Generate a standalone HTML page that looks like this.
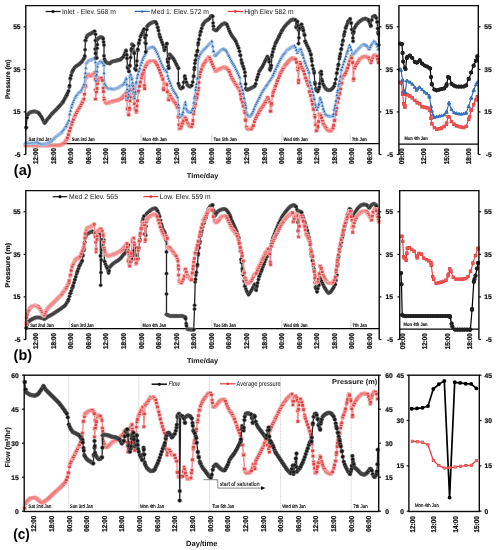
<!DOCTYPE html>
<html><head><meta charset="utf-8"><title>Pressure and flow time series</title>
<style>
html,body{margin:0;padding:0;background:#fff;}
body{width:496px;height:550px;overflow:hidden;}
svg{display:block;}
</style></head><body>
<svg width="496" height="550" viewBox="0 0 496 550" font-family="'Liberation Sans', Arial, sans-serif" text-rendering="geometricPrecision">
<rect width="496" height="550" fill="#fff"/>
<text x="28.6" y="140.8" font-size="5" text-anchor="start" font-weight="bold" fill="#111" textLength="23.7" lengthAdjust="spacingAndGlyphs" stroke="#111" stroke-width="0.12">Sat 2nd Jan</text>
<line x1="27" y1="134.5" x2="27" y2="142.5" stroke="#888" stroke-width="0.7" stroke-dasharray="0.8 0.8"/>
<text x="71.8" y="140.8" font-size="5" text-anchor="start" font-weight="bold" fill="#111" textLength="23" lengthAdjust="spacingAndGlyphs" stroke="#111" stroke-width="0.12">Sun 3rd Jan</text>
<line x1="70.2" y1="134.5" x2="70.2" y2="142.5" stroke="#888" stroke-width="0.7" stroke-dasharray="0.8 0.8"/>
<text x="142.6" y="140.8" font-size="5" text-anchor="start" font-weight="bold" fill="#111" textLength="24.2" lengthAdjust="spacingAndGlyphs" stroke="#111" stroke-width="0.12">Mon 4th Jan</text>
<line x1="141" y1="134.5" x2="141" y2="142.5" stroke="#888" stroke-width="0.7" stroke-dasharray="0.8 0.8"/>
<text x="213.4" y="140.8" font-size="5" text-anchor="start" font-weight="bold" fill="#111" textLength="23.5" lengthAdjust="spacingAndGlyphs" stroke="#111" stroke-width="0.12">Tue 5th Jan</text>
<line x1="211.8" y1="134.5" x2="211.8" y2="142.5" stroke="#888" stroke-width="0.7" stroke-dasharray="0.8 0.8"/>
<text x="283.4" y="140.8" font-size="5" text-anchor="start" font-weight="bold" fill="#111" textLength="24.5" lengthAdjust="spacingAndGlyphs" stroke="#111" stroke-width="0.12">Wed 6th Jan</text>
<line x1="281.8" y1="134.5" x2="281.8" y2="142.5" stroke="#888" stroke-width="0.7" stroke-dasharray="0.8 0.8"/>
<text x="351.9" y="140.8" font-size="5" text-anchor="start" font-weight="bold" fill="#111" textLength="15" lengthAdjust="spacingAndGlyphs" stroke="#111" stroke-width="0.12">7th Jan</text>
<line x1="350.3" y1="134.5" x2="350.3" y2="142.5" stroke="#888" stroke-width="0.7" stroke-dasharray="0.8 0.8"/>
<text x="404.4" y="139.9" font-size="5" text-anchor="start" font-weight="bold" fill="#111" textLength="23.2" lengthAdjust="spacingAndGlyphs" stroke="#111" stroke-width="0.12">Mon 4th Jan</text>
<line x1="25.8" y1="143.6" x2="379.2" y2="143.6" stroke="#000" stroke-width="1.15"/>
<line x1="398.9" y1="144" x2="478.3" y2="144" stroke="#000" stroke-width="1.25"/>
<path d="M25.5 145.3 L30 145.3 L35 145.5 L40 145.5 L45 145.3 L50 145.3 L55 145.3 L59.8 145.3 L64.3 143 L67.3 138.5 L69.6 131 L71.9 123.4 L74.9 115.8 L77.9 109.8 L80 106.9 L81.5 103.8 L83.9 99.2 L85.4 86.8 L86.2 77.6 L88.5 74.5 L90.8 76 L93.1 74.5 L94.7 72.9 L95.5 79.1 L95.5 89.9 L95.5 99.2 L97 88.4 L97.8 80.6 L99.3 77.6 L101.6 78.3 L103.2 82.2 L103.3 88.2 L103.9 98.3 L105.2 102.2 L107.1 103.4 L110.3 102.2 L114.1 100.9 L117.9 100.3 L121.7 98.3 L124.9 94.5 L126.2 93.2 L126.8 99.6 L127.4 108.5 L128.7 114.9 L129.4 109.8 L130 100.9 L131.3 90.7 L132.5 85.6 L133.2 88.2 L133.8 98.3 L135.1 108.5 L136.3 112.3 L137 106 L138.3 92 L140.2 83.1 L142.1 75.4 L144 70 L144.6 88.6 L145.2 67 L147.9 62.5 L151 61 L154.7 61 L157.2 64.8 L159.1 69.3 L161 74.4 L162.9 79.5 L163.6 89.7 L164.5 83.5 L166.8 84.6 L167.4 91 L168 96 L168.7 99.9 L169.9 94.8 L171.8 98.6 L173.8 101.1 L175.7 103.7 L177.6 107.5 L178.6 117.3 L178.9 124.9 L179.4 128.7 L180.9 127.9 L182.4 123.4 L184.7 117.3 L186.2 118.9 L187.7 123.4 L190 126.4 L192.2 126.4 L193 120.4 L193.7 111.3 L195.2 105.2 L196.8 97.7 L198.3 90.1 L199 82.6 L199.8 74 L202.8 65.5 L205.8 61 L208.9 57.2 L211.1 61 L213.4 67 L215.7 71.5 L217.9 70 L221 68.5 L224.7 67 L227 68.5 L229.3 71.5 L231.5 77.5 L234.6 82.6 L237.6 87.1 L240 91 L241 97.7 L243.3 105.2 L244.8 112.8 L245.6 120.4 L246.3 126.4 L247.1 128.7 L249.4 129.4 L251.6 128.7 L253.9 124.9 L254.7 120.4 L256.9 115.8 L259.2 111.3 L262.2 106.8 L265.2 102.2 L267.5 97.7 L269.8 102.2 L270.5 111.3 L271.3 105.2 L272.8 93.1 L275.1 87.1 L277.3 81 L280.4 73 L284.9 65.5 L288.7 61 L292.5 57.9 L295.5 59.4 L297 64 L297.8 70 L298.4 82.6 L299 68 L300 62.5 L301.5 67 L303.8 71.5 L305.3 77.5 L307.6 84 L309.1 87.1 L309.5 91.6 L311.8 100.7 L313.3 108.3 L314.8 117.3 L315.6 124.9 L316.3 131 L317.9 126.4 L319.4 114.3 L320.9 115.8 L323.1 123.4 L325.4 127.2 L327.7 130.2 L330.7 131 L333 127.9 L334.5 120.4 L336 111.3 L337.5 102.2 L339.8 93.1 L341.3 84 L342.8 76.5 L345 74 L347.3 68.5 L349.6 61 L351.1 56.4 L352.6 62.5 L353.4 80.3 L354.1 68.5 L356.4 64 L359.4 59.4 L362.5 57.2 L365.5 56.4 L368.5 57.9 L370.8 62.5 L372.3 57.9 L374.6 54.9 L376.8 56.4 L378.3 62.5" fill="none" stroke="#f08a8a" stroke-width="1.4" stroke-linejoin="round" stroke-linecap="round"/>
<g fill="#e43a3a" stroke="#f7c4c4" stroke-width="0.6"><rect x="23.9" y="143.7" width="3.3" height="3.3"/><rect x="23.9" y="143.7" width="3.3" height="3.3"/><rect x="24.9" y="143.7" width="3.3" height="3.3"/><rect x="25.9" y="143.7" width="3.3" height="3.3"/><rect x="26.9" y="143.7" width="3.3" height="3.3"/><rect x="27.9" y="143.7" width="3.3" height="3.3"/><rect x="28.9" y="143.7" width="3.3" height="3.3"/><rect x="29.9" y="143.7" width="3.3" height="3.3"/><rect x="30.9" y="143.8" width="3.3" height="3.3"/><rect x="31.9" y="143.8" width="3.3" height="3.3"/><rect x="32.9" y="143.8" width="3.3" height="3.3"/><rect x="33.9" y="143.8" width="3.3" height="3.3"/><rect x="34.9" y="143.8" width="3.3" height="3.3"/><rect x="35.9" y="143.8" width="3.3" height="3.3"/><rect x="36.9" y="143.8" width="3.3" height="3.3"/><rect x="37.9" y="143.8" width="3.3" height="3.3"/><rect x="38.9" y="143.8" width="3.3" height="3.3"/><rect x="39.9" y="143.8" width="3.3" height="3.3"/><rect x="40.9" y="143.8" width="3.3" height="3.3"/><rect x="41.9" y="143.7" width="3.3" height="3.3"/><rect x="42.9" y="143.7" width="3.3" height="3.3"/><rect x="43.9" y="143.7" width="3.3" height="3.3"/><rect x="44.9" y="143.7" width="3.3" height="3.3"/><rect x="45.9" y="143.7" width="3.3" height="3.3"/><rect x="46.9" y="143.7" width="3.3" height="3.3"/><rect x="47.9" y="143.7" width="3.3" height="3.3"/><rect x="48.9" y="143.7" width="3.3" height="3.3"/><rect x="49.9" y="143.7" width="3.3" height="3.3"/><rect x="50.9" y="143.7" width="3.3" height="3.3"/><rect x="51.9" y="143.7" width="3.3" height="3.3"/><rect x="52.9" y="143.7" width="3.3" height="3.3"/><rect x="53.9" y="143.7" width="3.3" height="3.3"/><rect x="54.9" y="143.7" width="3.3" height="3.3"/><rect x="55.9" y="143.7" width="3.3" height="3.3"/><rect x="56.9" y="143.7" width="3.3" height="3.3"/><rect x="57.9" y="143.7" width="3.3" height="3.3"/><rect x="58.9" y="143.3" width="3.3" height="3.3"/><rect x="59.9" y="142.8" width="3.3" height="3.3"/><rect x="60.9" y="142.3" width="3.3" height="3.3"/><rect x="61.9" y="141.8" width="3.3" height="3.3"/><rect x="62.9" y="141.0" width="3.3" height="3.3"/><rect x="63.9" y="139.5" width="3.3" height="3.3"/><rect x="64.8" y="138.0" width="3.3" height="3.3"/><rect x="65.6" y="136.8" width="3.3" height="3.3"/><rect x="65.8" y="136.2" width="3.3" height="3.3"/><rect x="66.8" y="132.9" width="3.3" height="3.3"/><rect x="67.8" y="129.7" width="3.3" height="3.3"/><rect x="67.9" y="129.3" width="3.3" height="3.3"/><rect x="68.8" y="126.4" width="3.3" height="3.3"/><rect x="69.8" y="123.1" width="3.3" height="3.3"/><rect x="70.2" y="121.8" width="3.3" height="3.3"/><rect x="70.8" y="120.2" width="3.3" height="3.3"/><rect x="71.8" y="117.7" width="3.3" height="3.3"/><rect x="72.8" y="115.2" width="3.3" height="3.3"/><rect x="73.2" y="114.1" width="3.3" height="3.3"/><rect x="73.8" y="113.0" width="3.3" height="3.3"/><rect x="74.8" y="111.0" width="3.3" height="3.3"/><rect x="75.8" y="109.0" width="3.3" height="3.3"/><rect x="76.8" y="107.3" width="3.3" height="3.3"/><rect x="77.8" y="105.9" width="3.3" height="3.3"/><rect x="78.8" y="104.2" width="3.3" height="3.3"/><rect x="79.8" y="102.1" width="3.3" height="3.3"/><rect x="80.8" y="100.2" width="3.3" height="3.3"/><rect x="81.8" y="98.3" width="3.3" height="3.3"/><rect x="82.2" y="97.5" width="3.3" height="3.3"/><rect x="82.8" y="92.6" width="3.3" height="3.3"/><rect x="83.8" y="85.1" width="3.3" height="3.3"/><rect x="83.8" y="84.0" width="3.3" height="3.3"/><rect x="84.5" y="75.9" width="3.3" height="3.3"/><rect x="84.8" y="75.5" width="3.3" height="3.3"/><rect x="85.8" y="74.2" width="3.3" height="3.3"/><rect x="86.8" y="72.8" width="3.3" height="3.3"/><rect x="87.8" y="73.5" width="3.3" height="3.3"/><rect x="88.8" y="74.2" width="3.3" height="3.3"/><rect x="89.8" y="73.9" width="3.3" height="3.3"/><rect x="90.8" y="73.2" width="3.3" height="3.3"/><rect x="91.8" y="72.4" width="3.3" height="3.3"/><rect x="92.8" y="71.5" width="3.3" height="3.3"/><rect x="93.0" y="71.2" width="3.3" height="3.3"/><rect x="93.8" y="77.4" width="3.3" height="3.3"/><rect x="93.8" y="77.4" width="3.3" height="3.3"/><rect x="93.8" y="88.2" width="3.3" height="3.3"/><rect x="93.8" y="97.5" width="3.3" height="3.3"/><rect x="94.8" y="90.3" width="3.3" height="3.3"/><rect x="95.3" y="86.8" width="3.3" height="3.3"/><rect x="95.8" y="81.9" width="3.3" height="3.3"/><rect x="96.1" y="78.9" width="3.3" height="3.3"/><rect x="96.8" y="77.5" width="3.3" height="3.3"/><rect x="97.8" y="76.0" width="3.3" height="3.3"/><rect x="98.8" y="76.3" width="3.3" height="3.3"/><rect x="99.8" y="76.6" width="3.3" height="3.3"/><rect x="100.8" y="78.8" width="3.3" height="3.3"/><rect x="101.6" y="86.5" width="3.3" height="3.3"/><rect x="101.8" y="89.9" width="3.3" height="3.3"/><rect x="102.2" y="96.6" width="3.3" height="3.3"/><rect x="102.8" y="98.4" width="3.3" height="3.3"/><rect x="103.8" y="100.7" width="3.3" height="3.3"/><rect x="104.8" y="101.4" width="3.3" height="3.3"/><rect x="105.8" y="101.6" width="3.3" height="3.3"/><rect x="106.8" y="101.2" width="3.3" height="3.3"/><rect x="107.8" y="100.8" width="3.3" height="3.3"/><rect x="108.8" y="100.5" width="3.3" height="3.3"/><rect x="109.8" y="100.1" width="3.3" height="3.3"/><rect x="110.8" y="99.8" width="3.3" height="3.3"/><rect x="111.8" y="99.5" width="3.3" height="3.3"/><rect x="112.8" y="99.2" width="3.3" height="3.3"/><rect x="113.8" y="99.0" width="3.3" height="3.3"/><rect x="114.8" y="98.9" width="3.3" height="3.3"/><rect x="115.8" y="98.7" width="3.3" height="3.3"/><rect x="116.8" y="98.3" width="3.3" height="3.3"/><rect x="117.8" y="97.8" width="3.3" height="3.3"/><rect x="118.8" y="97.3" width="3.3" height="3.3"/><rect x="119.8" y="96.8" width="3.3" height="3.3"/><rect x="120.8" y="95.7" width="3.3" height="3.3"/><rect x="121.8" y="94.5" width="3.3" height="3.3"/><rect x="122.8" y="93.3" width="3.3" height="3.3"/><rect x="123.8" y="92.2" width="3.3" height="3.3"/><rect x="124.5" y="91.5" width="3.3" height="3.3"/><rect x="124.8" y="94.8" width="3.3" height="3.3"/><rect x="125.1" y="97.9" width="3.3" height="3.3"/><rect x="125.8" y="106.8" width="3.3" height="3.3"/><rect x="125.8" y="107.3" width="3.3" height="3.3"/><rect x="126.8" y="112.3" width="3.3" height="3.3"/><rect x="127.0" y="113.2" width="3.3" height="3.3"/><rect x="127.8" y="108.1" width="3.3" height="3.3"/><rect x="127.8" y="106.7" width="3.3" height="3.3"/><rect x="128.3" y="99.2" width="3.3" height="3.3"/><rect x="128.8" y="95.3" width="3.3" height="3.3"/><rect x="129.7" y="89.0" width="3.3" height="3.3"/><rect x="129.8" y="88.2" width="3.3" height="3.3"/><rect x="130.8" y="83.9" width="3.3" height="3.3"/><rect x="131.5" y="86.5" width="3.3" height="3.3"/><rect x="131.8" y="91.6" width="3.3" height="3.3"/><rect x="132.2" y="96.6" width="3.3" height="3.3"/><rect x="132.8" y="102.1" width="3.3" height="3.3"/><rect x="133.4" y="106.8" width="3.3" height="3.3"/><rect x="133.8" y="108.1" width="3.3" height="3.3"/><rect x="134.7" y="110.6" width="3.3" height="3.3"/><rect x="134.8" y="108.9" width="3.3" height="3.3"/><rect x="135.3" y="104.3" width="3.3" height="3.3"/><rect x="135.8" y="99.0" width="3.3" height="3.3"/><rect x="136.7" y="90.3" width="3.3" height="3.3"/><rect x="136.8" y="89.4" width="3.3" height="3.3"/><rect x="137.8" y="84.7" width="3.3" height="3.3"/><rect x="138.5" y="81.4" width="3.3" height="3.3"/><rect x="138.8" y="80.2" width="3.3" height="3.3"/><rect x="139.8" y="76.2" width="3.3" height="3.3"/><rect x="140.4" y="73.8" width="3.3" height="3.3"/><rect x="140.8" y="72.6" width="3.3" height="3.3"/><rect x="141.8" y="69.8" width="3.3" height="3.3"/><rect x="142.3" y="68.3" width="3.3" height="3.3"/><rect x="142.8" y="83.9" width="3.3" height="3.3"/><rect x="142.9" y="86.9" width="3.3" height="3.3"/><rect x="143.5" y="65.3" width="3.3" height="3.3"/><rect x="143.8" y="64.8" width="3.3" height="3.3"/><rect x="144.8" y="63.2" width="3.3" height="3.3"/><rect x="145.8" y="61.5" width="3.3" height="3.3"/><rect x="146.8" y="60.6" width="3.3" height="3.3"/><rect x="147.8" y="60.1" width="3.3" height="3.3"/><rect x="148.8" y="59.6" width="3.3" height="3.3"/><rect x="149.8" y="59.4" width="3.3" height="3.3"/><rect x="150.8" y="59.4" width="3.3" height="3.3"/><rect x="151.8" y="59.4" width="3.3" height="3.3"/><rect x="152.8" y="59.4" width="3.3" height="3.3"/><rect x="153.8" y="60.6" width="3.3" height="3.3"/><rect x="154.8" y="62.1" width="3.3" height="3.3"/><rect x="155.8" y="63.9" width="3.3" height="3.3"/><rect x="156.8" y="66.2" width="3.3" height="3.3"/><rect x="157.8" y="68.7" width="3.3" height="3.3"/><rect x="158.8" y="71.4" width="3.3" height="3.3"/><rect x="159.8" y="74.1" width="3.3" height="3.3"/><rect x="160.8" y="76.8" width="3.3" height="3.3"/><rect x="161.2" y="77.8" width="3.3" height="3.3"/><rect x="161.8" y="86.6" width="3.3" height="3.3"/><rect x="161.9" y="88.0" width="3.3" height="3.3"/><rect x="162.8" y="81.8" width="3.3" height="3.3"/><rect x="162.8" y="81.8" width="3.3" height="3.3"/><rect x="163.8" y="82.3" width="3.3" height="3.3"/><rect x="164.8" y="82.8" width="3.3" height="3.3"/><rect x="165.2" y="82.9" width="3.3" height="3.3"/><rect x="165.8" y="89.3" width="3.3" height="3.3"/><rect x="165.8" y="90.2" width="3.3" height="3.3"/><rect x="166.8" y="97.1" width="3.3" height="3.3"/><rect x="167.0" y="98.2" width="3.3" height="3.3"/><rect x="167.8" y="94.8" width="3.3" height="3.3"/><rect x="168.2" y="93.1" width="3.3" height="3.3"/><rect x="168.8" y="94.3" width="3.3" height="3.3"/><rect x="169.8" y="96.3" width="3.3" height="3.3"/><rect x="170.8" y="97.8" width="3.3" height="3.3"/><rect x="171.8" y="99.1" width="3.3" height="3.3"/><rect x="172.8" y="100.4" width="3.3" height="3.3"/><rect x="173.8" y="101.8" width="3.3" height="3.3"/><rect x="174.8" y="103.7" width="3.3" height="3.3"/><rect x="175.8" y="105.7" width="3.3" height="3.3"/><rect x="175.9" y="105.8" width="3.3" height="3.3"/><rect x="176.8" y="114.7" width="3.3" height="3.3"/><rect x="176.9" y="115.6" width="3.3" height="3.3"/><rect x="177.2" y="123.2" width="3.3" height="3.3"/><rect x="177.8" y="127.0" width="3.3" height="3.3"/><rect x="178.8" y="126.5" width="3.3" height="3.3"/><rect x="179.8" y="124.5" width="3.3" height="3.3"/><rect x="180.8" y="121.8" width="3.3" height="3.3"/><rect x="180.8" y="121.5" width="3.3" height="3.3"/><rect x="181.8" y="118.8" width="3.3" height="3.3"/><rect x="182.8" y="116.2" width="3.3" height="3.3"/><rect x="183.0" y="115.6" width="3.3" height="3.3"/><rect x="183.8" y="116.5" width="3.3" height="3.3"/><rect x="184.8" y="118.2" width="3.3" height="3.3"/><rect x="185.8" y="121.2" width="3.3" height="3.3"/><rect x="186.8" y="122.8" width="3.3" height="3.3"/><rect x="187.8" y="124.1" width="3.3" height="3.3"/><rect x="188.8" y="124.8" width="3.3" height="3.3"/><rect x="189.8" y="124.8" width="3.3" height="3.3"/><rect x="190.8" y="122.5" width="3.3" height="3.3"/><rect x="191.3" y="118.8" width="3.3" height="3.3"/><rect x="191.8" y="112.2" width="3.3" height="3.3"/><rect x="192.0" y="109.6" width="3.3" height="3.3"/><rect x="192.8" y="106.4" width="3.3" height="3.3"/><rect x="193.5" y="103.5" width="3.3" height="3.3"/><rect x="193.8" y="102.1" width="3.3" height="3.3"/><rect x="194.8" y="97.5" width="3.3" height="3.3"/><rect x="195.2" y="96.0" width="3.3" height="3.3"/><rect x="195.8" y="92.5" width="3.3" height="3.3"/><rect x="196.7" y="88.4" width="3.3" height="3.3"/><rect x="196.8" y="86.3" width="3.3" height="3.3"/><rect x="197.3" y="80.9" width="3.3" height="3.3"/><rect x="197.8" y="75.6" width="3.3" height="3.3"/><rect x="198.2" y="72.3" width="3.3" height="3.3"/><rect x="198.8" y="70.4" width="3.3" height="3.3"/><rect x="199.8" y="67.5" width="3.3" height="3.3"/><rect x="200.8" y="64.7" width="3.3" height="3.3"/><rect x="201.2" y="63.9" width="3.3" height="3.3"/><rect x="201.8" y="62.8" width="3.3" height="3.3"/><rect x="202.8" y="61.3" width="3.3" height="3.3"/><rect x="203.8" y="59.8" width="3.3" height="3.3"/><rect x="204.8" y="58.5" width="3.3" height="3.3"/><rect x="205.8" y="57.3" width="3.3" height="3.3"/><rect x="206.8" y="56.0" width="3.3" height="3.3"/><rect x="207.2" y="55.6" width="3.3" height="3.3"/><rect x="207.8" y="56.6" width="3.3" height="3.3"/><rect x="208.8" y="58.3" width="3.3" height="3.3"/><rect x="209.8" y="60.4" width="3.3" height="3.3"/><rect x="210.8" y="63.0" width="3.3" height="3.3"/><rect x="211.8" y="65.5" width="3.3" height="3.3"/><rect x="212.8" y="67.5" width="3.3" height="3.3"/><rect x="213.8" y="69.5" width="3.3" height="3.3"/><rect x="214.8" y="69.3" width="3.3" height="3.3"/><rect x="215.8" y="68.6" width="3.3" height="3.3"/><rect x="216.8" y="68.1" width="3.3" height="3.3"/><rect x="217.8" y="67.6" width="3.3" height="3.3"/><rect x="218.8" y="67.1" width="3.3" height="3.3"/><rect x="219.8" y="66.6" width="3.3" height="3.3"/><rect x="220.8" y="66.2" width="3.3" height="3.3"/><rect x="221.8" y="65.8" width="3.3" height="3.3"/><rect x="222.8" y="65.4" width="3.3" height="3.3"/><rect x="223.8" y="65.9" width="3.3" height="3.3"/><rect x="224.8" y="66.5" width="3.3" height="3.3"/><rect x="225.8" y="67.5" width="3.3" height="3.3"/><rect x="226.8" y="68.8" width="3.3" height="3.3"/><rect x="227.8" y="70.4" width="3.3" height="3.3"/><rect x="228.8" y="73.1" width="3.3" height="3.3"/><rect x="229.8" y="75.8" width="3.3" height="3.3"/><rect x="230.8" y="77.5" width="3.3" height="3.3"/><rect x="231.8" y="79.1" width="3.3" height="3.3"/><rect x="232.8" y="80.8" width="3.3" height="3.3"/><rect x="233.8" y="82.3" width="3.3" height="3.3"/><rect x="234.8" y="83.8" width="3.3" height="3.3"/><rect x="235.8" y="85.3" width="3.3" height="3.3"/><rect x="236.8" y="86.9" width="3.3" height="3.3"/><rect x="237.8" y="88.5" width="3.3" height="3.3"/><rect x="238.3" y="89.3" width="3.3" height="3.3"/><rect x="238.8" y="92.7" width="3.3" height="3.3"/><rect x="239.3" y="96.0" width="3.3" height="3.3"/><rect x="239.8" y="97.7" width="3.3" height="3.3"/><rect x="240.8" y="100.9" width="3.3" height="3.3"/><rect x="241.7" y="103.5" width="3.3" height="3.3"/><rect x="241.8" y="104.6" width="3.3" height="3.3"/><rect x="242.8" y="109.6" width="3.3" height="3.3"/><rect x="243.2" y="111.1" width="3.3" height="3.3"/><rect x="243.8" y="117.8" width="3.3" height="3.3"/><rect x="243.9" y="118.8" width="3.3" height="3.3"/><rect x="244.8" y="125.3" width="3.3" height="3.3"/><rect x="245.8" y="127.2" width="3.3" height="3.3"/><rect x="246.8" y="127.5" width="3.3" height="3.3"/><rect x="247.8" y="127.7" width="3.3" height="3.3"/><rect x="248.8" y="127.4" width="3.3" height="3.3"/><rect x="249.8" y="127.1" width="3.3" height="3.3"/><rect x="250.8" y="125.6" width="3.3" height="3.3"/><rect x="251.8" y="123.9" width="3.3" height="3.3"/><rect x="252.8" y="119.9" width="3.3" height="3.3"/><rect x="253.8" y="117.1" width="3.3" height="3.3"/><rect x="254.8" y="115.0" width="3.3" height="3.3"/><rect x="255.8" y="113.0" width="3.3" height="3.3"/><rect x="256.9" y="111.0" width="3.3" height="3.3"/><rect x="257.9" y="109.2" width="3.3" height="3.3"/><rect x="258.9" y="107.7" width="3.3" height="3.3"/><rect x="259.9" y="106.2" width="3.3" height="3.3"/><rect x="260.9" y="104.7" width="3.3" height="3.3"/><rect x="261.9" y="103.2" width="3.3" height="3.3"/><rect x="262.9" y="101.6" width="3.3" height="3.3"/><rect x="263.9" y="100.0" width="3.3" height="3.3"/><rect x="264.9" y="98.0" width="3.3" height="3.3"/><rect x="265.9" y="96.0" width="3.3" height="3.3"/><rect x="265.9" y="96.0" width="3.3" height="3.3"/><rect x="266.9" y="98.0" width="3.3" height="3.3"/><rect x="267.9" y="100.0" width="3.3" height="3.3"/><rect x="268.2" y="100.5" width="3.3" height="3.3"/><rect x="268.9" y="109.6" width="3.3" height="3.3"/><rect x="268.9" y="109.6" width="3.3" height="3.3"/><rect x="269.7" y="103.5" width="3.3" height="3.3"/><rect x="269.9" y="101.9" width="3.3" height="3.3"/><rect x="270.9" y="93.9" width="3.3" height="3.3"/><rect x="271.2" y="91.4" width="3.3" height="3.3"/><rect x="271.9" y="89.6" width="3.3" height="3.3"/><rect x="272.9" y="87.0" width="3.3" height="3.3"/><rect x="273.5" y="85.4" width="3.3" height="3.3"/><rect x="273.9" y="84.3" width="3.3" height="3.3"/><rect x="274.9" y="81.6" width="3.3" height="3.3"/><rect x="275.7" y="79.3" width="3.3" height="3.3"/><rect x="275.9" y="78.8" width="3.3" height="3.3"/><rect x="276.9" y="76.3" width="3.3" height="3.3"/><rect x="277.9" y="73.7" width="3.3" height="3.3"/><rect x="278.8" y="71.3" width="3.3" height="3.3"/><rect x="278.9" y="71.2" width="3.3" height="3.3"/><rect x="279.9" y="69.5" width="3.3" height="3.3"/><rect x="280.9" y="67.8" width="3.3" height="3.3"/><rect x="281.9" y="66.2" width="3.3" height="3.3"/><rect x="282.9" y="64.5" width="3.3" height="3.3"/><rect x="283.2" y="63.9" width="3.3" height="3.3"/><rect x="283.9" y="63.1" width="3.3" height="3.3"/><rect x="284.9" y="62.0" width="3.3" height="3.3"/><rect x="285.9" y="60.8" width="3.3" height="3.3"/><rect x="286.9" y="59.6" width="3.3" height="3.3"/><rect x="287.9" y="58.7" width="3.3" height="3.3"/><rect x="288.9" y="57.9" width="3.3" height="3.3"/><rect x="289.9" y="57.1" width="3.3" height="3.3"/><rect x="290.9" y="56.2" width="3.3" height="3.3"/><rect x="291.9" y="56.8" width="3.3" height="3.3"/><rect x="292.9" y="57.2" width="3.3" height="3.3"/><rect x="293.9" y="57.8" width="3.3" height="3.3"/><rect x="294.9" y="60.8" width="3.3" height="3.3"/><rect x="295.9" y="66.1" width="3.3" height="3.3"/><rect x="296.2" y="68.3" width="3.3" height="3.3"/><rect x="296.8" y="80.9" width="3.3" height="3.3"/><rect x="296.9" y="78.5" width="3.3" height="3.3"/><rect x="297.4" y="66.3" width="3.3" height="3.3"/><rect x="297.9" y="63.6" width="3.3" height="3.3"/><rect x="298.4" y="60.9" width="3.3" height="3.3"/><rect x="298.9" y="62.4" width="3.3" height="3.3"/><rect x="299.9" y="65.3" width="3.3" height="3.3"/><rect x="300.9" y="67.3" width="3.3" height="3.3"/><rect x="301.9" y="69.3" width="3.3" height="3.3"/><rect x="302.9" y="72.6" width="3.3" height="3.3"/><rect x="303.7" y="75.8" width="3.3" height="3.3"/><rect x="303.9" y="76.4" width="3.3" height="3.3"/><rect x="304.9" y="79.2" width="3.3" height="3.3"/><rect x="305.9" y="82.1" width="3.3" height="3.3"/><rect x="306.0" y="82.3" width="3.3" height="3.3"/><rect x="306.9" y="84.2" width="3.3" height="3.3"/><rect x="307.9" y="89.9" width="3.3" height="3.3"/><rect x="307.9" y="89.9" width="3.3" height="3.3"/><rect x="308.9" y="93.9" width="3.3" height="3.3"/><rect x="309.9" y="97.9" width="3.3" height="3.3"/><rect x="310.2" y="99.0" width="3.3" height="3.3"/><rect x="310.9" y="102.6" width="3.3" height="3.3"/><rect x="311.7" y="106.6" width="3.3" height="3.3"/><rect x="311.9" y="107.8" width="3.3" height="3.3"/><rect x="312.9" y="113.8" width="3.3" height="3.3"/><rect x="313.2" y="115.6" width="3.3" height="3.3"/><rect x="313.9" y="122.3" width="3.3" height="3.3"/><rect x="314.0" y="123.2" width="3.3" height="3.3"/><rect x="314.7" y="129.3" width="3.3" height="3.3"/><rect x="314.9" y="128.8" width="3.3" height="3.3"/><rect x="315.9" y="125.9" width="3.3" height="3.3"/><rect x="316.2" y="124.8" width="3.3" height="3.3"/><rect x="316.9" y="119.9" width="3.3" height="3.3"/><rect x="317.8" y="112.6" width="3.3" height="3.3"/><rect x="317.9" y="112.8" width="3.3" height="3.3"/><rect x="318.9" y="113.8" width="3.3" height="3.3"/><rect x="319.2" y="114.1" width="3.3" height="3.3"/><rect x="319.9" y="116.2" width="3.3" height="3.3"/><rect x="320.9" y="119.7" width="3.3" height="3.3"/><rect x="321.5" y="121.8" width="3.3" height="3.3"/><rect x="321.9" y="122.4" width="3.3" height="3.3"/><rect x="322.9" y="124.1" width="3.3" height="3.3"/><rect x="323.9" y="125.7" width="3.3" height="3.3"/><rect x="324.9" y="127.0" width="3.3" height="3.3"/><rect x="325.9" y="128.3" width="3.3" height="3.3"/><rect x="326.9" y="128.8" width="3.3" height="3.3"/><rect x="327.9" y="129.0" width="3.3" height="3.3"/><rect x="328.9" y="129.3" width="3.3" height="3.3"/><rect x="329.9" y="128.3" width="3.3" height="3.3"/><rect x="330.9" y="126.9" width="3.3" height="3.3"/><rect x="331.4" y="126.2" width="3.3" height="3.3"/><rect x="331.9" y="123.8" width="3.3" height="3.3"/><rect x="332.9" y="118.8" width="3.3" height="3.3"/><rect x="332.9" y="118.8" width="3.3" height="3.3"/><rect x="333.9" y="112.7" width="3.3" height="3.3"/><rect x="334.4" y="109.6" width="3.3" height="3.3"/><rect x="334.9" y="106.6" width="3.3" height="3.3"/><rect x="335.9" y="100.5" width="3.3" height="3.3"/><rect x="335.9" y="100.5" width="3.3" height="3.3"/><rect x="336.9" y="96.6" width="3.3" height="3.3"/><rect x="337.9" y="92.6" width="3.3" height="3.3"/><rect x="338.2" y="91.4" width="3.3" height="3.3"/><rect x="338.9" y="87.2" width="3.3" height="3.3"/><rect x="339.7" y="82.3" width="3.3" height="3.3"/><rect x="339.9" y="81.4" width="3.3" height="3.3"/><rect x="340.9" y="76.4" width="3.3" height="3.3"/><rect x="341.2" y="74.8" width="3.3" height="3.3"/><rect x="341.9" y="74.1" width="3.3" height="3.3"/><rect x="342.9" y="72.9" width="3.3" height="3.3"/><rect x="343.9" y="71.2" width="3.3" height="3.3"/><rect x="344.9" y="68.8" width="3.3" height="3.3"/><rect x="345.7" y="66.8" width="3.3" height="3.3"/><rect x="345.9" y="66.2" width="3.3" height="3.3"/><rect x="346.9" y="62.9" width="3.3" height="3.3"/><rect x="347.9" y="59.7" width="3.3" height="3.3"/><rect x="348.0" y="59.4" width="3.3" height="3.3"/><rect x="348.9" y="56.6" width="3.3" height="3.3"/><rect x="349.5" y="54.8" width="3.3" height="3.3"/><rect x="349.9" y="56.4" width="3.3" height="3.3"/><rect x="350.9" y="60.4" width="3.3" height="3.3"/><rect x="351.0" y="60.9" width="3.3" height="3.3"/><rect x="351.8" y="78.6" width="3.3" height="3.3"/><rect x="351.9" y="77.0" width="3.3" height="3.3"/><rect x="352.5" y="66.8" width="3.3" height="3.3"/><rect x="352.9" y="66.1" width="3.3" height="3.3"/><rect x="353.9" y="64.1" width="3.3" height="3.3"/><rect x="354.9" y="62.2" width="3.3" height="3.3"/><rect x="355.9" y="60.7" width="3.3" height="3.3"/><rect x="356.9" y="59.1" width="3.3" height="3.3"/><rect x="357.9" y="57.7" width="3.3" height="3.3"/><rect x="358.9" y="57.0" width="3.3" height="3.3"/><rect x="359.9" y="56.3" width="3.3" height="3.3"/><rect x="360.9" y="55.6" width="3.3" height="3.3"/><rect x="361.9" y="55.3" width="3.3" height="3.3"/><rect x="362.9" y="55.0" width="3.3" height="3.3"/><rect x="363.9" y="54.8" width="3.3" height="3.3"/><rect x="364.9" y="55.2" width="3.3" height="3.3"/><rect x="365.9" y="55.8" width="3.3" height="3.3"/><rect x="366.9" y="56.2" width="3.3" height="3.3"/><rect x="367.9" y="58.2" width="3.3" height="3.3"/><rect x="368.9" y="60.2" width="3.3" height="3.3"/><rect x="369.2" y="60.9" width="3.3" height="3.3"/><rect x="369.9" y="58.7" width="3.3" height="3.3"/><rect x="370.9" y="56.0" width="3.3" height="3.3"/><rect x="371.9" y="54.7" width="3.3" height="3.3"/><rect x="372.9" y="53.4" width="3.3" height="3.3"/><rect x="373.9" y="53.9" width="3.3" height="3.3"/><rect x="374.9" y="54.5" width="3.3" height="3.3"/><rect x="375.2" y="54.8" width="3.3" height="3.3"/><rect x="375.9" y="57.6" width="3.3" height="3.3"/><rect x="376.7" y="60.9" width="3.3" height="3.3"/></g>
<path d="M25.5 143 L29 143.3 L32.6 143.3 L37.1 142.3 L41.6 144.6 L46.2 143.8 L50.7 141.5 L55.2 137 L61.3 132.5 L65.8 126.4 L68.9 120.4 L69.6 114.3 L71.9 105.2 L74.9 97.7 L77.9 93.1 L80 92 L81.5 89.9 L83.9 85.3 L85.4 72.9 L86.2 62.9 L88.5 60.5 L91.6 59.8 L94.7 58.2 L95.5 62.1 L95.5 71.4 L95.9 80.6 L97 71.4 L97.8 63.6 L100.1 61.3 L102.4 62.1 L104 65.2 L104 72.9 L104.7 83.7 L106.3 86.8 L108.6 89 L110 88.5 L113.1 89.4 L117.7 87.9 L123 84.4 L124.9 81.8 L126.2 78 L126.8 84.4 L127.4 92 L127.8 98.3 L128.7 94.5 L129.4 85.6 L130 75.4 L131.3 74.2 L131.9 79.3 L133.2 85.6 L133.8 92 L134.7 98.3 L135.5 92 L136.3 81.8 L137.6 75.4 L139.5 69.1 L141.4 62.7 L143.3 57.6 L145 54.5 L146.4 51.9 L147.6 48.9 L150.2 47.6 L152.7 47 L154.6 47.6 L155.9 50.2 L157.8 54 L159.7 59.1 L161.7 64.2 L163.6 68 L165.5 71.2 L166.1 69.3 L166.8 71.8 L168 77 L169.9 82 L171.8 87.1 L173.8 91 L175.7 93.5 L177.6 97.3 L178.2 102.4 L178.9 107.5 L179.4 114.3 L180.1 117.3 L182.4 114.3 L184.7 105.2 L185.4 102.2 L186.2 108.3 L187.7 111.3 L190.7 112.8 L193 108.3 L194.5 97.7 L196 87.1 L197.5 78 L198.3 57.9 L201.3 51.9 L204.3 48.9 L207.3 45.8 L210.4 42.8 L211.9 41.3 L213.4 50.4 L214.9 56.4 L217.2 53.4 L220.2 50.4 L223.2 48.9 L226.2 50.4 L228.5 54.9 L231.5 61 L234.8 66.5 L237.5 72 L240 78 L240.3 82.6 L242.6 90.1 L244.1 97.7 L245.6 105.2 L247.1 114.3 L249.4 116.6 L251.6 114.3 L253.9 109.8 L254.7 106.8 L256.9 102.2 L259.2 97.7 L262.2 91.6 L265.2 87.1 L268.3 82.6 L270.5 79.5 L272.8 75.5 L277.3 65.5 L281.9 56.4 L286.4 50.4 L291 47.3 L294.7 45.8 L296.2 48.9 L297 53.4 L298.5 50.4 L300.8 48.9 L302.3 53.4 L304.6 61 L306.8 67 L309.1 72.5 L309.5 81 L311.8 88.6 L314.1 97.7 L315.6 105.2 L317.1 109.8 L318.6 105.2 L320.1 97.7 L321.6 102.2 L323.1 108.3 L325.4 114.3 L327.7 115.8 L330.7 116.6 L333 115.8 L334.5 108.3 L336 100.7 L337.5 91.6 L339 84 L340.5 76.5 L341.3 70 L344.3 61 L347.3 51.9 L349.6 45.1 L351.1 48.9 L352.6 54.9 L354.9 51.9 L357.9 48.9 L361 45.8 L364 44.3 L367 45.8 L369.3 48.9 L371.5 44.3 L373.8 41.3 L376.1 42.8 L378.3 48.9" fill="none" stroke="#7aaae0" stroke-width="1.4" stroke-linejoin="round" stroke-linecap="round"/>
<g fill="#1f5ba8" stroke="#c4dbf3" stroke-width="0.6"><path d="M25.5 141.1l1.85 3.2h-3.7z"/><path d="M25.5 141.1l1.85 3.2h-3.7z"/><path d="M26.4 141.2l1.85 3.2h-3.7z"/><path d="M27.3 141.2l1.85 3.2h-3.7z"/><path d="M28.2 141.3l1.85 3.2h-3.7z"/><path d="M29.1 141.4l1.85 3.2h-3.7z"/><path d="M30.0 141.4l1.85 3.2h-3.7z"/><path d="M30.9 141.4l1.85 3.2h-3.7z"/><path d="M31.8 141.4l1.85 3.2h-3.7z"/><path d="M32.7 141.4l1.85 3.2h-3.7z"/><path d="M33.6 141.2l1.85 3.2h-3.7z"/><path d="M34.5 141.0l1.85 3.2h-3.7z"/><path d="M35.4 140.8l1.85 3.2h-3.7z"/><path d="M36.3 140.6l1.85 3.2h-3.7z"/><path d="M37.2 140.4l1.85 3.2h-3.7z"/><path d="M38.1 140.9l1.85 3.2h-3.7z"/><path d="M39.0 141.3l1.85 3.2h-3.7z"/><path d="M39.9 141.8l1.85 3.2h-3.7z"/><path d="M40.8 142.3l1.85 3.2h-3.7z"/><path d="M41.7 142.7l1.85 3.2h-3.7z"/><path d="M42.6 142.5l1.85 3.2h-3.7z"/><path d="M43.5 142.3l1.85 3.2h-3.7z"/><path d="M44.4 142.2l1.85 3.2h-3.7z"/><path d="M45.3 142.0l1.85 3.2h-3.7z"/><path d="M46.2 141.9l1.85 3.2h-3.7z"/><path d="M47.1 141.4l1.85 3.2h-3.7z"/><path d="M48.0 141.0l1.85 3.2h-3.7z"/><path d="M48.9 140.5l1.85 3.2h-3.7z"/><path d="M49.8 140.0l1.85 3.2h-3.7z"/><path d="M50.7 139.6l1.85 3.2h-3.7z"/><path d="M51.6 138.7l1.85 3.2h-3.7z"/><path d="M52.5 137.8l1.85 3.2h-3.7z"/><path d="M53.4 136.9l1.85 3.2h-3.7z"/><path d="M54.3 136.0l1.85 3.2h-3.7z"/><path d="M55.2 135.1l1.85 3.2h-3.7z"/><path d="M56.1 134.4l1.85 3.2h-3.7z"/><path d="M57.0 133.7l1.85 3.2h-3.7z"/><path d="M57.9 133.1l1.85 3.2h-3.7z"/><path d="M58.8 132.4l1.85 3.2h-3.7z"/><path d="M59.7 131.8l1.85 3.2h-3.7z"/><path d="M60.6 131.1l1.85 3.2h-3.7z"/><path d="M61.3 130.6l1.85 3.2h-3.7z"/><path d="M61.5 130.3l1.85 3.2h-3.7z"/><path d="M62.4 129.1l1.85 3.2h-3.7z"/><path d="M63.3 127.9l1.85 3.2h-3.7z"/><path d="M64.2 126.6l1.85 3.2h-3.7z"/><path d="M65.1 125.4l1.85 3.2h-3.7z"/><path d="M65.8 124.5l1.85 3.2h-3.7z"/><path d="M66.0 124.1l1.85 3.2h-3.7z"/><path d="M66.9 122.3l1.85 3.2h-3.7z"/><path d="M67.8 120.6l1.85 3.2h-3.7z"/><path d="M68.7 118.9l1.85 3.2h-3.7z"/><path d="M68.9 118.5l1.85 3.2h-3.7z"/><path d="M69.6 112.4l1.85 3.2h-3.7z"/><path d="M69.6 112.4l1.85 3.2h-3.7z"/><path d="M70.5 108.8l1.85 3.2h-3.7z"/><path d="M71.4 105.3l1.85 3.2h-3.7z"/><path d="M71.9 103.3l1.85 3.2h-3.7z"/><path d="M72.3 102.3l1.85 3.2h-3.7z"/><path d="M73.2 100.0l1.85 3.2h-3.7z"/><path d="M74.1 97.8l1.85 3.2h-3.7z"/><path d="M74.9 95.8l1.85 3.2h-3.7z"/><path d="M75.0 95.6l1.85 3.2h-3.7z"/><path d="M75.9 94.2l1.85 3.2h-3.7z"/><path d="M76.8 92.9l1.85 3.2h-3.7z"/><path d="M77.7 91.5l1.85 3.2h-3.7z"/><path d="M78.6 90.8l1.85 3.2h-3.7z"/><path d="M79.5 90.3l1.85 3.2h-3.7z"/><path d="M80.4 89.5l1.85 3.2h-3.7z"/><path d="M81.3 88.3l1.85 3.2h-3.7z"/><path d="M82.2 86.6l1.85 3.2h-3.7z"/><path d="M83.1 84.9l1.85 3.2h-3.7z"/><path d="M83.9 83.4l1.85 3.2h-3.7z"/><path d="M84.0 82.6l1.85 3.2h-3.7z"/><path d="M84.9 75.1l1.85 3.2h-3.7z"/><path d="M85.4 71.0l1.85 3.2h-3.7z"/><path d="M85.8 66.0l1.85 3.2h-3.7z"/><path d="M86.2 61.0l1.85 3.2h-3.7z"/><path d="M86.7 60.5l1.85 3.2h-3.7z"/><path d="M87.6 59.5l1.85 3.2h-3.7z"/><path d="M88.5 58.6l1.85 3.2h-3.7z"/><path d="M89.4 58.4l1.85 3.2h-3.7z"/><path d="M90.3 58.2l1.85 3.2h-3.7z"/><path d="M91.2 58.0l1.85 3.2h-3.7z"/><path d="M92.1 57.6l1.85 3.2h-3.7z"/><path d="M93.0 57.2l1.85 3.2h-3.7z"/><path d="M93.9 56.7l1.85 3.2h-3.7z"/><path d="M94.8 56.8l1.85 3.2h-3.7z"/><path d="M95.5 60.2l1.85 3.2h-3.7z"/><path d="M95.5 69.5l1.85 3.2h-3.7z"/><path d="M95.7 74.1l1.85 3.2h-3.7z"/><path d="M95.9 78.7l1.85 3.2h-3.7z"/><path d="M96.6 72.8l1.85 3.2h-3.7z"/><path d="M97.0 69.5l1.85 3.2h-3.7z"/><path d="M97.5 64.6l1.85 3.2h-3.7z"/><path d="M97.8 61.7l1.85 3.2h-3.7z"/><path d="M98.4 61.1l1.85 3.2h-3.7z"/><path d="M99.3 60.2l1.85 3.2h-3.7z"/><path d="M100.2 59.4l1.85 3.2h-3.7z"/><path d="M101.1 59.7l1.85 3.2h-3.7z"/><path d="M102.0 60.0l1.85 3.2h-3.7z"/><path d="M102.9 61.1l1.85 3.2h-3.7z"/><path d="M103.8 62.9l1.85 3.2h-3.7z"/><path d="M104.0 63.3l1.85 3.2h-3.7z"/><path d="M104.0 71.0l1.85 3.2h-3.7z"/><path d="M104.7 81.8l1.85 3.2h-3.7z"/><path d="M104.7 81.8l1.85 3.2h-3.7z"/><path d="M105.6 83.5l1.85 3.2h-3.7z"/><path d="M106.5 85.1l1.85 3.2h-3.7z"/><path d="M107.4 85.9l1.85 3.2h-3.7z"/><path d="M108.3 86.8l1.85 3.2h-3.7z"/><path d="M109.2 86.9l1.85 3.2h-3.7z"/><path d="M110.1 86.6l1.85 3.2h-3.7z"/><path d="M111.0 86.9l1.85 3.2h-3.7z"/><path d="M111.9 87.1l1.85 3.2h-3.7z"/><path d="M112.8 87.4l1.85 3.2h-3.7z"/><path d="M113.7 87.3l1.85 3.2h-3.7z"/><path d="M114.6 87.0l1.85 3.2h-3.7z"/><path d="M115.5 86.7l1.85 3.2h-3.7z"/><path d="M116.4 86.4l1.85 3.2h-3.7z"/><path d="M117.3 86.1l1.85 3.2h-3.7z"/><path d="M118.2 85.6l1.85 3.2h-3.7z"/><path d="M119.1 85.1l1.85 3.2h-3.7z"/><path d="M120.0 84.5l1.85 3.2h-3.7z"/><path d="M120.9 83.9l1.85 3.2h-3.7z"/><path d="M121.8 83.3l1.85 3.2h-3.7z"/><path d="M122.7 82.7l1.85 3.2h-3.7z"/><path d="M123.6 81.7l1.85 3.2h-3.7z"/><path d="M124.5 80.4l1.85 3.2h-3.7z"/><path d="M125.4 78.4l1.85 3.2h-3.7z"/><path d="M126.2 76.1l1.85 3.2h-3.7z"/><path d="M126.3 77.1l1.85 3.2h-3.7z"/><path d="M126.8 82.5l1.85 3.2h-3.7z"/><path d="M127.2 87.5l1.85 3.2h-3.7z"/><path d="M127.4 90.1l1.85 3.2h-3.7z"/><path d="M127.8 96.4l1.85 3.2h-3.7z"/><path d="M128.1 95.1l1.85 3.2h-3.7z"/><path d="M128.7 92.6l1.85 3.2h-3.7z"/><path d="M129.0 88.8l1.85 3.2h-3.7z"/><path d="M129.4 83.7l1.85 3.2h-3.7z"/><path d="M129.9 75.2l1.85 3.2h-3.7z"/><path d="M130.0 73.5l1.85 3.2h-3.7z"/><path d="M130.8 72.7l1.85 3.2h-3.7z"/><path d="M131.7 75.7l1.85 3.2h-3.7z"/><path d="M131.9 77.4l1.85 3.2h-3.7z"/><path d="M132.6 80.8l1.85 3.2h-3.7z"/><path d="M133.2 83.7l1.85 3.2h-3.7z"/><path d="M133.5 86.9l1.85 3.2h-3.7z"/><path d="M133.8 90.1l1.85 3.2h-3.7z"/><path d="M134.4 94.3l1.85 3.2h-3.7z"/><path d="M134.7 96.4l1.85 3.2h-3.7z"/><path d="M135.3 91.7l1.85 3.2h-3.7z"/><path d="M135.5 90.1l1.85 3.2h-3.7z"/><path d="M136.2 81.2l1.85 3.2h-3.7z"/><path d="M136.3 79.9l1.85 3.2h-3.7z"/><path d="M137.1 75.9l1.85 3.2h-3.7z"/><path d="M137.6 73.5l1.85 3.2h-3.7z"/><path d="M138.0 72.2l1.85 3.2h-3.7z"/><path d="M138.9 69.2l1.85 3.2h-3.7z"/><path d="M139.5 67.2l1.85 3.2h-3.7z"/><path d="M139.8 66.2l1.85 3.2h-3.7z"/><path d="M140.7 63.1l1.85 3.2h-3.7z"/><path d="M141.4 60.8l1.85 3.2h-3.7z"/><path d="M141.6 60.2l1.85 3.2h-3.7z"/><path d="M142.5 57.8l1.85 3.2h-3.7z"/><path d="M143.4 55.5l1.85 3.2h-3.7z"/><path d="M144.3 53.9l1.85 3.2h-3.7z"/><path d="M145.2 52.2l1.85 3.2h-3.7z"/><path d="M146.1 50.5l1.85 3.2h-3.7z"/><path d="M147.0 48.5l1.85 3.2h-3.7z"/><path d="M147.9 46.8l1.85 3.2h-3.7z"/><path d="M148.8 46.4l1.85 3.2h-3.7z"/><path d="M149.7 45.9l1.85 3.2h-3.7z"/><path d="M150.6 45.6l1.85 3.2h-3.7z"/><path d="M151.5 45.4l1.85 3.2h-3.7z"/><path d="M152.4 45.1l1.85 3.2h-3.7z"/><path d="M153.3 45.3l1.85 3.2h-3.7z"/><path d="M154.2 45.6l1.85 3.2h-3.7z"/><path d="M155.1 46.7l1.85 3.2h-3.7z"/><path d="M156.0 48.5l1.85 3.2h-3.7z"/><path d="M156.9 50.3l1.85 3.2h-3.7z"/><path d="M157.8 52.1l1.85 3.2h-3.7z"/><path d="M158.7 54.5l1.85 3.2h-3.7z"/><path d="M159.6 56.9l1.85 3.2h-3.7z"/><path d="M160.5 59.2l1.85 3.2h-3.7z"/><path d="M161.4 61.5l1.85 3.2h-3.7z"/><path d="M162.3 63.5l1.85 3.2h-3.7z"/><path d="M163.2 65.3l1.85 3.2h-3.7z"/><path d="M164.1 66.9l1.85 3.2h-3.7z"/><path d="M165.0 68.4l1.85 3.2h-3.7z"/><path d="M165.9 68.0l1.85 3.2h-3.7z"/><path d="M166.8 69.9l1.85 3.2h-3.7z"/><path d="M167.7 73.8l1.85 3.2h-3.7z"/><path d="M168.6 76.7l1.85 3.2h-3.7z"/><path d="M169.5 79.0l1.85 3.2h-3.7z"/><path d="M170.4 81.4l1.85 3.2h-3.7z"/><path d="M171.3 83.8l1.85 3.2h-3.7z"/><path d="M172.2 86.0l1.85 3.2h-3.7z"/><path d="M173.1 87.7l1.85 3.2h-3.7z"/><path d="M174.0 89.3l1.85 3.2h-3.7z"/><path d="M174.9 90.5l1.85 3.2h-3.7z"/><path d="M175.8 91.8l1.85 3.2h-3.7z"/><path d="M176.7 93.6l1.85 3.2h-3.7z"/><path d="M177.6 95.4l1.85 3.2h-3.7z"/><path d="M178.5 102.7l1.85 3.2h-3.7z"/><path d="M178.9 105.6l1.85 3.2h-3.7z"/><path d="M179.4 112.4l1.85 3.2h-3.7z"/><path d="M179.4 112.4l1.85 3.2h-3.7z"/><path d="M180.3 115.1l1.85 3.2h-3.7z"/><path d="M181.2 113.9l1.85 3.2h-3.7z"/><path d="M182.1 112.8l1.85 3.2h-3.7z"/><path d="M182.4 112.4l1.85 3.2h-3.7z"/><path d="M183.0 110.0l1.85 3.2h-3.7z"/><path d="M183.9 106.4l1.85 3.2h-3.7z"/><path d="M184.7 103.3l1.85 3.2h-3.7z"/><path d="M184.8 102.8l1.85 3.2h-3.7z"/><path d="M185.4 100.3l1.85 3.2h-3.7z"/><path d="M185.7 102.6l1.85 3.2h-3.7z"/><path d="M186.2 106.4l1.85 3.2h-3.7z"/><path d="M186.6 107.2l1.85 3.2h-3.7z"/><path d="M187.5 109.0l1.85 3.2h-3.7z"/><path d="M188.4 109.7l1.85 3.2h-3.7z"/><path d="M189.3 110.2l1.85 3.2h-3.7z"/><path d="M190.2 110.6l1.85 3.2h-3.7z"/><path d="M191.1 110.1l1.85 3.2h-3.7z"/><path d="M192.0 108.3l1.85 3.2h-3.7z"/><path d="M192.9 106.6l1.85 3.2h-3.7z"/><path d="M193.0 106.4l1.85 3.2h-3.7z"/><path d="M193.8 100.7l1.85 3.2h-3.7z"/><path d="M194.5 95.8l1.85 3.2h-3.7z"/><path d="M194.7 94.4l1.85 3.2h-3.7z"/><path d="M195.6 88.0l1.85 3.2h-3.7z"/><path d="M196.0 85.2l1.85 3.2h-3.7z"/><path d="M196.5 82.1l1.85 3.2h-3.7z"/><path d="M197.4 76.7l1.85 3.2h-3.7z"/><path d="M197.5 76.1l1.85 3.2h-3.7z"/><path d="M198.3 56.0l1.85 3.2h-3.7z"/><path d="M198.3 56.0l1.85 3.2h-3.7z"/><path d="M199.2 54.2l1.85 3.2h-3.7z"/><path d="M200.1 52.4l1.85 3.2h-3.7z"/><path d="M201.0 50.6l1.85 3.2h-3.7z"/><path d="M201.9 49.4l1.85 3.2h-3.7z"/><path d="M202.8 48.5l1.85 3.2h-3.7z"/><path d="M203.7 47.6l1.85 3.2h-3.7z"/><path d="M204.6 46.7l1.85 3.2h-3.7z"/><path d="M205.5 45.7l1.85 3.2h-3.7z"/><path d="M206.4 44.8l1.85 3.2h-3.7z"/><path d="M207.3 43.9l1.85 3.2h-3.7z"/><path d="M208.2 43.0l1.85 3.2h-3.7z"/><path d="M209.1 42.1l1.85 3.2h-3.7z"/><path d="M210.0 41.3l1.85 3.2h-3.7z"/><path d="M210.9 40.4l1.85 3.2h-3.7z"/><path d="M211.8 39.5l1.85 3.2h-3.7z"/><path d="M211.9 39.4l1.85 3.2h-3.7z"/><path d="M212.7 44.2l1.85 3.2h-3.7z"/><path d="M213.4 48.5l1.85 3.2h-3.7z"/><path d="M213.6 49.3l1.85 3.2h-3.7z"/><path d="M214.5 52.9l1.85 3.2h-3.7z"/><path d="M215.4 53.8l1.85 3.2h-3.7z"/><path d="M216.3 52.7l1.85 3.2h-3.7z"/><path d="M217.2 51.5l1.85 3.2h-3.7z"/><path d="M218.1 50.6l1.85 3.2h-3.7z"/><path d="M219.0 49.7l1.85 3.2h-3.7z"/><path d="M219.9 48.8l1.85 3.2h-3.7z"/><path d="M220.8 48.2l1.85 3.2h-3.7z"/><path d="M221.7 47.7l1.85 3.2h-3.7z"/><path d="M222.6 47.3l1.85 3.2h-3.7z"/><path d="M223.5 47.1l1.85 3.2h-3.7z"/><path d="M224.4 47.6l1.85 3.2h-3.7z"/><path d="M225.3 48.0l1.85 3.2h-3.7z"/><path d="M226.2 48.5l1.85 3.2h-3.7z"/><path d="M227.1 50.2l1.85 3.2h-3.7z"/><path d="M228.0 52.0l1.85 3.2h-3.7z"/><path d="M228.5 53.0l1.85 3.2h-3.7z"/><path d="M228.9 53.8l1.85 3.2h-3.7z"/><path d="M229.8 55.6l1.85 3.2h-3.7z"/><path d="M230.7 57.5l1.85 3.2h-3.7z"/><path d="M231.5 59.1l1.85 3.2h-3.7z"/><path d="M231.6 59.2l1.85 3.2h-3.7z"/><path d="M232.5 60.7l1.85 3.2h-3.7z"/><path d="M233.4 62.2l1.85 3.2h-3.7z"/><path d="M234.3 63.7l1.85 3.2h-3.7z"/><path d="M235.2 65.4l1.85 3.2h-3.7z"/><path d="M236.1 67.2l1.85 3.2h-3.7z"/><path d="M237.0 69.1l1.85 3.2h-3.7z"/><path d="M237.9 71.0l1.85 3.2h-3.7z"/><path d="M238.8 73.2l1.85 3.2h-3.7z"/><path d="M239.7 75.4l1.85 3.2h-3.7z"/><path d="M240.3 80.7l1.85 3.2h-3.7z"/><path d="M240.6 81.7l1.85 3.2h-3.7z"/><path d="M241.5 84.6l1.85 3.2h-3.7z"/><path d="M242.4 87.5l1.85 3.2h-3.7z"/><path d="M242.6 88.2l1.85 3.2h-3.7z"/><path d="M243.3 91.7l1.85 3.2h-3.7z"/><path d="M244.1 95.8l1.85 3.2h-3.7z"/><path d="M244.2 96.3l1.85 3.2h-3.7z"/><path d="M245.1 100.8l1.85 3.2h-3.7z"/><path d="M245.6 103.3l1.85 3.2h-3.7z"/><path d="M246.0 105.7l1.85 3.2h-3.7z"/><path d="M246.9 111.2l1.85 3.2h-3.7z"/><path d="M247.1 112.4l1.85 3.2h-3.7z"/><path d="M247.8 113.1l1.85 3.2h-3.7z"/><path d="M248.7 114.0l1.85 3.2h-3.7z"/><path d="M249.6 114.5l1.85 3.2h-3.7z"/><path d="M250.5 113.5l1.85 3.2h-3.7z"/><path d="M251.4 112.6l1.85 3.2h-3.7z"/><path d="M252.3 111.0l1.85 3.2h-3.7z"/><path d="M253.2 109.2l1.85 3.2h-3.7z"/><path d="M254.1 107.1l1.85 3.2h-3.7z"/><path d="M255.0 104.3l1.85 3.2h-3.7z"/><path d="M255.9 102.4l1.85 3.2h-3.7z"/><path d="M256.8 100.5l1.85 3.2h-3.7z"/><path d="M257.7 98.7l1.85 3.2h-3.7z"/><path d="M258.6 97.0l1.85 3.2h-3.7z"/><path d="M259.2 95.8l1.85 3.2h-3.7z"/><path d="M259.5 95.2l1.85 3.2h-3.7z"/><path d="M260.4 93.3l1.85 3.2h-3.7z"/><path d="M261.3 91.5l1.85 3.2h-3.7z"/><path d="M262.2 89.7l1.85 3.2h-3.7z"/><path d="M262.2 89.7l1.85 3.2h-3.7z"/><path d="M263.1 88.3l1.85 3.2h-3.7z"/><path d="M264.0 87.0l1.85 3.2h-3.7z"/><path d="M264.9 85.6l1.85 3.2h-3.7z"/><path d="M265.8 84.3l1.85 3.2h-3.7z"/><path d="M266.7 83.0l1.85 3.2h-3.7z"/><path d="M267.6 81.7l1.85 3.2h-3.7z"/><path d="M268.5 80.4l1.85 3.2h-3.7z"/><path d="M269.4 79.1l1.85 3.2h-3.7z"/><path d="M270.3 77.9l1.85 3.2h-3.7z"/><path d="M271.2 76.4l1.85 3.2h-3.7z"/><path d="M272.1 74.8l1.85 3.2h-3.7z"/><path d="M272.8 73.6l1.85 3.2h-3.7z"/><path d="M273.0 73.1l1.85 3.2h-3.7z"/><path d="M273.9 71.1l1.85 3.2h-3.7z"/><path d="M274.8 69.1l1.85 3.2h-3.7z"/><path d="M275.7 67.1l1.85 3.2h-3.7z"/><path d="M276.6 65.1l1.85 3.2h-3.7z"/><path d="M277.3 63.6l1.85 3.2h-3.7z"/><path d="M277.5 63.2l1.85 3.2h-3.7z"/><path d="M278.4 61.4l1.85 3.2h-3.7z"/><path d="M279.3 59.6l1.85 3.2h-3.7z"/><path d="M280.2 57.8l1.85 3.2h-3.7z"/><path d="M281.1 56.1l1.85 3.2h-3.7z"/><path d="M281.9 54.5l1.85 3.2h-3.7z"/><path d="M282.0 54.3l1.85 3.2h-3.7z"/><path d="M282.9 53.1l1.85 3.2h-3.7z"/><path d="M283.8 51.9l1.85 3.2h-3.7z"/><path d="M284.7 50.7l1.85 3.2h-3.7z"/><path d="M285.6 49.5l1.85 3.2h-3.7z"/><path d="M286.5 48.4l1.85 3.2h-3.7z"/><path d="M287.4 47.8l1.85 3.2h-3.7z"/><path d="M288.3 47.2l1.85 3.2h-3.7z"/><path d="M289.2 46.6l1.85 3.2h-3.7z"/><path d="M290.1 46.0l1.85 3.2h-3.7z"/><path d="M291.0 45.4l1.85 3.2h-3.7z"/><path d="M291.9 45.0l1.85 3.2h-3.7z"/><path d="M292.8 44.6l1.85 3.2h-3.7z"/><path d="M293.7 44.3l1.85 3.2h-3.7z"/><path d="M294.6 43.9l1.85 3.2h-3.7z"/><path d="M295.5 45.5l1.85 3.2h-3.7z"/><path d="M296.4 48.1l1.85 3.2h-3.7z"/><path d="M297.3 50.9l1.85 3.2h-3.7z"/><path d="M298.2 49.1l1.85 3.2h-3.7z"/><path d="M299.1 48.1l1.85 3.2h-3.7z"/><path d="M300.0 47.5l1.85 3.2h-3.7z"/><path d="M300.9 47.3l1.85 3.2h-3.7z"/><path d="M301.8 50.0l1.85 3.2h-3.7z"/><path d="M302.3 51.5l1.85 3.2h-3.7z"/><path d="M302.7 52.8l1.85 3.2h-3.7z"/><path d="M303.6 55.8l1.85 3.2h-3.7z"/><path d="M304.5 58.7l1.85 3.2h-3.7z"/><path d="M304.6 59.1l1.85 3.2h-3.7z"/><path d="M305.4 61.3l1.85 3.2h-3.7z"/><path d="M306.3 63.7l1.85 3.2h-3.7z"/><path d="M307.2 66.0l1.85 3.2h-3.7z"/><path d="M308.1 68.2l1.85 3.2h-3.7z"/><path d="M309.0 70.3l1.85 3.2h-3.7z"/><path d="M309.1 70.6l1.85 3.2h-3.7z"/><path d="M309.5 79.1l1.85 3.2h-3.7z"/><path d="M309.9 80.4l1.85 3.2h-3.7z"/><path d="M310.8 83.4l1.85 3.2h-3.7z"/><path d="M311.7 86.3l1.85 3.2h-3.7z"/><path d="M311.8 86.7l1.85 3.2h-3.7z"/><path d="M312.6 89.8l1.85 3.2h-3.7z"/><path d="M313.5 93.4l1.85 3.2h-3.7z"/><path d="M314.1 95.8l1.85 3.2h-3.7z"/><path d="M314.4 97.3l1.85 3.2h-3.7z"/><path d="M315.3 101.8l1.85 3.2h-3.7z"/><path d="M315.6 103.3l1.85 3.2h-3.7z"/><path d="M316.2 105.1l1.85 3.2h-3.7z"/><path d="M317.1 107.9l1.85 3.2h-3.7z"/><path d="M317.1 107.9l1.85 3.2h-3.7z"/><path d="M318.0 105.1l1.85 3.2h-3.7z"/><path d="M318.6 103.3l1.85 3.2h-3.7z"/><path d="M318.9 101.8l1.85 3.2h-3.7z"/><path d="M319.8 97.3l1.85 3.2h-3.7z"/><path d="M320.1 95.8l1.85 3.2h-3.7z"/><path d="M320.7 97.6l1.85 3.2h-3.7z"/><path d="M321.6 100.3l1.85 3.2h-3.7z"/><path d="M321.6 100.3l1.85 3.2h-3.7z"/><path d="M322.5 103.9l1.85 3.2h-3.7z"/><path d="M323.1 106.4l1.85 3.2h-3.7z"/><path d="M323.4 107.2l1.85 3.2h-3.7z"/><path d="M324.3 109.5l1.85 3.2h-3.7z"/><path d="M325.2 111.9l1.85 3.2h-3.7z"/><path d="M326.1 112.8l1.85 3.2h-3.7z"/><path d="M327.0 113.4l1.85 3.2h-3.7z"/><path d="M327.9 113.9l1.85 3.2h-3.7z"/><path d="M328.8 114.2l1.85 3.2h-3.7z"/><path d="M329.7 114.4l1.85 3.2h-3.7z"/><path d="M330.6 114.7l1.85 3.2h-3.7z"/><path d="M331.5 114.4l1.85 3.2h-3.7z"/><path d="M332.4 114.1l1.85 3.2h-3.7z"/><path d="M333.0 113.9l1.85 3.2h-3.7z"/><path d="M333.3 112.4l1.85 3.2h-3.7z"/><path d="M334.2 107.9l1.85 3.2h-3.7z"/><path d="M334.5 106.4l1.85 3.2h-3.7z"/><path d="M335.1 103.3l1.85 3.2h-3.7z"/><path d="M336.0 98.8l1.85 3.2h-3.7z"/><path d="M336.0 98.8l1.85 3.2h-3.7z"/><path d="M336.9 93.3l1.85 3.2h-3.7z"/><path d="M337.5 89.7l1.85 3.2h-3.7z"/><path d="M337.8 88.2l1.85 3.2h-3.7z"/><path d="M338.7 83.6l1.85 3.2h-3.7z"/><path d="M339.0 82.1l1.85 3.2h-3.7z"/><path d="M339.6 79.1l1.85 3.2h-3.7z"/><path d="M340.5 74.6l1.85 3.2h-3.7z"/><path d="M340.5 74.6l1.85 3.2h-3.7z"/><path d="M341.3 68.1l1.85 3.2h-3.7z"/><path d="M341.4 67.8l1.85 3.2h-3.7z"/><path d="M342.3 65.1l1.85 3.2h-3.7z"/><path d="M343.2 62.4l1.85 3.2h-3.7z"/><path d="M344.1 59.7l1.85 3.2h-3.7z"/><path d="M344.3 59.1l1.85 3.2h-3.7z"/><path d="M345.0 57.0l1.85 3.2h-3.7z"/><path d="M345.9 54.2l1.85 3.2h-3.7z"/><path d="M346.8 51.5l1.85 3.2h-3.7z"/><path d="M347.3 50.0l1.85 3.2h-3.7z"/><path d="M347.7 48.8l1.85 3.2h-3.7z"/><path d="M348.6 46.1l1.85 3.2h-3.7z"/><path d="M349.5 43.5l1.85 3.2h-3.7z"/><path d="M349.6 43.2l1.85 3.2h-3.7z"/><path d="M350.4 45.2l1.85 3.2h-3.7z"/><path d="M351.3 47.8l1.85 3.2h-3.7z"/><path d="M352.2 51.4l1.85 3.2h-3.7z"/><path d="M353.1 52.3l1.85 3.2h-3.7z"/><path d="M354.0 51.2l1.85 3.2h-3.7z"/><path d="M354.9 50.0l1.85 3.2h-3.7z"/><path d="M355.8 49.1l1.85 3.2h-3.7z"/><path d="M356.7 48.2l1.85 3.2h-3.7z"/><path d="M357.6 47.3l1.85 3.2h-3.7z"/><path d="M358.5 46.4l1.85 3.2h-3.7z"/><path d="M359.4 45.5l1.85 3.2h-3.7z"/><path d="M360.3 44.6l1.85 3.2h-3.7z"/><path d="M361.2 43.8l1.85 3.2h-3.7z"/><path d="M362.1 43.3l1.85 3.2h-3.7z"/><path d="M363.0 42.9l1.85 3.2h-3.7z"/><path d="M363.9 42.4l1.85 3.2h-3.7z"/><path d="M364.8 42.8l1.85 3.2h-3.7z"/><path d="M365.7 43.2l1.85 3.2h-3.7z"/><path d="M366.6 43.7l1.85 3.2h-3.7z"/><path d="M367.5 44.6l1.85 3.2h-3.7z"/><path d="M368.4 45.8l1.85 3.2h-3.7z"/><path d="M369.3 47.0l1.85 3.2h-3.7z"/><path d="M369.3 47.0l1.85 3.2h-3.7z"/><path d="M370.2 45.1l1.85 3.2h-3.7z"/><path d="M371.1 43.2l1.85 3.2h-3.7z"/><path d="M372.0 41.7l1.85 3.2h-3.7z"/><path d="M372.9 40.6l1.85 3.2h-3.7z"/><path d="M373.8 39.4l1.85 3.2h-3.7z"/><path d="M374.7 40.0l1.85 3.2h-3.7z"/><path d="M375.6 40.6l1.85 3.2h-3.7z"/><path d="M376.1 40.9l1.85 3.2h-3.7z"/><path d="M376.5 42.0l1.85 3.2h-3.7z"/><path d="M377.4 44.5l1.85 3.2h-3.7z"/><path d="M378.3 47.0l1.85 3.2h-3.7z"/><path d="M378.3 47.0l1.85 3.2h-3.7z"/></g>
<path d="M26.2 127.6 L26.6 122 L26.9 119.5 L27.3 115.8 L29 113 L31 112 L34.8 111.3 L38.6 112.8 L41.6 117.3 L44.7 123.1 L47.7 118.9 L52.2 113.6 L58.3 107.5 L62.8 102.2 L66.6 95.4 L68.9 90.1 L69.6 85.6 L70.4 78 L72.5 71 L74.9 67 L79.4 64 L82 61.5 L84.6 57.5 L85.1 49.7 L85.4 40.8 L87 35.8 L89.3 34.3 L92.4 32.7 L94.7 31.2 L95.5 34.3 L95.5 40.5 L95.2 49 L95.8 57.8 L96.8 58 L97 48.2 L97.8 38.9 L100.1 37.2 L102.4 37.2 L103.2 38.9 L104 45.1 L104 55.9 L104.7 60.5 L107 62.9 L110 63.4 L111.6 61.7 L114.7 61 L117.7 60.2 L120.7 59.4 L123.7 56.4 L126 50.4 L126.8 54.9 L127.5 67 L129 71.5 L129.8 65.5 L131.3 50.4 L132 44.3 L133.6 45.8 L134.3 53.4 L135 68.5 L135.8 71.5 L136.6 65.5 L137.6 50.4 L138.9 42.8 L140.4 36.8 L142.6 32.2 L144.1 29.2 L144.9 35.2 L145.2 42.8 L145.7 51.9 L146.1 35.2 L147.2 26.2 L149.4 23.9 L152.5 22.4 L154.7 21.6 L156.2 22.4 L157.8 27.7 L159.9 36.5 L161.8 41.6 L163.7 46.7 L164.4 50.5 L166.9 43.5 L167.6 62 L168.8 68.3 L169.5 54.3 L171.4 56.2 L173.9 59.4 L175.8 63.2 L177.7 67 L178.4 68.3 L178.4 83.6 L179.7 87.4 L180.9 88.7 L182.8 87.4 L184.8 76 L186 81 L187.3 84.9 L189.8 86.8 L191.8 85.5 L193 81 L193.7 76 L194.3 69.6 L194.9 63.2 L196.2 55.6 L197.5 50.5 L198.3 42.8 L200.5 32.2 L202.8 24.7 L205.1 21.6 L207.3 20.1 L209.6 18.6 L211.1 15.6 L212.6 16.3 L213.1 23.1 L213.7 29.2 L216.4 30.7 L218.7 27.7 L221.7 24.7 L224.7 23.1 L227 24.7 L229.3 30.7 L231.5 35.2 L233.8 38.3 L235.5 40.5 L237.5 45.5 L239 49 L240.3 55 L241.8 62.5 L243.3 67 L244.8 71 L245.2 76 L245.6 84 L245.8 88.6 L247.1 90.1 L250.1 88.6 L253.1 87.1 L255.4 85.6 L256.2 81 L257.7 76.5 L259.2 71.5 L262.2 67 L265.2 61 L267.5 56.4 L269 59.4 L269.8 68.5 L270.5 71.5 L271.3 65.5 L272 54.9 L273.6 48.9 L275.8 42.8 L278.9 36.8 L281.9 30.7 L284.9 26.2 L287.9 23.1 L291 20.1 L293.2 19.4 L295.5 20.1 L296.3 27.5 L297.5 21.6 L298.5 30 L298.5 43.6 L299.5 29 L300.5 25.5 L301.5 23.9 L303 29.2 L304.6 35.2 L305.2 41.3 L307.3 45.8 L309.5 50.4 L311 54.9 L311.8 61 L312.6 67 L314.1 71.5 L314.8 82.6 L316.3 90.1 L317.9 91.6 L319.4 87.1 L320.2 73 L321.2 71.5 L321.8 79.5 L323.1 84 L325.4 88.6 L327.7 90.1 L330.7 90.1 L333.7 87.1 L335.2 82.6 L336 78 L336.8 73 L338.3 65.5 L339.8 56.4 L341.3 48.9 L342.8 41.3 L344.3 33.7 L345.8 27.7 L348.1 21.6 L350.4 18.6 L351.1 23.1 L351.9 29.2 L352.6 33 L353.1 41.3 L353.6 33 L354.1 29.2 L356.4 24.7 L359.4 21.6 L362.5 19.4 L365.5 18.6 L368.5 20.1 L370.8 26.2 L371.5 21.6 L372.3 17.1 L374.6 15.6 L376.1 17.1 L377.2 22 L377.6 28.5 L378.3 34 L378.8 45" fill="none" stroke="#222" stroke-width="1.3" stroke-linejoin="round" stroke-linecap="round"/>
<g fill="#161616" stroke="#8a8a8a" stroke-width="0.45"><circle cx="26.2" cy="127.6" r="1.8"/><circle cx="26.2" cy="127.6" r="1.8"/><circle cx="27.1" cy="117.7" r="1.8"/><circle cx="28.0" cy="114.6" r="1.8"/><circle cx="28.9" cy="113.2" r="1.8"/><circle cx="29.8" cy="112.6" r="1.8"/><circle cx="30.7" cy="112.2" r="1.8"/><circle cx="31.6" cy="111.9" r="1.8"/><circle cx="32.5" cy="111.7" r="1.8"/><circle cx="33.4" cy="111.6" r="1.8"/><circle cx="34.3" cy="111.4" r="1.8"/><circle cx="35.2" cy="111.5" r="1.8"/><circle cx="36.1" cy="111.8" r="1.8"/><circle cx="37.0" cy="112.2" r="1.8"/><circle cx="37.9" cy="112.5" r="1.8"/><circle cx="38.8" cy="113.1" r="1.8"/><circle cx="39.7" cy="114.4" r="1.8"/><circle cx="40.6" cy="115.8" r="1.8"/><circle cx="41.5" cy="117.1" r="1.8"/><circle cx="42.4" cy="118.8" r="1.8"/><circle cx="43.3" cy="120.5" r="1.8"/><circle cx="44.2" cy="122.2" r="1.8"/><circle cx="44.7" cy="123.1" r="1.8"/><circle cx="45.1" cy="122.5" r="1.8"/><circle cx="46.0" cy="121.3" r="1.8"/><circle cx="46.9" cy="120.0" r="1.8"/><circle cx="47.8" cy="118.8" r="1.8"/><circle cx="48.7" cy="117.7" r="1.8"/><circle cx="49.6" cy="116.7" r="1.8"/><circle cx="50.5" cy="115.6" r="1.8"/><circle cx="51.4" cy="114.5" r="1.8"/><circle cx="52.2" cy="113.6" r="1.8"/><circle cx="52.3" cy="113.5" r="1.8"/><circle cx="53.2" cy="112.6" r="1.8"/><circle cx="54.1" cy="111.7" r="1.8"/><circle cx="55.0" cy="110.8" r="1.8"/><circle cx="55.9" cy="109.9" r="1.8"/><circle cx="56.8" cy="109.0" r="1.8"/><circle cx="57.7" cy="108.1" r="1.8"/><circle cx="58.3" cy="107.5" r="1.8"/><circle cx="58.6" cy="107.1" r="1.8"/><circle cx="59.5" cy="106.1" r="1.8"/><circle cx="60.4" cy="105.0" r="1.8"/><circle cx="61.3" cy="104.0" r="1.8"/><circle cx="62.2" cy="102.9" r="1.8"/><circle cx="62.8" cy="102.2" r="1.8"/><circle cx="63.1" cy="101.7" r="1.8"/><circle cx="64.0" cy="100.1" r="1.8"/><circle cx="64.9" cy="98.4" r="1.8"/><circle cx="65.8" cy="96.8" r="1.8"/><circle cx="66.6" cy="95.4" r="1.8"/><circle cx="66.7" cy="95.2" r="1.8"/><circle cx="67.6" cy="93.1" r="1.8"/><circle cx="68.5" cy="91.0" r="1.8"/><circle cx="69.4" cy="86.9" r="1.8"/><circle cx="69.6" cy="85.6" r="1.8"/><circle cx="70.3" cy="79.0" r="1.8"/><circle cx="70.4" cy="78.0" r="1.8"/><circle cx="71.2" cy="75.3" r="1.8"/><circle cx="72.1" cy="72.3" r="1.8"/><circle cx="72.5" cy="71.0" r="1.8"/><circle cx="73.0" cy="70.2" r="1.8"/><circle cx="73.9" cy="68.7" r="1.8"/><circle cx="74.8" cy="67.2" r="1.8"/><circle cx="75.7" cy="66.5" r="1.8"/><circle cx="76.6" cy="65.9" r="1.8"/><circle cx="77.5" cy="65.3" r="1.8"/><circle cx="78.4" cy="64.7" r="1.8"/><circle cx="79.3" cy="64.1" r="1.8"/><circle cx="80.2" cy="63.2" r="1.8"/><circle cx="81.1" cy="62.4" r="1.8"/><circle cx="82.0" cy="61.5" r="1.8"/><circle cx="82.9" cy="60.1" r="1.8"/><circle cx="83.8" cy="58.7" r="1.8"/><circle cx="84.6" cy="57.5" r="1.8"/><circle cx="84.7" cy="55.9" r="1.8"/><circle cx="85.1" cy="49.7" r="1.8"/><circle cx="85.4" cy="40.8" r="1.8"/><circle cx="85.6" cy="40.2" r="1.8"/><circle cx="86.5" cy="37.4" r="1.8"/><circle cx="87.4" cy="35.5" r="1.8"/><circle cx="88.3" cy="35.0" r="1.8"/><circle cx="89.2" cy="34.4" r="1.8"/><circle cx="90.1" cy="33.9" r="1.8"/><circle cx="91.0" cy="33.4" r="1.8"/><circle cx="91.9" cy="33.0" r="1.8"/><circle cx="92.8" cy="32.4" r="1.8"/><circle cx="93.7" cy="31.9" r="1.8"/><circle cx="94.6" cy="31.3" r="1.8"/><circle cx="95.5" cy="34.3" r="1.8"/><circle cx="95.5" cy="40.5" r="1.8"/><circle cx="95.2" cy="49.0" r="1.8"/><circle cx="95.5" cy="53.4" r="1.8"/><circle cx="95.8" cy="57.8" r="1.8"/><circle cx="96.4" cy="57.9" r="1.8"/><circle cx="96.8" cy="58.0" r="1.8"/><circle cx="97.0" cy="48.2" r="1.8"/><circle cx="97.3" cy="44.7" r="1.8"/><circle cx="97.8" cy="38.9" r="1.8"/><circle cx="98.2" cy="38.6" r="1.8"/><circle cx="99.1" cy="37.9" r="1.8"/><circle cx="100.0" cy="37.3" r="1.8"/><circle cx="100.9" cy="37.2" r="1.8"/><circle cx="101.8" cy="37.2" r="1.8"/><circle cx="102.7" cy="37.8" r="1.8"/><circle cx="103.2" cy="38.9" r="1.8"/><circle cx="103.6" cy="42.0" r="1.8"/><circle cx="104.0" cy="45.1" r="1.8"/><circle cx="104.0" cy="55.9" r="1.8"/><circle cx="104.5" cy="59.2" r="1.8"/><circle cx="105.4" cy="61.2" r="1.8"/><circle cx="106.3" cy="62.2" r="1.8"/><circle cx="107.2" cy="62.9" r="1.8"/><circle cx="108.1" cy="63.1" r="1.8"/><circle cx="109.0" cy="63.2" r="1.8"/><circle cx="109.9" cy="63.4" r="1.8"/><circle cx="110.8" cy="62.5" r="1.8"/><circle cx="111.7" cy="61.7" r="1.8"/><circle cx="112.6" cy="61.5" r="1.8"/><circle cx="113.5" cy="61.3" r="1.8"/><circle cx="114.4" cy="61.1" r="1.8"/><circle cx="115.3" cy="60.8" r="1.8"/><circle cx="116.2" cy="60.6" r="1.8"/><circle cx="117.1" cy="60.4" r="1.8"/><circle cx="118.0" cy="60.1" r="1.8"/><circle cx="118.9" cy="59.9" r="1.8"/><circle cx="119.8" cy="59.6" r="1.8"/><circle cx="120.7" cy="59.4" r="1.8"/><circle cx="121.6" cy="58.5" r="1.8"/><circle cx="122.5" cy="57.6" r="1.8"/><circle cx="123.4" cy="56.7" r="1.8"/><circle cx="124.3" cy="54.8" r="1.8"/><circle cx="125.2" cy="52.5" r="1.8"/><circle cx="126.0" cy="50.4" r="1.8"/><circle cx="126.1" cy="51.0" r="1.8"/><circle cx="126.8" cy="54.9" r="1.8"/><circle cx="127.0" cy="58.4" r="1.8"/><circle cx="127.5" cy="67.0" r="1.8"/><circle cx="127.9" cy="68.2" r="1.8"/><circle cx="128.8" cy="70.9" r="1.8"/><circle cx="129.0" cy="71.5" r="1.8"/><circle cx="129.7" cy="66.2" r="1.8"/><circle cx="129.8" cy="65.5" r="1.8"/><circle cx="130.6" cy="57.4" r="1.8"/><circle cx="131.3" cy="50.4" r="1.8"/><circle cx="131.5" cy="48.7" r="1.8"/><circle cx="132.0" cy="44.3" r="1.8"/><circle cx="132.4" cy="44.7" r="1.8"/><circle cx="133.3" cy="45.5" r="1.8"/><circle cx="133.6" cy="45.8" r="1.8"/><circle cx="134.2" cy="52.3" r="1.8"/><circle cx="134.3" cy="53.4" r="1.8"/><circle cx="135.0" cy="68.5" r="1.8"/><circle cx="135.1" cy="68.9" r="1.8"/><circle cx="136.0" cy="70.0" r="1.8"/><circle cx="136.6" cy="65.5" r="1.8"/><circle cx="136.9" cy="61.0" r="1.8"/><circle cx="137.6" cy="50.4" r="1.8"/><circle cx="137.8" cy="49.2" r="1.8"/><circle cx="138.7" cy="44.0" r="1.8"/><circle cx="138.9" cy="42.8" r="1.8"/><circle cx="139.6" cy="40.0" r="1.8"/><circle cx="140.5" cy="36.6" r="1.8"/><circle cx="141.4" cy="34.7" r="1.8"/><circle cx="142.3" cy="32.8" r="1.8"/><circle cx="143.2" cy="31.0" r="1.8"/><circle cx="144.1" cy="29.2" r="1.8"/><circle cx="144.1" cy="29.2" r="1.8"/><circle cx="144.9" cy="35.2" r="1.8"/><circle cx="145.0" cy="37.7" r="1.8"/><circle cx="145.2" cy="42.8" r="1.8"/><circle cx="145.7" cy="51.9" r="1.8"/><circle cx="145.9" cy="43.5" r="1.8"/><circle cx="146.1" cy="35.2" r="1.8"/><circle cx="146.8" cy="29.5" r="1.8"/><circle cx="147.2" cy="26.2" r="1.8"/><circle cx="147.7" cy="25.7" r="1.8"/><circle cx="148.6" cy="24.7" r="1.8"/><circle cx="149.5" cy="23.9" r="1.8"/><circle cx="150.4" cy="23.4" r="1.8"/><circle cx="151.3" cy="23.0" r="1.8"/><circle cx="152.2" cy="22.5" r="1.8"/><circle cx="153.1" cy="22.2" r="1.8"/><circle cx="154.0" cy="21.9" r="1.8"/><circle cx="154.9" cy="21.7" r="1.8"/><circle cx="155.8" cy="22.2" r="1.8"/><circle cx="156.7" cy="24.1" r="1.8"/><circle cx="157.6" cy="27.0" r="1.8"/><circle cx="157.8" cy="27.7" r="1.8"/><circle cx="158.5" cy="30.6" r="1.8"/><circle cx="159.4" cy="34.4" r="1.8"/><circle cx="159.9" cy="36.5" r="1.8"/><circle cx="160.3" cy="37.6" r="1.8"/><circle cx="161.2" cy="40.0" r="1.8"/><circle cx="162.1" cy="42.4" r="1.8"/><circle cx="163.0" cy="44.8" r="1.8"/><circle cx="163.9" cy="47.8" r="1.8"/><circle cx="164.4" cy="50.5" r="1.8"/><circle cx="164.8" cy="49.4" r="1.8"/><circle cx="165.7" cy="46.9" r="1.8"/><circle cx="166.6" cy="44.3" r="1.8"/><circle cx="166.9" cy="43.5" r="1.8"/><circle cx="167.5" cy="59.4" r="1.8"/><circle cx="167.6" cy="62.0" r="1.8"/><circle cx="168.4" cy="66.2" r="1.8"/><circle cx="168.8" cy="68.3" r="1.8"/><circle cx="169.3" cy="58.3" r="1.8"/><circle cx="169.5" cy="54.3" r="1.8"/><circle cx="170.2" cy="55.0" r="1.8"/><circle cx="171.1" cy="55.9" r="1.8"/><circle cx="172.0" cy="57.0" r="1.8"/><circle cx="172.9" cy="58.1" r="1.8"/><circle cx="173.8" cy="59.3" r="1.8"/><circle cx="174.7" cy="61.0" r="1.8"/><circle cx="175.6" cy="62.8" r="1.8"/><circle cx="176.5" cy="64.6" r="1.8"/><circle cx="177.4" cy="66.4" r="1.8"/><circle cx="178.3" cy="68.1" r="1.8"/><circle cx="178.4" cy="68.3" r="1.8"/><circle cx="178.4" cy="83.6" r="1.8"/><circle cx="179.2" cy="85.9" r="1.8"/><circle cx="180.1" cy="87.8" r="1.8"/><circle cx="181.0" cy="88.6" r="1.8"/><circle cx="181.9" cy="88.0" r="1.8"/><circle cx="182.8" cy="87.4" r="1.8"/><circle cx="182.8" cy="87.4" r="1.8"/><circle cx="183.7" cy="82.3" r="1.8"/><circle cx="184.6" cy="77.1" r="1.8"/><circle cx="184.8" cy="76.0" r="1.8"/><circle cx="185.5" cy="78.9" r="1.8"/><circle cx="186.4" cy="82.2" r="1.8"/><circle cx="187.3" cy="84.9" r="1.8"/><circle cx="188.2" cy="85.6" r="1.8"/><circle cx="189.1" cy="86.3" r="1.8"/><circle cx="190.0" cy="86.7" r="1.8"/><circle cx="190.9" cy="86.1" r="1.8"/><circle cx="191.8" cy="85.5" r="1.8"/><circle cx="192.7" cy="82.1" r="1.8"/><circle cx="193.6" cy="76.7" r="1.8"/><circle cx="193.7" cy="76.0" r="1.8"/><circle cx="194.3" cy="69.6" r="1.8"/><circle cx="194.5" cy="67.5" r="1.8"/><circle cx="194.9" cy="63.2" r="1.8"/><circle cx="195.4" cy="60.3" r="1.8"/><circle cx="196.2" cy="55.6" r="1.8"/><circle cx="196.3" cy="55.2" r="1.8"/><circle cx="197.2" cy="51.7" r="1.8"/><circle cx="197.5" cy="50.5" r="1.8"/><circle cx="198.1" cy="44.7" r="1.8"/><circle cx="198.3" cy="42.8" r="1.8"/><circle cx="199.0" cy="39.4" r="1.8"/><circle cx="199.9" cy="35.1" r="1.8"/><circle cx="200.5" cy="32.2" r="1.8"/><circle cx="200.8" cy="31.2" r="1.8"/><circle cx="201.7" cy="28.3" r="1.8"/><circle cx="202.6" cy="25.4" r="1.8"/><circle cx="202.8" cy="24.7" r="1.8"/><circle cx="203.5" cy="23.8" r="1.8"/><circle cx="204.4" cy="22.5" r="1.8"/><circle cx="205.3" cy="21.5" r="1.8"/><circle cx="206.2" cy="20.8" r="1.8"/><circle cx="207.1" cy="20.2" r="1.8"/><circle cx="208.0" cy="19.6" r="1.8"/><circle cx="208.9" cy="19.1" r="1.8"/><circle cx="209.8" cy="18.2" r="1.8"/><circle cx="210.7" cy="16.4" r="1.8"/><circle cx="211.6" cy="15.8" r="1.8"/><circle cx="212.5" cy="16.3" r="1.8"/><circle cx="212.6" cy="16.3" r="1.8"/><circle cx="213.1" cy="23.1" r="1.8"/><circle cx="213.4" cy="26.2" r="1.8"/><circle cx="213.7" cy="29.2" r="1.8"/><circle cx="214.3" cy="29.5" r="1.8"/><circle cx="215.2" cy="30.0" r="1.8"/><circle cx="216.1" cy="30.5" r="1.8"/><circle cx="217.0" cy="29.9" r="1.8"/><circle cx="217.9" cy="28.7" r="1.8"/><circle cx="218.8" cy="27.6" r="1.8"/><circle cx="219.7" cy="26.7" r="1.8"/><circle cx="220.6" cy="25.8" r="1.8"/><circle cx="221.5" cy="24.9" r="1.8"/><circle cx="222.4" cy="24.3" r="1.8"/><circle cx="223.3" cy="23.8" r="1.8"/><circle cx="224.2" cy="23.4" r="1.8"/><circle cx="225.1" cy="23.4" r="1.8"/><circle cx="226.0" cy="24.0" r="1.8"/><circle cx="226.9" cy="24.6" r="1.8"/><circle cx="227.8" cy="26.8" r="1.8"/><circle cx="228.7" cy="29.1" r="1.8"/><circle cx="229.6" cy="31.3" r="1.8"/><circle cx="230.5" cy="33.2" r="1.8"/><circle cx="231.4" cy="35.0" r="1.8"/><circle cx="232.3" cy="36.3" r="1.8"/><circle cx="233.2" cy="37.5" r="1.8"/><circle cx="234.1" cy="38.7" r="1.8"/><circle cx="235.0" cy="39.9" r="1.8"/><circle cx="235.9" cy="41.5" r="1.8"/><circle cx="236.8" cy="43.8" r="1.8"/><circle cx="237.7" cy="46.0" r="1.8"/><circle cx="238.6" cy="48.1" r="1.8"/><circle cx="239.5" cy="51.3" r="1.8"/><circle cx="240.3" cy="55.0" r="1.8"/><circle cx="240.4" cy="55.5" r="1.8"/><circle cx="241.3" cy="60.0" r="1.8"/><circle cx="241.8" cy="62.5" r="1.8"/><circle cx="242.2" cy="63.7" r="1.8"/><circle cx="243.1" cy="66.4" r="1.8"/><circle cx="244.0" cy="68.9" r="1.8"/><circle cx="244.9" cy="72.3" r="1.8"/><circle cx="245.2" cy="76.0" r="1.8"/><circle cx="245.6" cy="84.0" r="1.8"/><circle cx="245.8" cy="88.6" r="1.8"/><circle cx="246.7" cy="89.6" r="1.8"/><circle cx="247.6" cy="89.8" r="1.8"/><circle cx="248.5" cy="89.4" r="1.8"/><circle cx="249.4" cy="88.9" r="1.8"/><circle cx="250.3" cy="88.5" r="1.8"/><circle cx="251.2" cy="88.0" r="1.8"/><circle cx="252.1" cy="87.6" r="1.8"/><circle cx="253.0" cy="87.1" r="1.8"/><circle cx="253.9" cy="86.6" r="1.8"/><circle cx="254.8" cy="86.0" r="1.8"/><circle cx="255.7" cy="83.9" r="1.8"/><circle cx="256.6" cy="79.8" r="1.8"/><circle cx="257.5" cy="77.1" r="1.8"/><circle cx="258.4" cy="74.2" r="1.8"/><circle cx="259.3" cy="71.3" r="1.8"/><circle cx="260.2" cy="70.0" r="1.8"/><circle cx="261.1" cy="68.6" r="1.8"/><circle cx="262.0" cy="67.3" r="1.8"/><circle cx="262.9" cy="65.6" r="1.8"/><circle cx="263.8" cy="63.8" r="1.8"/><circle cx="264.7" cy="62.0" r="1.8"/><circle cx="265.6" cy="60.2" r="1.8"/><circle cx="266.5" cy="58.4" r="1.8"/><circle cx="267.4" cy="56.6" r="1.8"/><circle cx="268.3" cy="58.0" r="1.8"/><circle cx="269.0" cy="59.4" r="1.8"/><circle cx="269.2" cy="61.7" r="1.8"/><circle cx="269.8" cy="68.5" r="1.8"/><circle cx="270.1" cy="69.8" r="1.8"/><circle cx="271.0" cy="67.7" r="1.8"/><circle cx="271.3" cy="65.5" r="1.8"/><circle cx="271.9" cy="56.4" r="1.8"/><circle cx="272.0" cy="54.9" r="1.8"/><circle cx="272.8" cy="51.9" r="1.8"/><circle cx="273.6" cy="48.9" r="1.8"/><circle cx="273.7" cy="48.6" r="1.8"/><circle cx="274.6" cy="46.1" r="1.8"/><circle cx="275.5" cy="43.6" r="1.8"/><circle cx="275.8" cy="42.8" r="1.8"/><circle cx="276.4" cy="41.6" r="1.8"/><circle cx="277.3" cy="39.9" r="1.8"/><circle cx="278.2" cy="38.2" r="1.8"/><circle cx="278.9" cy="36.8" r="1.8"/><circle cx="279.1" cy="36.4" r="1.8"/><circle cx="280.0" cy="34.6" r="1.8"/><circle cx="280.9" cy="32.7" r="1.8"/><circle cx="281.8" cy="30.9" r="1.8"/><circle cx="281.9" cy="30.7" r="1.8"/><circle cx="282.7" cy="29.5" r="1.8"/><circle cx="283.6" cy="28.1" r="1.8"/><circle cx="284.5" cy="26.8" r="1.8"/><circle cx="285.4" cy="25.7" r="1.8"/><circle cx="286.3" cy="24.8" r="1.8"/><circle cx="287.2" cy="23.8" r="1.8"/><circle cx="288.1" cy="22.9" r="1.8"/><circle cx="289.0" cy="22.0" r="1.8"/><circle cx="289.9" cy="21.2" r="1.8"/><circle cx="290.8" cy="20.3" r="1.8"/><circle cx="291.7" cy="19.9" r="1.8"/><circle cx="292.6" cy="19.6" r="1.8"/><circle cx="293.5" cy="19.5" r="1.8"/><circle cx="294.4" cy="19.8" r="1.8"/><circle cx="295.3" cy="20.0" r="1.8"/><circle cx="295.5" cy="20.1" r="1.8"/><circle cx="296.2" cy="26.6" r="1.8"/><circle cx="296.3" cy="27.5" r="1.8"/><circle cx="297.1" cy="23.6" r="1.8"/><circle cx="297.5" cy="21.6" r="1.8"/><circle cx="298.0" cy="25.8" r="1.8"/><circle cx="298.5" cy="30.0" r="1.8"/><circle cx="298.5" cy="43.6" r="1.8"/><circle cx="298.9" cy="37.8" r="1.8"/><circle cx="299.5" cy="29.0" r="1.8"/><circle cx="299.8" cy="27.9" r="1.8"/><circle cx="300.7" cy="25.2" r="1.8"/><circle cx="301.6" cy="24.3" r="1.8"/><circle cx="302.5" cy="27.4" r="1.8"/><circle cx="303.0" cy="29.2" r="1.8"/><circle cx="303.4" cy="30.7" r="1.8"/><circle cx="304.3" cy="34.1" r="1.8"/><circle cx="304.6" cy="35.2" r="1.8"/><circle cx="305.2" cy="41.3" r="1.8"/><circle cx="305.2" cy="41.3" r="1.8"/><circle cx="306.1" cy="43.2" r="1.8"/><circle cx="307.0" cy="45.2" r="1.8"/><circle cx="307.9" cy="47.1" r="1.8"/><circle cx="308.8" cy="48.9" r="1.8"/><circle cx="309.7" cy="51.0" r="1.8"/><circle cx="310.6" cy="53.7" r="1.8"/><circle cx="311.0" cy="54.9" r="1.8"/><circle cx="311.5" cy="58.7" r="1.8"/><circle cx="311.8" cy="61.0" r="1.8"/><circle cx="312.4" cy="65.5" r="1.8"/><circle cx="313.3" cy="69.1" r="1.8"/><circle cx="314.1" cy="71.5" r="1.8"/><circle cx="314.2" cy="73.1" r="1.8"/><circle cx="314.8" cy="82.6" r="1.8"/><circle cx="315.1" cy="84.1" r="1.8"/><circle cx="316.0" cy="88.6" r="1.8"/><circle cx="316.3" cy="90.1" r="1.8"/><circle cx="316.9" cy="90.7" r="1.8"/><circle cx="317.8" cy="91.5" r="1.8"/><circle cx="318.7" cy="89.2" r="1.8"/><circle cx="319.4" cy="87.1" r="1.8"/><circle cx="319.6" cy="83.6" r="1.8"/><circle cx="320.2" cy="73.0" r="1.8"/><circle cx="320.5" cy="72.6" r="1.8"/><circle cx="321.2" cy="71.5" r="1.8"/><circle cx="321.4" cy="74.2" r="1.8"/><circle cx="321.8" cy="79.5" r="1.8"/><circle cx="322.3" cy="81.2" r="1.8"/><circle cx="323.2" cy="84.2" r="1.8"/><circle cx="324.1" cy="86.0" r="1.8"/><circle cx="325.0" cy="87.8" r="1.8"/><circle cx="325.9" cy="88.9" r="1.8"/><circle cx="326.8" cy="89.5" r="1.8"/><circle cx="327.7" cy="90.1" r="1.8"/><circle cx="328.6" cy="90.1" r="1.8"/><circle cx="329.5" cy="90.1" r="1.8"/><circle cx="330.4" cy="90.1" r="1.8"/><circle cx="331.3" cy="89.5" r="1.8"/><circle cx="332.2" cy="88.6" r="1.8"/><circle cx="333.1" cy="87.7" r="1.8"/><circle cx="334.0" cy="86.2" r="1.8"/><circle cx="334.9" cy="83.5" r="1.8"/><circle cx="335.8" cy="79.2" r="1.8"/><circle cx="336.7" cy="73.6" r="1.8"/><circle cx="336.8" cy="73.0" r="1.8"/><circle cx="337.6" cy="69.0" r="1.8"/><circle cx="338.3" cy="65.5" r="1.8"/><circle cx="338.5" cy="64.3" r="1.8"/><circle cx="339.4" cy="58.8" r="1.8"/><circle cx="339.8" cy="56.4" r="1.8"/><circle cx="340.3" cy="53.9" r="1.8"/><circle cx="341.2" cy="49.4" r="1.8"/><circle cx="341.3" cy="48.9" r="1.8"/><circle cx="342.1" cy="44.8" r="1.8"/><circle cx="342.8" cy="41.3" r="1.8"/><circle cx="343.0" cy="40.3" r="1.8"/><circle cx="343.9" cy="35.7" r="1.8"/><circle cx="344.3" cy="33.7" r="1.8"/><circle cx="344.8" cy="31.7" r="1.8"/><circle cx="345.7" cy="28.1" r="1.8"/><circle cx="345.8" cy="27.7" r="1.8"/><circle cx="346.6" cy="25.6" r="1.8"/><circle cx="347.5" cy="23.2" r="1.8"/><circle cx="348.1" cy="21.6" r="1.8"/><circle cx="348.4" cy="21.2" r="1.8"/><circle cx="349.3" cy="20.0" r="1.8"/><circle cx="350.2" cy="18.9" r="1.8"/><circle cx="351.1" cy="23.1" r="1.8"/><circle cx="351.1" cy="23.1" r="1.8"/><circle cx="351.9" cy="29.2" r="1.8"/><circle cx="352.0" cy="29.7" r="1.8"/><circle cx="352.6" cy="33.0" r="1.8"/><circle cx="352.9" cy="38.0" r="1.8"/><circle cx="353.1" cy="41.3" r="1.8"/><circle cx="353.6" cy="33.0" r="1.8"/><circle cx="353.8" cy="31.5" r="1.8"/><circle cx="354.7" cy="28.0" r="1.8"/><circle cx="355.6" cy="26.3" r="1.8"/><circle cx="356.5" cy="24.6" r="1.8"/><circle cx="357.4" cy="23.7" r="1.8"/><circle cx="358.3" cy="22.7" r="1.8"/><circle cx="359.2" cy="21.8" r="1.8"/><circle cx="360.1" cy="21.1" r="1.8"/><circle cx="361.0" cy="20.5" r="1.8"/><circle cx="361.9" cy="19.8" r="1.8"/><circle cx="362.8" cy="19.3" r="1.8"/><circle cx="363.7" cy="19.1" r="1.8"/><circle cx="364.6" cy="18.8" r="1.8"/><circle cx="365.5" cy="18.6" r="1.8"/><circle cx="366.4" cy="19.0" r="1.8"/><circle cx="367.3" cy="19.5" r="1.8"/><circle cx="368.2" cy="19.9" r="1.8"/><circle cx="368.5" cy="20.1" r="1.8"/><circle cx="369.1" cy="21.7" r="1.8"/><circle cx="370.0" cy="24.1" r="1.8"/><circle cx="370.8" cy="26.2" r="1.8"/><circle cx="370.9" cy="25.5" r="1.8"/><circle cx="371.8" cy="19.9" r="1.8"/><circle cx="372.7" cy="16.8" r="1.8"/><circle cx="373.6" cy="16.3" r="1.8"/><circle cx="374.5" cy="15.7" r="1.8"/><circle cx="375.4" cy="16.4" r="1.8"/><circle cx="376.3" cy="18.0" r="1.8"/><circle cx="377.2" cy="22.0" r="1.8"/><circle cx="377.2" cy="22.0" r="1.8"/><circle cx="377.6" cy="28.5" r="1.8"/><circle cx="378.1" cy="32.4" r="1.8"/><circle cx="378.3" cy="34.0" r="1.8"/><circle cx="378.8" cy="45.0" r="1.8"/></g>
<path d="M400.1 82.3 L401.5 83.1 L402.7 94.3 L403.6 103.7 L404.9 107.1 L406.1 94.3 L408.7 95.1 L412.1 97.7 L414.7 100.3 L417.3 102.8 L419.8 103.7 L422.4 107.1 L425 107.1 L427.6 108 L430.1 110.6 L431 118.3 L431.8 123.4 L433.6 126.8 L436.1 129.4 L439.6 128.6 L443 127.7 L446.4 124.3 L448.1 116.6 L449.8 117.4 L451.6 121.7 L454.1 124.3 L456.7 126 L460.1 126.8 L463.6 127.7 L466.1 126.8 L467.8 121.7 L469.6 116.6 L471.3 109.7 L473 106.3 L474.7 102 L476.4 99.4 L477.3 96.8" fill="none" stroke="#e8393a" stroke-width="1.1" stroke-linejoin="round" stroke-linecap="round"/>
<path d="M400.1 82.3h0M400.1 82.3h0M401.5 83.1h0M402.6 92.9h0M402.7 94.3h0M403.6 103.7h0M404.9 107.1h0M405.0 106.0h0M406.1 94.3h0M407.4 94.7h0M409.9 96.0h0M412.3 97.9h0M414.8 100.4h0M417.2 102.8h0M419.7 103.7h0M422.1 106.8h0M424.6 107.1h0M427.0 107.8h0M429.5 110.0h0M430.1 110.6h0M431.0 118.3h0M431.9 123.7h0M434.4 127.6h0M436.8 129.2h0M439.3 128.7h0M441.7 128.0h0M444.2 126.5h0M446.4 124.3h0M446.6 123.2h0M448.1 116.6h0M449.1 117.1h0M451.5 121.6h0M454.0 124.2h0M456.4 125.8h0M458.9 126.5h0M461.3 127.1h0M463.8 127.6h0M466.2 126.4h0M468.7 119.2h0M469.6 116.6h0M471.1 110.3h0M471.3 109.7h0M473.6 104.8h0M476.0 99.9h0M477.3 96.8h0" fill="none" stroke="#e23434" stroke-width="3.4" stroke-linecap="square"/>
<path d="M400.1 82.3h0M400.1 82.3h0M401.5 83.1h0M402.6 92.9h0M402.7 94.3h0M403.6 103.7h0M404.9 107.1h0M405.0 106.0h0M406.1 94.3h0M407.4 94.7h0M409.9 96.0h0M412.3 97.9h0M414.8 100.4h0M417.2 102.8h0M419.7 103.7h0M422.1 106.8h0M424.6 107.1h0M427.0 107.8h0M429.5 110.0h0M430.1 110.6h0M431.0 118.3h0M431.9 123.7h0M434.4 127.6h0M436.8 129.2h0M439.3 128.7h0M441.7 128.0h0M444.2 126.5h0M446.4 124.3h0M446.6 123.2h0M448.1 116.6h0M449.1 117.1h0M451.5 121.6h0M454.0 124.2h0M456.4 125.8h0M458.9 126.5h0M461.3 127.1h0M463.8 127.6h0M466.2 126.4h0M468.7 119.2h0M469.6 116.6h0M471.1 110.3h0M471.3 109.7h0M473.6 104.8h0M476.0 99.9h0M477.3 96.8h0" fill="none" stroke="#ec5050" stroke-width="2.8" stroke-linecap="square"/>
<path d="M400.1 69.4 L401 70.3 L402.7 80.6 L403.9 90.8 L405.3 92.6 L406.7 80.6 L408.7 81.4 L411.3 83.1 L413.9 85.7 L416.4 90 L419 86.6 L421.6 89.1 L424.1 91.7 L426.7 93.4 L429.3 96 L431 106.3 L432.7 114.8 L434.4 117.4 L437.8 116.6 L441.3 115.7 L444.7 114.8 L446.4 112.3 L449 102.8 L450.7 108 L453.3 112.3 L455.8 113.1 L459.3 114 L462.7 114 L466.1 113.1 L468.7 106.3 L471.3 97.7 L473.8 90 L475.5 85.7 L477.3 82.3" fill="none" stroke="#2a66b0" stroke-width="1.1" stroke-linejoin="round" stroke-linecap="round"/>
<path d="M400.1 67.7l1.65 2.86h-3.3zM400.1 67.7l1.65 2.86h-3.3zM401.0 68.6l1.65 2.86h-3.3zM402.6 78.0l1.65 2.86h-3.3zM402.7 78.9l1.65 2.86h-3.3zM403.9 89.1l1.65 2.86h-3.3zM405.0 90.5l1.65 2.86h-3.3zM405.3 90.9l1.65 2.86h-3.3zM406.7 78.9l1.65 2.86h-3.3zM407.4 79.2l1.65 2.86h-3.3zM409.9 80.5l1.65 2.86h-3.3zM412.3 82.4l1.65 2.86h-3.3zM414.8 85.5l1.65 2.86h-3.3zM416.4 88.3l1.65 2.86h-3.3zM417.2 87.2l1.65 2.86h-3.3zM419.7 85.6l1.65 2.86h-3.3zM422.1 88.0l1.65 2.86h-3.3zM424.6 90.3l1.65 2.86h-3.3zM427.0 92.0l1.65 2.86h-3.3zM429.3 94.3l1.65 2.86h-3.3zM429.5 95.5l1.65 2.86h-3.3zM431.0 104.6l1.65 2.86h-3.3zM431.9 109.3l1.65 2.86h-3.3zM432.7 113.1l1.65 2.86h-3.3zM434.4 115.7l1.65 2.86h-3.3zM436.8 115.1l1.65 2.86h-3.3zM439.3 114.5l1.65 2.86h-3.3zM441.7 113.9l1.65 2.86h-3.3zM444.2 113.2l1.65 2.86h-3.3zM446.4 110.6l1.65 2.86h-3.3zM446.6 109.7l1.65 2.86h-3.3zM449.0 101.1l1.65 2.86h-3.3zM449.1 101.4l1.65 2.86h-3.3zM451.5 107.7l1.65 2.86h-3.3zM454.0 110.8l1.65 2.86h-3.3zM456.4 111.6l1.65 2.86h-3.3zM458.9 112.2l1.65 2.86h-3.3zM461.3 112.3l1.65 2.86h-3.3zM463.8 112.0l1.65 2.86h-3.3zM466.1 111.4l1.65 2.86h-3.3zM466.2 111.0l1.65 2.86h-3.3zM468.7 104.6l1.65 2.86h-3.3zM468.7 104.6l1.65 2.86h-3.3zM471.1 96.5l1.65 2.86h-3.3zM471.3 96.0l1.65 2.86h-3.3zM473.6 88.9l1.65 2.86h-3.3zM473.8 88.3l1.65 2.86h-3.3zM476.0 82.9l1.65 2.86h-3.3zM477.3 80.6l1.65 2.86h-3.3z" fill="#1f5aa6" stroke="#1f5aa6" stroke-width="0.5" stroke-linejoin="round"/>
<path d="M400.1 67.7l1.65 2.86h-3.3zM400.1 67.7l1.65 2.86h-3.3zM401.0 68.6l1.65 2.86h-3.3zM402.6 78.0l1.65 2.86h-3.3zM402.7 78.9l1.65 2.86h-3.3zM403.9 89.1l1.65 2.86h-3.3zM405.0 90.5l1.65 2.86h-3.3zM405.3 90.9l1.65 2.86h-3.3zM406.7 78.9l1.65 2.86h-3.3zM407.4 79.2l1.65 2.86h-3.3zM409.9 80.5l1.65 2.86h-3.3zM412.3 82.4l1.65 2.86h-3.3zM414.8 85.5l1.65 2.86h-3.3zM416.4 88.3l1.65 2.86h-3.3zM417.2 87.2l1.65 2.86h-3.3zM419.7 85.6l1.65 2.86h-3.3zM422.1 88.0l1.65 2.86h-3.3zM424.6 90.3l1.65 2.86h-3.3zM427.0 92.0l1.65 2.86h-3.3zM429.3 94.3l1.65 2.86h-3.3zM429.5 95.5l1.65 2.86h-3.3zM431.0 104.6l1.65 2.86h-3.3zM431.9 109.3l1.65 2.86h-3.3zM432.7 113.1l1.65 2.86h-3.3zM434.4 115.7l1.65 2.86h-3.3zM436.8 115.1l1.65 2.86h-3.3zM439.3 114.5l1.65 2.86h-3.3zM441.7 113.9l1.65 2.86h-3.3zM444.2 113.2l1.65 2.86h-3.3zM446.4 110.6l1.65 2.86h-3.3zM446.6 109.7l1.65 2.86h-3.3zM449.0 101.1l1.65 2.86h-3.3zM449.1 101.4l1.65 2.86h-3.3zM451.5 107.7l1.65 2.86h-3.3zM454.0 110.8l1.65 2.86h-3.3zM456.4 111.6l1.65 2.86h-3.3zM458.9 112.2l1.65 2.86h-3.3zM461.3 112.3l1.65 2.86h-3.3zM463.8 112.0l1.65 2.86h-3.3zM466.1 111.4l1.65 2.86h-3.3zM466.2 111.0l1.65 2.86h-3.3zM468.7 104.6l1.65 2.86h-3.3zM468.7 104.6l1.65 2.86h-3.3zM471.1 96.5l1.65 2.86h-3.3zM471.3 96.0l1.65 2.86h-3.3zM473.6 88.9l1.65 2.86h-3.3zM473.8 88.3l1.65 2.86h-3.3zM476.0 82.9l1.65 2.86h-3.3zM477.3 80.6l1.65 2.86h-3.3z" fill="#3a74bb"/>
<path d="M400.1 43.6 L401.9 44.1 L403.2 61.6 L404.4 66.8 L405.5 69 L406.8 58 L408.7 54.7 L411.3 56.4 L413 59 L414.7 61.7 L416.4 64.2 L418.1 60.7 L420.4 60.2 L422.4 64.1 L425 65.8 L427.6 66.7 L430.1 68.4 L431 77.1 L431.8 84 L433.6 88.3 L435.3 90.8 L437.8 90 L441.3 89.1 L444.7 88.3 L446.4 85.7 L448.1 77.1 L449.8 78 L451.6 84 L454.1 85.7 L456.7 86.6 L460.1 86.6 L463.6 86.6 L466.1 85.7 L467.8 80.6 L469.6 77.1 L471.3 72 L473 66.9 L474.7 63.4 L476.4 60 L477.3 56.4" fill="none" stroke="#000" stroke-width="1.2" stroke-linejoin="round" stroke-linecap="round"/>
<path d="M400.1 43.6h0M400.1 43.6h0M401.9 44.1h0M402.6 52.9h0M403.2 61.6h0M405.0 68.0h0M405.5 69.0h0M406.8 58.0h0M407.4 56.9h0M409.9 55.5h0M412.3 58.0h0M414.8 61.8h0M417.2 62.5h0M419.7 60.4h0M422.1 63.6h0M424.6 65.5h0M427.0 66.5h0M429.5 68.0h0M430.1 68.4h0M431.0 77.1h0M431.8 84.0h0M431.9 84.4h0M434.4 89.5h0M436.8 90.3h0M439.3 89.6h0M441.7 89.0h0M444.2 88.4h0M446.4 85.7h0M446.6 84.4h0M448.1 77.1h0M449.1 77.6h0M451.5 83.8h0M454.0 85.6h0M456.4 86.5h0M458.9 86.6h0M461.3 86.6h0M463.8 86.5h0M466.2 85.3h0M468.7 78.9h0M471.1 72.5h0M473.6 65.7h0M476.0 60.7h0M477.3 56.4h0" fill="none" stroke="#000" stroke-width="4.2" stroke-linecap="round"/>
<path d="M400.1 43.6h0M400.1 43.6h0M401.9 44.1h0M402.6 52.9h0M403.2 61.6h0M405.0 68.0h0M405.5 69.0h0M406.8 58.0h0M407.4 56.9h0M409.9 55.5h0M412.3 58.0h0M414.8 61.8h0M417.2 62.5h0M419.7 60.4h0M422.1 63.6h0M424.6 65.5h0M427.0 66.5h0M429.5 68.0h0M430.1 68.4h0M431.0 77.1h0M431.8 84.0h0M431.9 84.4h0M434.4 89.5h0M436.8 90.3h0M439.3 89.6h0M441.7 89.0h0M444.2 88.4h0M446.4 85.7h0M446.6 84.4h0M448.1 77.1h0M449.1 77.6h0M451.5 83.8h0M454.0 85.6h0M456.4 86.5h0M458.9 86.6h0M461.3 86.6h0M463.8 86.5h0M466.2 85.3h0M468.7 78.9h0M471.1 72.5h0M473.6 65.7h0M476.0 60.7h0M477.3 56.4h0" fill="none" stroke="#222" stroke-width="3.7" stroke-linecap="round"/>
<path d="M25.8 154.5V5.6H379.2V154.5" fill="none" stroke="#0a0a0a" stroke-width="1.4"/>
<path d="M398.9 154.5V5.6H478.3V154.5" fill="none" stroke="#0a0a0a" stroke-width="1.4"/>
<line x1="23.6" y1="26.8" x2="25.8" y2="26.8" stroke="#0a0a0a" stroke-width="1.2"/>
<line x1="23.6" y1="69.4" x2="25.8" y2="69.4" stroke="#0a0a0a" stroke-width="1.2"/>
<line x1="23.6" y1="111.9" x2="25.8" y2="111.9" stroke="#0a0a0a" stroke-width="1.2"/>
<line x1="23.6" y1="154.5" x2="25.8" y2="154.5" stroke="#0a0a0a" stroke-width="1.2"/>
<line x1="379.2" y1="26.8" x2="381.4" y2="26.8" stroke="#0a0a0a" stroke-width="1.2"/>
<line x1="379.2" y1="69.4" x2="381.4" y2="69.4" stroke="#0a0a0a" stroke-width="1.2"/>
<line x1="379.2" y1="111.9" x2="381.4" y2="111.9" stroke="#0a0a0a" stroke-width="1.2"/>
<line x1="379.2" y1="154.5" x2="381.4" y2="154.5" stroke="#0a0a0a" stroke-width="1.2"/>
<line x1="396.7" y1="26.8" x2="398.9" y2="26.8" stroke="#0a0a0a" stroke-width="1.2"/>
<line x1="396.7" y1="69.4" x2="398.9" y2="69.4" stroke="#0a0a0a" stroke-width="1.2"/>
<line x1="396.7" y1="111.9" x2="398.9" y2="111.9" stroke="#0a0a0a" stroke-width="1.2"/>
<line x1="396.7" y1="154.5" x2="398.9" y2="154.5" stroke="#0a0a0a" stroke-width="1.2"/>
<line x1="478.3" y1="26.8" x2="480.5" y2="26.8" stroke="#0a0a0a" stroke-width="1.2"/>
<line x1="478.3" y1="69.4" x2="480.5" y2="69.4" stroke="#0a0a0a" stroke-width="1.2"/>
<line x1="478.3" y1="111.9" x2="480.5" y2="111.9" stroke="#0a0a0a" stroke-width="1.2"/>
<line x1="478.3" y1="154.5" x2="480.5" y2="154.5" stroke="#0a0a0a" stroke-width="1.2"/>
<text x="20.6" y="29.21" font-size="6.7" text-anchor="end" font-weight="bold" fill="#111" stroke="#111" stroke-width="0.2">55</text>
<text x="20.6" y="71.81" font-size="6.7" text-anchor="end" font-weight="bold" fill="#111" stroke="#111" stroke-width="0.2">35</text>
<text x="20.6" y="114.31" font-size="6.7" text-anchor="end" font-weight="bold" fill="#111" stroke="#111" stroke-width="0.2">15</text>
<text x="20.6" y="156.91" font-size="6.7" text-anchor="end" font-weight="bold" fill="#111" stroke="#111" stroke-width="0.2">-5</text>
<text x="392.9" y="29.21" font-size="6.7" text-anchor="end" font-weight="bold" fill="#111" stroke="#111" stroke-width="0.2">55</text>
<text x="392.9" y="71.81" font-size="6.7" text-anchor="end" font-weight="bold" fill="#111" stroke="#111" stroke-width="0.2">35</text>
<text x="392.9" y="114.31" font-size="6.7" text-anchor="end" font-weight="bold" fill="#111" stroke="#111" stroke-width="0.2">15</text>
<text x="392.9" y="156.91" font-size="6.7" text-anchor="end" font-weight="bold" fill="#111" stroke="#111" stroke-width="0.2">-5</text>
<text x="491.7" y="29.21" font-size="6.7" text-anchor="end" font-weight="bold" fill="#111" stroke="#111" stroke-width="0.2">55</text>
<text x="491.7" y="71.81" font-size="6.7" text-anchor="end" font-weight="bold" fill="#111" stroke="#111" stroke-width="0.2">35</text>
<text x="491.7" y="114.31" font-size="6.7" text-anchor="end" font-weight="bold" fill="#111" stroke="#111" stroke-width="0.2">15</text>
<text x="491.7" y="156.91" font-size="6.7" text-anchor="end" font-weight="bold" fill="#111" stroke="#111" stroke-width="0.2">-5</text>
<text transform="translate(35.7 148) rotate(-90)" dy="0.36em" font-size="7" text-anchor="end" font-weight="bold" fill="#111" textLength="16" lengthAdjust="spacingAndGlyphs" stroke="#111" stroke-width="0.3">12:00</text>
<text transform="translate(53.27 148) rotate(-90)" dy="0.36em" font-size="7" text-anchor="end" font-weight="bold" fill="#111" textLength="16" lengthAdjust="spacingAndGlyphs" stroke="#111" stroke-width="0.3">18:00</text>
<text transform="translate(70.83 148) rotate(-90)" dy="0.36em" font-size="7" text-anchor="end" font-weight="bold" fill="#111" textLength="16" lengthAdjust="spacingAndGlyphs" stroke="#111" stroke-width="0.3">00:00</text>
<text transform="translate(88.4 148) rotate(-90)" dy="0.36em" font-size="7" text-anchor="end" font-weight="bold" fill="#111" textLength="16" lengthAdjust="spacingAndGlyphs" stroke="#111" stroke-width="0.3">06:00</text>
<text transform="translate(105.96 148) rotate(-90)" dy="0.36em" font-size="7" text-anchor="end" font-weight="bold" fill="#111" textLength="16" lengthAdjust="spacingAndGlyphs" stroke="#111" stroke-width="0.3">12:00</text>
<text transform="translate(123.53 148) rotate(-90)" dy="0.36em" font-size="7" text-anchor="end" font-weight="bold" fill="#111" textLength="16" lengthAdjust="spacingAndGlyphs" stroke="#111" stroke-width="0.3">18:00</text>
<text transform="translate(141.09 148) rotate(-90)" dy="0.36em" font-size="7" text-anchor="end" font-weight="bold" fill="#111" textLength="16" lengthAdjust="spacingAndGlyphs" stroke="#111" stroke-width="0.3">00:00</text>
<text transform="translate(158.66 148) rotate(-90)" dy="0.36em" font-size="7" text-anchor="end" font-weight="bold" fill="#111" textLength="16" lengthAdjust="spacingAndGlyphs" stroke="#111" stroke-width="0.3">06:00</text>
<text transform="translate(176.22 148) rotate(-90)" dy="0.36em" font-size="7" text-anchor="end" font-weight="bold" fill="#111" textLength="16" lengthAdjust="spacingAndGlyphs" stroke="#111" stroke-width="0.3">12:00</text>
<text transform="translate(193.79 148) rotate(-90)" dy="0.36em" font-size="7" text-anchor="end" font-weight="bold" fill="#111" textLength="16" lengthAdjust="spacingAndGlyphs" stroke="#111" stroke-width="0.3">18:00</text>
<text transform="translate(211.35 148) rotate(-90)" dy="0.36em" font-size="7" text-anchor="end" font-weight="bold" fill="#111" textLength="16" lengthAdjust="spacingAndGlyphs" stroke="#111" stroke-width="0.3">00:00</text>
<text transform="translate(228.92 148) rotate(-90)" dy="0.36em" font-size="7" text-anchor="end" font-weight="bold" fill="#111" textLength="16" lengthAdjust="spacingAndGlyphs" stroke="#111" stroke-width="0.3">06:00</text>
<text transform="translate(246.48 148) rotate(-90)" dy="0.36em" font-size="7" text-anchor="end" font-weight="bold" fill="#111" textLength="16" lengthAdjust="spacingAndGlyphs" stroke="#111" stroke-width="0.3">12:00</text>
<text transform="translate(264.05 148) rotate(-90)" dy="0.36em" font-size="7" text-anchor="end" font-weight="bold" fill="#111" textLength="16" lengthAdjust="spacingAndGlyphs" stroke="#111" stroke-width="0.3">18:00</text>
<text transform="translate(281.61 148) rotate(-90)" dy="0.36em" font-size="7" text-anchor="end" font-weight="bold" fill="#111" textLength="16" lengthAdjust="spacingAndGlyphs" stroke="#111" stroke-width="0.3">00:00</text>
<text transform="translate(299.18 148) rotate(-90)" dy="0.36em" font-size="7" text-anchor="end" font-weight="bold" fill="#111" textLength="16" lengthAdjust="spacingAndGlyphs" stroke="#111" stroke-width="0.3">06:00</text>
<text transform="translate(316.74 148) rotate(-90)" dy="0.36em" font-size="7" text-anchor="end" font-weight="bold" fill="#111" textLength="16" lengthAdjust="spacingAndGlyphs" stroke="#111" stroke-width="0.3">12:00</text>
<text transform="translate(334.31 148) rotate(-90)" dy="0.36em" font-size="7" text-anchor="end" font-weight="bold" fill="#111" textLength="16" lengthAdjust="spacingAndGlyphs" stroke="#111" stroke-width="0.3">18:00</text>
<text transform="translate(351.87 148) rotate(-90)" dy="0.36em" font-size="7" text-anchor="end" font-weight="bold" fill="#111" textLength="16" lengthAdjust="spacingAndGlyphs" stroke="#111" stroke-width="0.3">00:00</text>
<text transform="translate(369.44 148) rotate(-90)" dy="0.36em" font-size="7" text-anchor="end" font-weight="bold" fill="#111" textLength="16" lengthAdjust="spacingAndGlyphs" stroke="#111" stroke-width="0.3">06:00</text>
<text transform="translate(401.5 148.3) rotate(-90)" dy="0.36em" font-size="7" text-anchor="end" font-weight="bold" fill="#111" textLength="16" lengthAdjust="spacingAndGlyphs" stroke="#111" stroke-width="0.3">09:00</text>
<text transform="translate(423.95 148.3) rotate(-90)" dy="0.36em" font-size="7" text-anchor="end" font-weight="bold" fill="#111" textLength="16" lengthAdjust="spacingAndGlyphs" stroke="#111" stroke-width="0.3">12:00</text>
<text transform="translate(446.4 148.3) rotate(-90)" dy="0.36em" font-size="7" text-anchor="end" font-weight="bold" fill="#111" textLength="16" lengthAdjust="spacingAndGlyphs" stroke="#111" stroke-width="0.3">15:00</text>
<text transform="translate(468.85 148.3) rotate(-90)" dy="0.36em" font-size="7" text-anchor="end" font-weight="bold" fill="#111" textLength="16" lengthAdjust="spacingAndGlyphs" stroke="#111" stroke-width="0.3">18:00</text>
<text transform="translate(7.8 79.3) rotate(-90)" dy="0.36em" font-size="6.6" text-anchor="middle" font-weight="bold" fill="#111" textLength="39.4" lengthAdjust="spacingAndGlyphs" stroke="#111" stroke-width="0.2">Pressure (m)</text>
<text x="202.6" y="177.7" font-size="7" text-anchor="middle" font-weight="bold" fill="#111" textLength="31.5" lengthAdjust="spacingAndGlyphs">Time/day</text>
<text x="13.8" y="174.6" font-size="14.8" text-anchor="start" font-weight="bold" fill="#000" textLength="17.8" lengthAdjust="spacingAndGlyphs">(a)</text>
<line x1="45.6" y1="11.5" x2="60.6" y2="11.5" stroke="#111" stroke-width="1.2"/>
<path d="M53.0 11.5h0" fill="none" stroke="#111" stroke-width="3.2" stroke-linecap="round"/>
<text x="61.9" y="13.7" font-size="7" text-anchor="start" font-weight="normal" fill="#111" textLength="54" lengthAdjust="spacingAndGlyphs">Inlet - Elev. 568 m</text>
<line x1="134.8" y1="11.4" x2="149.7" y2="11.4" stroke="#2a66b0" stroke-width="1.2"/>
<path d="M142.2 10.1l1.4 2.42h-2.8z" fill="#2361ad"/>
<text x="151" y="13.6" font-size="7" text-anchor="start" font-weight="normal" fill="#111" textLength="58" lengthAdjust="spacingAndGlyphs">Med 1. Elev. 572 m</text>
<line x1="227.7" y1="11.4" x2="243" y2="11.4" stroke="#e8393a" stroke-width="1.2"/>
<path d="M235.3 11.4h0" fill="none" stroke="#e8393a" stroke-width="2.4" stroke-linecap="square"/>
<text x="244.2" y="13.6" font-size="7" text-anchor="start" font-weight="normal" fill="#111" textLength="49.3" lengthAdjust="spacingAndGlyphs">High Elev 582 m</text>
<text x="30.3" y="326.6" font-size="5" text-anchor="start" font-weight="bold" fill="#111" textLength="23.4" lengthAdjust="spacingAndGlyphs" stroke="#111" stroke-width="0.12">Sat 2nd Jan</text>
<line x1="28.7" y1="320.5" x2="28.7" y2="328.3" stroke="#888" stroke-width="0.7" stroke-dasharray="0.8 0.8"/>
<text x="71.1" y="326.6" font-size="5" text-anchor="start" font-weight="bold" fill="#111" textLength="22.7" lengthAdjust="spacingAndGlyphs" stroke="#111" stroke-width="0.12">Sun 3rd Jan</text>
<line x1="69.5" y1="320.5" x2="69.5" y2="328.3" stroke="#888" stroke-width="0.7" stroke-dasharray="0.8 0.8"/>
<text x="142.6" y="326.6" font-size="5" text-anchor="start" font-weight="bold" fill="#111" textLength="23.5" lengthAdjust="spacingAndGlyphs" stroke="#111" stroke-width="0.12">Mon 4th Jan</text>
<line x1="141" y1="320.5" x2="141" y2="328.3" stroke="#888" stroke-width="0.7" stroke-dasharray="0.8 0.8"/>
<text x="213.4" y="326.6" font-size="5" text-anchor="start" font-weight="bold" fill="#111" textLength="22.7" lengthAdjust="spacingAndGlyphs" stroke="#111" stroke-width="0.12">Tue 5th Jan</text>
<line x1="211.8" y1="320.5" x2="211.8" y2="328.3" stroke="#888" stroke-width="0.7" stroke-dasharray="0.8 0.8"/>
<text x="283.4" y="326.6" font-size="5" text-anchor="start" font-weight="bold" fill="#111" textLength="24.2" lengthAdjust="spacingAndGlyphs" stroke="#111" stroke-width="0.12">Wed 6th Jan</text>
<line x1="281.8" y1="320.5" x2="281.8" y2="328.3" stroke="#888" stroke-width="0.7" stroke-dasharray="0.8 0.8"/>
<text x="352.6" y="326.6" font-size="5" text-anchor="start" font-weight="bold" fill="#111" textLength="14.4" lengthAdjust="spacingAndGlyphs" stroke="#111" stroke-width="0.12">7th Jan</text>
<line x1="351" y1="320.5" x2="351" y2="328.3" stroke="#888" stroke-width="0.7" stroke-dasharray="0.8 0.8"/>
<text x="403.6" y="325.8" font-size="5" text-anchor="start" font-weight="bold" fill="#111" textLength="24" lengthAdjust="spacingAndGlyphs" stroke="#111" stroke-width="0.12">Mon 4th Jan</text>
<line x1="25.8" y1="328.6" x2="379.2" y2="328.6" stroke="#000" stroke-width="1.15"/>
<line x1="399.7" y1="329" x2="478.9" y2="329" stroke="#000" stroke-width="1.25"/>
<path d="M26.3 328 L28 322 L31 319.7 L35.6 317.5 L40.1 317.5 L44.7 319 L47.7 316.7 L52.2 314.4 L56.8 311.4 L61.3 308.4 L65.1 305.4 L68.1 300.8 L70.4 293.3 L72.6 287.2 L74.9 279.7 L77.2 272.1 L79.4 266 L82 261.3 L84.1 249.1 L85.2 238.2 L86.8 234.1 L89.5 232.7 L92.3 231.3 L93.6 232 L95 234.1 L96.3 236.1 L99.1 232.7 L100.2 233.4 L100.4 255.9 L100.7 285.2 L101.3 260 L102.5 239.5 L103.8 240.2 L104.5 261.3 L105.9 265.4 L107.9 269.5 L108.6 272.9 L110 266.8 L112.7 264 L115.4 262 L118.8 260 L121.6 257.2 L123.6 254.5 L125.6 252.5 L127 247.7 L128.4 245 L129 253.1 L129.7 260 L130.4 262.7 L131.8 258.6 L133.8 251.8 L135.2 247.7 L135.9 255.9 L136.5 260 L137.9 258.6 L138.6 249.1 L139.9 239.5 L141.3 228.6 L142.7 220.4 L144 216 L144.9 233.9 L145.7 235.4 L146.4 214.2 L149.4 211.2 L152.5 208.9 L155.5 208.1 L157.8 211.2 L159.3 215.7 L161.5 224.8 L163 229.3 L164.6 232.3 L166.1 239.9 L166.5 252 L166.5 273.6 L166.5 294 L166.5 314.4 L170 316 L173 316 L176 316 L179 316 L182 316 L185.4 317.2 L186.2 323.5 L186.9 328.8 L189.5 329.6 L191.5 329.6 L193.7 329.6 L194.5 309.1 L195.2 281.9 L196 275.1 L197.5 264.5 L198.3 253.5 L199.8 242.9 L201.3 232.3 L203.6 223.3 L205.8 217.2 L208.1 209.7 L210.4 205.9 L212.6 205.1 L213.7 211.2 L214.6 217.2 L215.7 214.2 L217.9 211.2 L221 209.7 L224 208.9 L226.2 209.7 L228.5 212.7 L230 215.7 L232.3 221.8 L235 227.5 L237 232 L238.8 238 L240.3 248 L241 259.6 L242.6 271 L244.8 285.7 L246.3 290.2 L248.6 294.8 L250.1 292.5 L252.4 288.7 L254.7 284.2 L256.2 290.2 L256.9 285.7 L259.2 276.6 L261.5 270.6 L263.7 264.5 L266.8 256.5 L269.8 249 L272.8 238.4 L275.8 230.8 L278.9 223.3 L281.9 217.2 L284.9 212.7 L287.9 208.9 L291 205.9 L294 205.1 L296.2 206.6 L297 209.7 L297.8 230.8 L298.5 211.2 L301.5 211.9 L303 217.2 L305 223.3 L307.3 230.8 L308.8 236.9 L310.3 244.4 L311 253.5 L312.6 261.1 L313.3 265 L314.1 269.1 L314.8 278.1 L315.6 287.2 L317.1 291.8 L318.6 285.7 L320.1 278.1 L321.6 281.2 L323.9 286.5 L326.2 290.2 L328.4 293.3 L330.7 291.8 L333 288.7 L335.2 284.2 L336.8 275.1 L337.5 266 L338.3 258 L340.5 245.9 L342.8 235.4 L345.1 224.8 L347.3 215.7 L349.6 208.9 L351.1 209.7 L351.9 215.7 L353.4 217.2 L354.9 212.7 L357.9 208.1 L361 205.1 L364 204.4 L367 205.1 L369.3 208.1 L371.5 205.1 L373.8 203.6 L376.1 205.1 L377.6 211.2 L378.8 217.2" fill="none" stroke="#222" stroke-width="1.3" stroke-linejoin="round" stroke-linecap="round"/>
<g fill="#161616" stroke="#8a8a8a" stroke-width="0.45"><circle cx="26.3" cy="328.0" r="1.8"/><circle cx="26.3" cy="328.0" r="1.8"/><circle cx="27.2" cy="324.8" r="1.8"/><circle cx="28.1" cy="321.9" r="1.8"/><circle cx="29.0" cy="321.2" r="1.8"/><circle cx="29.9" cy="320.5" r="1.8"/><circle cx="30.8" cy="319.9" r="1.8"/><circle cx="31.7" cy="319.4" r="1.8"/><circle cx="32.6" cy="318.9" r="1.8"/><circle cx="33.5" cy="318.5" r="1.8"/><circle cx="34.4" cy="318.1" r="1.8"/><circle cx="35.3" cy="317.6" r="1.8"/><circle cx="36.2" cy="317.5" r="1.8"/><circle cx="37.1" cy="317.5" r="1.8"/><circle cx="38.0" cy="317.5" r="1.8"/><circle cx="38.9" cy="317.5" r="1.8"/><circle cx="39.8" cy="317.5" r="1.8"/><circle cx="40.7" cy="317.7" r="1.8"/><circle cx="41.6" cy="318.0" r="1.8"/><circle cx="42.5" cy="318.3" r="1.8"/><circle cx="43.4" cy="318.6" r="1.8"/><circle cx="44.3" cy="318.9" r="1.8"/><circle cx="45.2" cy="318.6" r="1.8"/><circle cx="46.1" cy="317.9" r="1.8"/><circle cx="47.0" cy="317.2" r="1.8"/><circle cx="47.9" cy="316.6" r="1.8"/><circle cx="48.8" cy="316.1" r="1.8"/><circle cx="49.7" cy="315.7" r="1.8"/><circle cx="50.6" cy="315.2" r="1.8"/><circle cx="51.5" cy="314.8" r="1.8"/><circle cx="52.4" cy="314.3" r="1.8"/><circle cx="53.3" cy="313.7" r="1.8"/><circle cx="54.2" cy="313.1" r="1.8"/><circle cx="55.1" cy="312.5" r="1.8"/><circle cx="56.0" cy="311.9" r="1.8"/><circle cx="56.9" cy="311.3" r="1.8"/><circle cx="57.8" cy="310.7" r="1.8"/><circle cx="58.7" cy="310.1" r="1.8"/><circle cx="59.6" cy="309.5" r="1.8"/><circle cx="60.5" cy="308.9" r="1.8"/><circle cx="61.4" cy="308.3" r="1.8"/><circle cx="62.3" cy="307.6" r="1.8"/><circle cx="63.2" cy="306.9" r="1.8"/><circle cx="64.1" cy="306.2" r="1.8"/><circle cx="65.0" cy="305.5" r="1.8"/><circle cx="65.9" cy="304.2" r="1.8"/><circle cx="66.8" cy="302.8" r="1.8"/><circle cx="67.7" cy="301.4" r="1.8"/><circle cx="68.1" cy="300.8" r="1.8"/><circle cx="68.6" cy="299.2" r="1.8"/><circle cx="69.5" cy="296.2" r="1.8"/><circle cx="70.4" cy="293.3" r="1.8"/><circle cx="70.4" cy="293.3" r="1.8"/><circle cx="71.3" cy="290.8" r="1.8"/><circle cx="72.2" cy="288.3" r="1.8"/><circle cx="72.6" cy="287.2" r="1.8"/><circle cx="73.1" cy="285.6" r="1.8"/><circle cx="74.0" cy="282.6" r="1.8"/><circle cx="74.9" cy="279.7" r="1.8"/><circle cx="74.9" cy="279.7" r="1.8"/><circle cx="75.8" cy="276.7" r="1.8"/><circle cx="76.7" cy="273.8" r="1.8"/><circle cx="77.2" cy="272.1" r="1.8"/><circle cx="77.6" cy="271.0" r="1.8"/><circle cx="78.5" cy="268.5" r="1.8"/><circle cx="79.4" cy="266.0" r="1.8"/><circle cx="79.4" cy="266.0" r="1.8"/><circle cx="80.3" cy="264.4" r="1.8"/><circle cx="81.2" cy="262.7" r="1.8"/><circle cx="82.0" cy="261.3" r="1.8"/><circle cx="82.1" cy="260.7" r="1.8"/><circle cx="83.0" cy="255.5" r="1.8"/><circle cx="83.9" cy="250.3" r="1.8"/><circle cx="84.1" cy="249.1" r="1.8"/><circle cx="84.8" cy="242.2" r="1.8"/><circle cx="85.2" cy="238.2" r="1.8"/><circle cx="85.7" cy="236.9" r="1.8"/><circle cx="86.6" cy="234.6" r="1.8"/><circle cx="87.5" cy="233.7" r="1.8"/><circle cx="88.4" cy="233.3" r="1.8"/><circle cx="89.3" cy="232.8" r="1.8"/><circle cx="90.2" cy="232.3" r="1.8"/><circle cx="91.1" cy="231.9" r="1.8"/><circle cx="92.0" cy="231.4" r="1.8"/><circle cx="92.9" cy="231.6" r="1.8"/><circle cx="93.8" cy="232.3" r="1.8"/><circle cx="94.7" cy="233.7" r="1.8"/><circle cx="95.6" cy="235.0" r="1.8"/><circle cx="96.5" cy="235.9" r="1.8"/><circle cx="97.4" cy="234.8" r="1.8"/><circle cx="98.3" cy="233.7" r="1.8"/><circle cx="99.2" cy="232.8" r="1.8"/><circle cx="100.1" cy="233.3" r="1.8"/><circle cx="100.2" cy="233.4" r="1.8"/><circle cx="100.4" cy="255.9" r="1.8"/><circle cx="100.7" cy="285.2" r="1.8"/><circle cx="101.0" cy="272.6" r="1.8"/><circle cx="101.3" cy="260.0" r="1.8"/><circle cx="101.9" cy="249.7" r="1.8"/><circle cx="102.5" cy="239.5" r="1.8"/><circle cx="102.8" cy="239.7" r="1.8"/><circle cx="103.7" cy="240.1" r="1.8"/><circle cx="103.8" cy="240.2" r="1.8"/><circle cx="104.5" cy="261.3" r="1.8"/><circle cx="104.6" cy="261.6" r="1.8"/><circle cx="105.5" cy="264.2" r="1.8"/><circle cx="106.4" cy="266.4" r="1.8"/><circle cx="107.3" cy="268.3" r="1.8"/><circle cx="108.2" cy="271.0" r="1.8"/><circle cx="108.6" cy="272.9" r="1.8"/><circle cx="109.1" cy="270.7" r="1.8"/><circle cx="110.0" cy="266.8" r="1.8"/><circle cx="110.0" cy="266.8" r="1.8"/><circle cx="110.9" cy="265.9" r="1.8"/><circle cx="111.8" cy="264.9" r="1.8"/><circle cx="112.7" cy="264.0" r="1.8"/><circle cx="113.6" cy="263.3" r="1.8"/><circle cx="114.5" cy="262.7" r="1.8"/><circle cx="115.4" cy="262.0" r="1.8"/><circle cx="116.3" cy="261.5" r="1.8"/><circle cx="117.2" cy="260.9" r="1.8"/><circle cx="118.1" cy="260.4" r="1.8"/><circle cx="119.0" cy="259.8" r="1.8"/><circle cx="119.9" cy="258.9" r="1.8"/><circle cx="120.8" cy="258.0" r="1.8"/><circle cx="121.7" cy="257.1" r="1.8"/><circle cx="122.6" cy="255.8" r="1.8"/><circle cx="123.5" cy="254.6" r="1.8"/><circle cx="124.4" cy="253.7" r="1.8"/><circle cx="125.3" cy="252.8" r="1.8"/><circle cx="126.2" cy="250.4" r="1.8"/><circle cx="127.1" cy="247.5" r="1.8"/><circle cx="128.0" cy="245.8" r="1.8"/><circle cx="128.4" cy="245.0" r="1.8"/><circle cx="128.9" cy="251.8" r="1.8"/><circle cx="129.0" cy="253.1" r="1.8"/><circle cx="129.7" cy="260.0" r="1.8"/><circle cx="129.8" cy="260.4" r="1.8"/><circle cx="130.7" cy="261.8" r="1.8"/><circle cx="131.6" cy="259.2" r="1.8"/><circle cx="131.8" cy="258.6" r="1.8"/><circle cx="132.5" cy="256.2" r="1.8"/><circle cx="133.4" cy="253.2" r="1.8"/><circle cx="133.8" cy="251.8" r="1.8"/><circle cx="134.3" cy="250.3" r="1.8"/><circle cx="135.2" cy="247.7" r="1.8"/><circle cx="135.2" cy="247.7" r="1.8"/><circle cx="135.9" cy="255.9" r="1.8"/><circle cx="136.1" cy="257.3" r="1.8"/><circle cx="137.0" cy="259.5" r="1.8"/><circle cx="137.9" cy="258.6" r="1.8"/><circle cx="137.9" cy="258.6" r="1.8"/><circle cx="138.6" cy="249.1" r="1.8"/><circle cx="138.8" cy="247.6" r="1.8"/><circle cx="139.7" cy="241.0" r="1.8"/><circle cx="139.9" cy="239.5" r="1.8"/><circle cx="140.6" cy="234.0" r="1.8"/><circle cx="141.3" cy="228.6" r="1.8"/><circle cx="141.5" cy="227.4" r="1.8"/><circle cx="142.4" cy="222.2" r="1.8"/><circle cx="142.7" cy="220.4" r="1.8"/><circle cx="143.3" cy="218.4" r="1.8"/><circle cx="144.0" cy="216.0" r="1.8"/><circle cx="144.2" cy="220.0" r="1.8"/><circle cx="144.9" cy="233.9" r="1.8"/><circle cx="145.1" cy="234.3" r="1.8"/><circle cx="145.7" cy="235.4" r="1.8"/><circle cx="146.0" cy="226.3" r="1.8"/><circle cx="146.4" cy="214.2" r="1.8"/><circle cx="146.9" cy="213.7" r="1.8"/><circle cx="147.8" cy="212.8" r="1.8"/><circle cx="148.7" cy="211.9" r="1.8"/><circle cx="149.6" cy="211.1" r="1.8"/><circle cx="150.5" cy="210.4" r="1.8"/><circle cx="151.4" cy="209.7" r="1.8"/><circle cx="152.3" cy="209.0" r="1.8"/><circle cx="153.2" cy="208.7" r="1.8"/><circle cx="154.1" cy="208.5" r="1.8"/><circle cx="155.0" cy="208.2" r="1.8"/><circle cx="155.9" cy="208.6" r="1.8"/><circle cx="156.8" cy="209.9" r="1.8"/><circle cx="157.7" cy="211.1" r="1.8"/><circle cx="158.6" cy="213.6" r="1.8"/><circle cx="159.3" cy="215.7" r="1.8"/><circle cx="159.5" cy="216.5" r="1.8"/><circle cx="160.4" cy="220.3" r="1.8"/><circle cx="161.3" cy="224.0" r="1.8"/><circle cx="161.5" cy="224.8" r="1.8"/><circle cx="162.2" cy="226.9" r="1.8"/><circle cx="163.1" cy="229.5" r="1.8"/><circle cx="164.0" cy="231.2" r="1.8"/><circle cx="164.6" cy="232.3" r="1.8"/><circle cx="164.9" cy="233.8" r="1.8"/><circle cx="165.8" cy="238.4" r="1.8"/><circle cx="166.1" cy="239.9" r="1.8"/><circle cx="166.5" cy="252.0" r="1.8"/><circle cx="166.5" cy="273.6" r="1.8"/><circle cx="166.5" cy="294.0" r="1.8"/><circle cx="166.5" cy="314.4" r="1.8"/><circle cx="166.7" cy="314.5" r="1.8"/><circle cx="167.6" cy="314.9" r="1.8"/><circle cx="168.5" cy="315.3" r="1.8"/><circle cx="169.4" cy="315.7" r="1.8"/><circle cx="170.3" cy="316.0" r="1.8"/><circle cx="171.2" cy="316.0" r="1.8"/><circle cx="172.1" cy="316.0" r="1.8"/><circle cx="173.0" cy="316.0" r="1.8"/><circle cx="173.9" cy="316.0" r="1.8"/><circle cx="174.8" cy="316.0" r="1.8"/><circle cx="175.7" cy="316.0" r="1.8"/><circle cx="176.6" cy="316.0" r="1.8"/><circle cx="177.5" cy="316.0" r="1.8"/><circle cx="178.4" cy="316.0" r="1.8"/><circle cx="179.3" cy="316.0" r="1.8"/><circle cx="180.2" cy="316.0" r="1.8"/><circle cx="181.1" cy="316.0" r="1.8"/><circle cx="182.0" cy="316.0" r="1.8"/><circle cx="182.9" cy="316.3" r="1.8"/><circle cx="183.8" cy="316.6" r="1.8"/><circle cx="184.7" cy="317.0" r="1.8"/><circle cx="185.4" cy="317.2" r="1.8"/><circle cx="185.6" cy="318.8" r="1.8"/><circle cx="186.2" cy="323.5" r="1.8"/><circle cx="186.5" cy="325.8" r="1.8"/><circle cx="187.4" cy="329.0" r="1.8"/><circle cx="188.3" cy="329.2" r="1.8"/><circle cx="189.2" cy="329.5" r="1.8"/><circle cx="190.1" cy="329.6" r="1.8"/><circle cx="191.0" cy="329.6" r="1.8"/><circle cx="191.9" cy="329.6" r="1.8"/><circle cx="192.8" cy="329.6" r="1.8"/><circle cx="193.7" cy="329.6" r="1.8"/><circle cx="193.7" cy="329.6" r="1.8"/><circle cx="194.5" cy="309.1" r="1.8"/><circle cx="194.6" cy="305.2" r="1.8"/><circle cx="195.2" cy="281.9" r="1.8"/><circle cx="195.5" cy="279.3" r="1.8"/><circle cx="196.0" cy="275.1" r="1.8"/><circle cx="196.4" cy="272.3" r="1.8"/><circle cx="197.3" cy="265.9" r="1.8"/><circle cx="197.5" cy="264.5" r="1.8"/><circle cx="198.2" cy="254.9" r="1.8"/><circle cx="198.3" cy="253.5" r="1.8"/><circle cx="199.1" cy="247.8" r="1.8"/><circle cx="199.8" cy="242.9" r="1.8"/><circle cx="200.0" cy="241.5" r="1.8"/><circle cx="200.9" cy="235.1" r="1.8"/><circle cx="201.3" cy="232.3" r="1.8"/><circle cx="201.8" cy="230.3" r="1.8"/><circle cx="202.7" cy="226.8" r="1.8"/><circle cx="203.6" cy="223.3" r="1.8"/><circle cx="203.6" cy="223.3" r="1.8"/><circle cx="204.5" cy="220.8" r="1.8"/><circle cx="205.4" cy="218.3" r="1.8"/><circle cx="205.8" cy="217.2" r="1.8"/><circle cx="206.3" cy="215.6" r="1.8"/><circle cx="207.2" cy="212.6" r="1.8"/><circle cx="208.1" cy="209.7" r="1.8"/><circle cx="208.1" cy="209.7" r="1.8"/><circle cx="209.0" cy="208.2" r="1.8"/><circle cx="209.9" cy="206.7" r="1.8"/><circle cx="210.8" cy="205.8" r="1.8"/><circle cx="211.7" cy="205.4" r="1.8"/><circle cx="212.6" cy="205.1" r="1.8"/><circle cx="212.6" cy="205.1" r="1.8"/><circle cx="213.5" cy="210.1" r="1.8"/><circle cx="213.7" cy="211.2" r="1.8"/><circle cx="214.4" cy="215.9" r="1.8"/><circle cx="215.3" cy="215.3" r="1.8"/><circle cx="216.2" cy="213.5" r="1.8"/><circle cx="217.1" cy="212.3" r="1.8"/><circle cx="218.0" cy="211.2" r="1.8"/><circle cx="218.9" cy="210.7" r="1.8"/><circle cx="219.8" cy="210.3" r="1.8"/><circle cx="220.7" cy="209.8" r="1.8"/><circle cx="221.6" cy="209.5" r="1.8"/><circle cx="222.5" cy="209.3" r="1.8"/><circle cx="223.4" cy="209.1" r="1.8"/><circle cx="224.3" cy="209.0" r="1.8"/><circle cx="225.2" cy="209.3" r="1.8"/><circle cx="226.1" cy="209.7" r="1.8"/><circle cx="227.0" cy="210.7" r="1.8"/><circle cx="227.9" cy="211.9" r="1.8"/><circle cx="228.8" cy="213.3" r="1.8"/><circle cx="229.7" cy="215.1" r="1.8"/><circle cx="230.0" cy="215.7" r="1.8"/><circle cx="230.6" cy="217.3" r="1.8"/><circle cx="231.5" cy="219.7" r="1.8"/><circle cx="232.3" cy="221.8" r="1.8"/><circle cx="232.4" cy="222.0" r="1.8"/><circle cx="233.3" cy="223.9" r="1.8"/><circle cx="234.2" cy="225.8" r="1.8"/><circle cx="235.1" cy="227.7" r="1.8"/><circle cx="236.0" cy="229.8" r="1.8"/><circle cx="236.9" cy="231.8" r="1.8"/><circle cx="237.8" cy="234.7" r="1.8"/><circle cx="238.7" cy="237.7" r="1.8"/><circle cx="238.8" cy="238.0" r="1.8"/><circle cx="239.6" cy="243.3" r="1.8"/><circle cx="240.3" cy="248.0" r="1.8"/><circle cx="240.5" cy="251.3" r="1.8"/><circle cx="241.0" cy="259.6" r="1.8"/><circle cx="241.4" cy="262.5" r="1.8"/><circle cx="242.3" cy="268.9" r="1.8"/><circle cx="242.6" cy="271.0" r="1.8"/><circle cx="243.2" cy="275.0" r="1.8"/><circle cx="244.1" cy="281.0" r="1.8"/><circle cx="244.8" cy="285.7" r="1.8"/><circle cx="245.0" cy="286.3" r="1.8"/><circle cx="245.9" cy="289.0" r="1.8"/><circle cx="246.8" cy="291.2" r="1.8"/><circle cx="247.7" cy="293.0" r="1.8"/><circle cx="248.6" cy="294.8" r="1.8"/><circle cx="249.5" cy="293.4" r="1.8"/><circle cx="250.4" cy="292.0" r="1.8"/><circle cx="251.3" cy="290.5" r="1.8"/><circle cx="252.2" cy="289.0" r="1.8"/><circle cx="253.1" cy="287.3" r="1.8"/><circle cx="254.0" cy="285.6" r="1.8"/><circle cx="254.7" cy="284.2" r="1.8"/><circle cx="254.9" cy="285.0" r="1.8"/><circle cx="255.8" cy="288.6" r="1.8"/><circle cx="256.2" cy="290.2" r="1.8"/><circle cx="256.7" cy="287.0" r="1.8"/><circle cx="256.9" cy="285.7" r="1.8"/><circle cx="257.6" cy="282.9" r="1.8"/><circle cx="258.5" cy="279.4" r="1.8"/><circle cx="259.2" cy="276.6" r="1.8"/><circle cx="259.4" cy="276.1" r="1.8"/><circle cx="260.3" cy="273.7" r="1.8"/><circle cx="261.2" cy="271.4" r="1.8"/><circle cx="261.5" cy="270.6" r="1.8"/><circle cx="262.1" cy="268.9" r="1.8"/><circle cx="263.0" cy="266.4" r="1.8"/><circle cx="263.7" cy="264.5" r="1.8"/><circle cx="263.9" cy="264.0" r="1.8"/><circle cx="264.8" cy="261.7" r="1.8"/><circle cx="265.7" cy="259.3" r="1.8"/><circle cx="266.6" cy="257.0" r="1.8"/><circle cx="266.8" cy="256.5" r="1.8"/><circle cx="267.5" cy="254.7" r="1.8"/><circle cx="268.4" cy="252.5" r="1.8"/><circle cx="269.3" cy="250.2" r="1.8"/><circle cx="269.8" cy="249.0" r="1.8"/><circle cx="270.2" cy="247.6" r="1.8"/><circle cx="271.1" cy="244.4" r="1.8"/><circle cx="272.0" cy="241.2" r="1.8"/><circle cx="272.8" cy="238.4" r="1.8"/><circle cx="272.9" cy="238.1" r="1.8"/><circle cx="273.8" cy="235.9" r="1.8"/><circle cx="274.7" cy="233.6" r="1.8"/><circle cx="275.6" cy="231.3" r="1.8"/><circle cx="275.8" cy="230.8" r="1.8"/><circle cx="276.5" cy="229.1" r="1.8"/><circle cx="277.4" cy="226.9" r="1.8"/><circle cx="278.3" cy="224.8" r="1.8"/><circle cx="278.9" cy="223.3" r="1.8"/><circle cx="279.2" cy="222.7" r="1.8"/><circle cx="280.1" cy="220.9" r="1.8"/><circle cx="281.0" cy="219.0" r="1.8"/><circle cx="281.9" cy="217.2" r="1.8"/><circle cx="281.9" cy="217.2" r="1.8"/><circle cx="282.8" cy="215.8" r="1.8"/><circle cx="283.7" cy="214.5" r="1.8"/><circle cx="284.6" cy="213.1" r="1.8"/><circle cx="285.5" cy="211.9" r="1.8"/><circle cx="286.4" cy="210.8" r="1.8"/><circle cx="287.3" cy="209.7" r="1.8"/><circle cx="288.2" cy="208.6" r="1.8"/><circle cx="289.1" cy="207.7" r="1.8"/><circle cx="290.0" cy="206.9" r="1.8"/><circle cx="290.9" cy="206.0" r="1.8"/><circle cx="291.8" cy="205.7" r="1.8"/><circle cx="292.7" cy="205.4" r="1.8"/><circle cx="293.6" cy="205.2" r="1.8"/><circle cx="294.5" cy="205.4" r="1.8"/><circle cx="295.4" cy="206.1" r="1.8"/><circle cx="296.3" cy="207.0" r="1.8"/><circle cx="297.0" cy="209.7" r="1.8"/><circle cx="297.2" cy="215.0" r="1.8"/><circle cx="297.8" cy="230.8" r="1.8"/><circle cx="298.1" cy="222.4" r="1.8"/><circle cx="298.5" cy="211.2" r="1.8"/><circle cx="299.0" cy="211.3" r="1.8"/><circle cx="299.9" cy="211.5" r="1.8"/><circle cx="300.8" cy="211.7" r="1.8"/><circle cx="301.7" cy="212.6" r="1.8"/><circle cx="302.6" cy="215.8" r="1.8"/><circle cx="303.0" cy="217.2" r="1.8"/><circle cx="303.5" cy="218.7" r="1.8"/><circle cx="304.4" cy="221.5" r="1.8"/><circle cx="305.0" cy="223.3" r="1.8"/><circle cx="305.3" cy="224.3" r="1.8"/><circle cx="306.2" cy="227.2" r="1.8"/><circle cx="307.1" cy="230.1" r="1.8"/><circle cx="307.3" cy="230.8" r="1.8"/><circle cx="308.0" cy="233.6" r="1.8"/><circle cx="308.8" cy="236.9" r="1.8"/><circle cx="308.9" cy="237.4" r="1.8"/><circle cx="309.8" cy="241.9" r="1.8"/><circle cx="310.3" cy="244.4" r="1.8"/><circle cx="310.7" cy="249.6" r="1.8"/><circle cx="311.0" cy="253.5" r="1.8"/><circle cx="311.6" cy="256.3" r="1.8"/><circle cx="312.5" cy="260.6" r="1.8"/><circle cx="312.6" cy="261.1" r="1.8"/><circle cx="313.4" cy="265.5" r="1.8"/><circle cx="314.1" cy="269.1" r="1.8"/><circle cx="314.3" cy="271.7" r="1.8"/><circle cx="314.8" cy="278.1" r="1.8"/><circle cx="315.2" cy="282.6" r="1.8"/><circle cx="315.6" cy="287.2" r="1.8"/><circle cx="316.1" cy="288.7" r="1.8"/><circle cx="317.0" cy="291.5" r="1.8"/><circle cx="317.1" cy="291.8" r="1.8"/><circle cx="317.9" cy="288.5" r="1.8"/><circle cx="318.6" cy="285.7" r="1.8"/><circle cx="318.8" cy="284.7" r="1.8"/><circle cx="319.7" cy="280.1" r="1.8"/><circle cx="320.1" cy="278.1" r="1.8"/><circle cx="320.6" cy="279.1" r="1.8"/><circle cx="321.5" cy="281.0" r="1.8"/><circle cx="322.4" cy="283.0" r="1.8"/><circle cx="323.3" cy="285.1" r="1.8"/><circle cx="324.2" cy="287.0" r="1.8"/><circle cx="325.1" cy="288.4" r="1.8"/><circle cx="326.0" cy="289.9" r="1.8"/><circle cx="326.9" cy="291.2" r="1.8"/><circle cx="327.8" cy="292.5" r="1.8"/><circle cx="328.7" cy="293.1" r="1.8"/><circle cx="329.6" cy="292.5" r="1.8"/><circle cx="330.5" cy="291.9" r="1.8"/><circle cx="331.4" cy="290.9" r="1.8"/><circle cx="332.3" cy="289.6" r="1.8"/><circle cx="333.2" cy="288.3" r="1.8"/><circle cx="334.1" cy="286.5" r="1.8"/><circle cx="335.0" cy="284.6" r="1.8"/><circle cx="335.2" cy="284.2" r="1.8"/><circle cx="335.9" cy="280.2" r="1.8"/><circle cx="336.8" cy="275.1" r="1.8"/><circle cx="336.8" cy="275.1" r="1.8"/><circle cx="337.5" cy="266.0" r="1.8"/><circle cx="337.7" cy="264.0" r="1.8"/><circle cx="338.3" cy="258.0" r="1.8"/><circle cx="338.6" cy="256.4" r="1.8"/><circle cx="339.5" cy="251.4" r="1.8"/><circle cx="340.4" cy="246.5" r="1.8"/><circle cx="340.5" cy="245.9" r="1.8"/><circle cx="341.3" cy="242.2" r="1.8"/><circle cx="342.2" cy="238.1" r="1.8"/><circle cx="342.8" cy="235.4" r="1.8"/><circle cx="343.1" cy="234.0" r="1.8"/><circle cx="344.0" cy="229.9" r="1.8"/><circle cx="344.9" cy="225.7" r="1.8"/><circle cx="345.1" cy="224.8" r="1.8"/><circle cx="345.8" cy="221.9" r="1.8"/><circle cx="346.7" cy="218.2" r="1.8"/><circle cx="347.3" cy="215.7" r="1.8"/><circle cx="347.6" cy="214.8" r="1.8"/><circle cx="348.5" cy="212.2" r="1.8"/><circle cx="349.4" cy="209.5" r="1.8"/><circle cx="349.6" cy="208.9" r="1.8"/><circle cx="350.3" cy="209.3" r="1.8"/><circle cx="351.2" cy="210.4" r="1.8"/><circle cx="352.1" cy="215.9" r="1.8"/><circle cx="353.0" cy="216.8" r="1.8"/><circle cx="353.9" cy="215.7" r="1.8"/><circle cx="354.8" cy="213.0" r="1.8"/><circle cx="355.7" cy="211.5" r="1.8"/><circle cx="356.6" cy="210.1" r="1.8"/><circle cx="357.5" cy="208.7" r="1.8"/><circle cx="358.4" cy="207.6" r="1.8"/><circle cx="359.3" cy="206.7" r="1.8"/><circle cx="360.2" cy="205.9" r="1.8"/><circle cx="361.1" cy="205.1" r="1.8"/><circle cx="362.0" cy="204.9" r="1.8"/><circle cx="362.9" cy="204.7" r="1.8"/><circle cx="363.8" cy="204.4" r="1.8"/><circle cx="364.7" cy="204.6" r="1.8"/><circle cx="365.6" cy="204.8" r="1.8"/><circle cx="366.5" cy="205.0" r="1.8"/><circle cx="367.4" cy="205.6" r="1.8"/><circle cx="368.3" cy="206.8" r="1.8"/><circle cx="369.2" cy="208.0" r="1.8"/><circle cx="370.1" cy="207.0" r="1.8"/><circle cx="371.0" cy="205.8" r="1.8"/><circle cx="371.9" cy="204.8" r="1.8"/><circle cx="372.8" cy="204.3" r="1.8"/><circle cx="373.7" cy="203.7" r="1.8"/><circle cx="374.6" cy="204.1" r="1.8"/><circle cx="375.5" cy="204.7" r="1.8"/><circle cx="376.1" cy="205.1" r="1.8"/><circle cx="376.4" cy="206.3" r="1.8"/><circle cx="377.3" cy="210.0" r="1.8"/><circle cx="377.6" cy="211.2" r="1.8"/><circle cx="378.2" cy="214.2" r="1.8"/><circle cx="378.8" cy="217.2" r="1.8"/></g>
<path d="M26.3 323.5 L26.5 317.5 L28 311.4 L31 306.9 L35.6 305.4 L38.6 306.9 L41.6 311.4 L43.9 316 L45.4 312.9 L47.7 308.4 L52.2 303.9 L56.8 299.3 L61.3 294.8 L65.8 288.7 L68.9 282.7 L70.4 275.1 L72 267 L74.9 260.5 L77.9 258 L80 257.2 L82 251.8 L84.1 246.3 L84.8 238.2 L85.4 232.7 L86.8 228.6 L89.5 227.3 L92.3 225.9 L94.3 224.5 L95 232.7 L95.7 242.2 L96.1 251.8 L97 239.5 L97.7 231.3 L100.4 228.6 L101.8 230 L103.2 234.1 L103.8 242.2 L104.5 250.4 L105.9 254.5 L108.6 255.9 L111.3 255.2 L114.1 254.5 L116.8 253.1 L119.5 251.8 L122.2 249.7 L125 246.3 L127 243.6 L127.7 251.8 L128.4 261.3 L129.7 266.1 L131.1 255.9 L132.5 239.5 L133.8 238.2 L134.5 245 L135.2 258.6 L135.9 264 L137.2 260 L138.6 247.7 L139.9 235.4 L141.3 228.6 L142.7 223.2 L144 221.8 L144.6 224.8 L145.2 241.4 L146.4 220.2 L148.7 217.2 L151.7 215 L154.7 214.2 L157 215.7 L158.5 220.2 L160 226.3 L161.5 230.8 L163.8 235.4 L165.3 238 L166.5 236 L167.3 238.4 L168 247.5 L169.5 247.5 L171.8 250.5 L174.1 253.5 L176.3 256.5 L177.9 261 L178.6 269.1 L178.6 275.1 L179.4 281.2 L180.9 283.4 L183.1 279.7 L184.7 275.1 L185.4 269.1 L187.7 276.6 L191.5 279.7 L192.2 273.6 L193 269.1 L193.7 262 L195.2 253.5 L196.8 247.5 L198.3 241.4 L199.8 233.9 L201.3 227.8 L203.6 220.2 L205.8 215.7 L208.1 211.2 L210.4 208.9 L212.2 209.7 L213.1 215.7 L214.1 220.2 L216.4 222.5 L218.7 220.2 L221 217.2 L224 215.7 L226.2 216.5 L227.8 219.5 L229.3 223.3 L231.5 227.8 L233.8 230.8 L236.1 233.9 L237.5 236.5 L238.8 241.4 L240.3 247.5 L241.8 253.5 L243.3 261 L244.1 272.1 L245.6 279.7 L247.1 283.4 L249.4 282.7 L251.6 280.4 L253.9 275.1 L256.2 273.6 L257.7 269.1 L260 264.5 L262.2 259.6 L265.2 253.5 L268.3 249 L269.6 254 L270.5 264.5 L271.3 246 L272.8 241.4 L275.1 236.9 L278.1 230.8 L281.1 224.8 L284.1 220.2 L287.2 216.5 L290.2 214.2 L292.5 212.7 L293.2 221.8 L294.7 217.2 L296.2 214.2 L297.8 215.7 L298.5 236.9 L300 217.2 L301.5 215.7 L303 220.2 L304.6 226.3 L306.1 233.9 L308.3 238.4 L310 242 L311 250.5 L312.6 256.5 L313.3 264 L314.8 275.1 L316.3 282.7 L317.9 281.2 L319.4 273.6 L320.1 266 L321.6 269.1 L323.1 275.1 L325.4 279.7 L327.7 282.7 L330.7 283.4 L333 282.7 L335.2 278.1 L336 272.1 L336.8 266 L337.5 260 L339 250.5 L341.3 239.9 L342.8 232.3 L344.3 226.3 L346.6 218.7 L348.9 212.7 L350.4 211.2 L351.9 220.2 L352.6 232.3 L353.4 226.3 L354.9 220.2 L357.2 215.7 L360.2 212.7 L363.2 211.2 L366.2 211.2 L368.5 214.2 L370 217.2 L371.5 220.2 L373 212.7 L374.6 208.1 L376.1 209.7 L377.6 217.2 L378.8 221.8" fill="none" stroke="#f08a8a" stroke-width="1.4" stroke-linejoin="round" stroke-linecap="round"/>
<g fill="#e84848" stroke="#f7c4c4" stroke-width="0.55"><rect x="24.7" y="321.9" width="3.3" height="3.3"/><rect x="24.7" y="321.9" width="3.3" height="3.3"/><rect x="24.9" y="315.9" width="3.3" height="3.3"/><rect x="25.7" y="312.6" width="3.3" height="3.3"/><rect x="26.4" y="309.8" width="3.3" height="3.3"/><rect x="26.7" y="309.3" width="3.3" height="3.3"/><rect x="27.7" y="307.8" width="3.3" height="3.3"/><rect x="28.7" y="306.3" width="3.3" height="3.3"/><rect x="29.7" y="305.2" width="3.3" height="3.3"/><rect x="30.6" y="304.8" width="3.3" height="3.3"/><rect x="31.6" y="304.5" width="3.3" height="3.3"/><rect x="32.6" y="304.2" width="3.3" height="3.3"/><rect x="33.6" y="303.8" width="3.3" height="3.3"/><rect x="34.6" y="304.1" width="3.3" height="3.3"/><rect x="35.6" y="304.6" width="3.3" height="3.3"/><rect x="36.6" y="305.1" width="3.3" height="3.3"/><rect x="37.6" y="306.3" width="3.3" height="3.3"/><rect x="38.6" y="307.8" width="3.3" height="3.3"/><rect x="39.6" y="309.3" width="3.3" height="3.3"/><rect x="40.6" y="311.1" width="3.3" height="3.3"/><rect x="41.6" y="313.2" width="3.3" height="3.3"/><rect x="42.2" y="314.4" width="3.3" height="3.3"/><rect x="42.6" y="313.5" width="3.3" height="3.3"/><rect x="43.6" y="311.5" width="3.3" height="3.3"/><rect x="44.6" y="309.5" width="3.3" height="3.3"/><rect x="45.6" y="307.5" width="3.3" height="3.3"/><rect x="46.6" y="306.1" width="3.3" height="3.3"/><rect x="47.6" y="305.1" width="3.3" height="3.3"/><rect x="48.6" y="304.1" width="3.3" height="3.3"/><rect x="49.6" y="303.1" width="3.3" height="3.3"/><rect x="50.6" y="302.2" width="3.3" height="3.3"/><rect x="51.6" y="301.2" width="3.3" height="3.3"/><rect x="52.6" y="300.2" width="3.3" height="3.3"/><rect x="53.6" y="299.2" width="3.3" height="3.3"/><rect x="54.6" y="298.2" width="3.3" height="3.3"/><rect x="55.6" y="297.2" width="3.3" height="3.3"/><rect x="56.6" y="296.2" width="3.3" height="3.3"/><rect x="57.6" y="295.2" width="3.3" height="3.3"/><rect x="58.6" y="294.2" width="3.3" height="3.3"/><rect x="59.6" y="293.2" width="3.3" height="3.3"/><rect x="59.6" y="293.2" width="3.3" height="3.3"/><rect x="60.6" y="291.8" width="3.3" height="3.3"/><rect x="61.6" y="290.4" width="3.3" height="3.3"/><rect x="62.6" y="289.1" width="3.3" height="3.3"/><rect x="63.6" y="287.7" width="3.3" height="3.3"/><rect x="64.1" y="287.1" width="3.3" height="3.3"/><rect x="64.6" y="286.1" width="3.3" height="3.3"/><rect x="65.6" y="284.1" width="3.3" height="3.3"/><rect x="66.6" y="282.2" width="3.3" height="3.3"/><rect x="67.2" y="281.1" width="3.3" height="3.3"/><rect x="67.6" y="279.0" width="3.3" height="3.3"/><rect x="68.6" y="274.0" width="3.3" height="3.3"/><rect x="68.8" y="273.5" width="3.3" height="3.3"/><rect x="69.6" y="268.9" width="3.3" height="3.3"/><rect x="70.3" y="265.4" width="3.3" height="3.3"/><rect x="70.6" y="264.7" width="3.3" height="3.3"/><rect x="71.6" y="262.4" width="3.3" height="3.3"/><rect x="72.6" y="260.2" width="3.3" height="3.3"/><rect x="73.2" y="258.9" width="3.3" height="3.3"/><rect x="73.6" y="258.5" width="3.3" height="3.3"/><rect x="74.6" y="257.7" width="3.3" height="3.3"/><rect x="75.6" y="256.9" width="3.3" height="3.3"/><rect x="76.6" y="256.2" width="3.3" height="3.3"/><rect x="77.6" y="255.8" width="3.3" height="3.3"/><rect x="78.6" y="254.7" width="3.3" height="3.3"/><rect x="79.6" y="252.0" width="3.3" height="3.3"/><rect x="80.6" y="249.4" width="3.3" height="3.3"/><rect x="81.6" y="246.7" width="3.3" height="3.3"/><rect x="82.4" y="244.7" width="3.3" height="3.3"/><rect x="82.6" y="242.3" width="3.3" height="3.3"/><rect x="83.1" y="236.5" width="3.3" height="3.3"/><rect x="83.6" y="232.0" width="3.3" height="3.3"/><rect x="84.6" y="228.4" width="3.3" height="3.3"/><rect x="85.6" y="226.7" width="3.3" height="3.3"/><rect x="86.6" y="226.2" width="3.3" height="3.3"/><rect x="87.6" y="225.7" width="3.3" height="3.3"/><rect x="88.6" y="225.2" width="3.3" height="3.3"/><rect x="89.6" y="224.8" width="3.3" height="3.3"/><rect x="90.6" y="224.2" width="3.3" height="3.3"/><rect x="91.6" y="223.5" width="3.3" height="3.3"/><rect x="92.6" y="222.8" width="3.3" height="3.3"/><rect x="92.6" y="222.8" width="3.3" height="3.3"/><rect x="93.3" y="231.0" width="3.3" height="3.3"/><rect x="93.6" y="235.1" width="3.3" height="3.3"/><rect x="94.0" y="240.5" width="3.3" height="3.3"/><rect x="94.4" y="250.2" width="3.3" height="3.3"/><rect x="94.6" y="247.4" width="3.3" height="3.3"/><rect x="95.3" y="237.8" width="3.3" height="3.3"/><rect x="95.6" y="234.3" width="3.3" height="3.3"/><rect x="96.0" y="229.7" width="3.3" height="3.3"/><rect x="96.6" y="229.1" width="3.3" height="3.3"/><rect x="97.6" y="228.1" width="3.3" height="3.3"/><rect x="98.6" y="227.1" width="3.3" height="3.3"/><rect x="99.6" y="227.8" width="3.3" height="3.3"/><rect x="100.6" y="229.8" width="3.3" height="3.3"/><rect x="101.5" y="232.4" width="3.3" height="3.3"/><rect x="101.6" y="233.8" width="3.3" height="3.3"/><rect x="102.1" y="240.5" width="3.3" height="3.3"/><rect x="102.6" y="246.4" width="3.3" height="3.3"/><rect x="102.8" y="248.8" width="3.3" height="3.3"/><rect x="103.6" y="251.1" width="3.3" height="3.3"/><rect x="104.6" y="253.1" width="3.3" height="3.3"/><rect x="105.6" y="253.6" width="3.3" height="3.3"/><rect x="106.6" y="254.1" width="3.3" height="3.3"/><rect x="107.6" y="254.1" width="3.3" height="3.3"/><rect x="108.6" y="253.8" width="3.3" height="3.3"/><rect x="109.6" y="253.5" width="3.3" height="3.3"/><rect x="110.6" y="253.3" width="3.3" height="3.3"/><rect x="111.6" y="253.0" width="3.3" height="3.3"/><rect x="112.6" y="252.7" width="3.3" height="3.3"/><rect x="113.6" y="252.2" width="3.3" height="3.3"/><rect x="114.6" y="251.7" width="3.3" height="3.3"/><rect x="115.6" y="251.2" width="3.3" height="3.3"/><rect x="116.6" y="250.7" width="3.3" height="3.3"/><rect x="117.6" y="250.2" width="3.3" height="3.3"/><rect x="118.6" y="249.5" width="3.3" height="3.3"/><rect x="119.6" y="248.8" width="3.3" height="3.3"/><rect x="120.6" y="247.9" width="3.3" height="3.3"/><rect x="121.6" y="246.7" width="3.3" height="3.3"/><rect x="122.6" y="245.5" width="3.3" height="3.3"/><rect x="123.6" y="244.2" width="3.3" height="3.3"/><rect x="124.6" y="242.9" width="3.3" height="3.3"/><rect x="125.3" y="241.9" width="3.3" height="3.3"/><rect x="125.6" y="245.5" width="3.3" height="3.3"/><rect x="126.0" y="250.2" width="3.3" height="3.3"/><rect x="126.7" y="258.3" width="3.3" height="3.3"/><rect x="126.8" y="259.7" width="3.3" height="3.3"/><rect x="127.7" y="263.0" width="3.3" height="3.3"/><rect x="128.0" y="264.5" width="3.3" height="3.3"/><rect x="128.7" y="260.1" width="3.3" height="3.3"/><rect x="129.4" y="254.2" width="3.3" height="3.3"/><rect x="129.7" y="251.9" width="3.3" height="3.3"/><rect x="130.7" y="240.2" width="3.3" height="3.3"/><rect x="130.8" y="237.8" width="3.3" height="3.3"/><rect x="131.7" y="237.0" width="3.3" height="3.3"/><rect x="132.2" y="236.5" width="3.3" height="3.3"/><rect x="132.7" y="241.4" width="3.3" height="3.3"/><rect x="132.8" y="243.3" width="3.3" height="3.3"/><rect x="133.5" y="257.0" width="3.3" height="3.3"/><rect x="133.7" y="257.7" width="3.3" height="3.3"/><rect x="134.2" y="262.4" width="3.3" height="3.3"/><rect x="134.7" y="261.1" width="3.3" height="3.3"/><rect x="135.5" y="258.4" width="3.3" height="3.3"/><rect x="135.7" y="257.5" width="3.3" height="3.3"/><rect x="136.7" y="248.7" width="3.3" height="3.3"/><rect x="136.9" y="246.0" width="3.3" height="3.3"/><rect x="137.7" y="239.4" width="3.3" height="3.3"/><rect x="138.2" y="233.8" width="3.3" height="3.3"/><rect x="138.7" y="231.8" width="3.3" height="3.3"/><rect x="139.7" y="226.9" width="3.3" height="3.3"/><rect x="139.7" y="226.9" width="3.3" height="3.3"/><rect x="140.7" y="223.1" width="3.3" height="3.3"/><rect x="141.7" y="220.9" width="3.3" height="3.3"/><rect x="142.7" y="221.7" width="3.3" height="3.3"/><rect x="142.9" y="223.2" width="3.3" height="3.3"/><rect x="143.5" y="239.8" width="3.3" height="3.3"/><rect x="143.7" y="238.0" width="3.3" height="3.3"/><rect x="144.7" y="220.3" width="3.3" height="3.3"/><rect x="144.8" y="218.5" width="3.3" height="3.3"/><rect x="145.7" y="217.4" width="3.3" height="3.3"/><rect x="146.7" y="216.1" width="3.3" height="3.3"/><rect x="147.7" y="215.1" width="3.3" height="3.3"/><rect x="148.7" y="214.4" width="3.3" height="3.3"/><rect x="149.7" y="213.6" width="3.3" height="3.3"/><rect x="150.7" y="213.2" width="3.3" height="3.3"/><rect x="151.7" y="212.9" width="3.3" height="3.3"/><rect x="152.7" y="212.7" width="3.3" height="3.3"/><rect x="153.7" y="212.9" width="3.3" height="3.3"/><rect x="154.7" y="213.6" width="3.3" height="3.3"/><rect x="155.7" y="215.0" width="3.3" height="3.3"/><rect x="156.7" y="218.0" width="3.3" height="3.3"/><rect x="156.8" y="218.5" width="3.3" height="3.3"/><rect x="157.7" y="221.8" width="3.3" height="3.3"/><rect x="158.3" y="224.7" width="3.3" height="3.3"/><rect x="158.7" y="225.6" width="3.3" height="3.3"/><rect x="159.7" y="228.6" width="3.3" height="3.3"/><rect x="160.7" y="230.8" width="3.3" height="3.3"/><rect x="161.7" y="232.8" width="3.3" height="3.3"/><rect x="162.7" y="234.6" width="3.3" height="3.3"/><rect x="163.7" y="236.3" width="3.3" height="3.3"/><rect x="164.7" y="234.7" width="3.3" height="3.3"/><rect x="165.7" y="236.8" width="3.3" height="3.3"/><rect x="165.7" y="236.8" width="3.3" height="3.3"/><rect x="166.3" y="245.8" width="3.3" height="3.3"/><rect x="166.7" y="245.8" width="3.3" height="3.3"/><rect x="167.7" y="245.8" width="3.3" height="3.3"/><rect x="168.7" y="246.9" width="3.3" height="3.3"/><rect x="169.7" y="248.2" width="3.3" height="3.3"/><rect x="170.7" y="249.5" width="3.3" height="3.3"/><rect x="171.7" y="250.8" width="3.3" height="3.3"/><rect x="172.7" y="252.1" width="3.3" height="3.3"/><rect x="173.7" y="253.5" width="3.3" height="3.3"/><rect x="174.7" y="254.8" width="3.3" height="3.3"/><rect x="175.7" y="257.7" width="3.3" height="3.3"/><rect x="176.2" y="259.4" width="3.3" height="3.3"/><rect x="176.7" y="264.0" width="3.3" height="3.3"/><rect x="176.9" y="267.5" width="3.3" height="3.3"/><rect x="176.9" y="273.5" width="3.3" height="3.3"/><rect x="177.7" y="278.8" width="3.3" height="3.3"/><rect x="177.8" y="279.6" width="3.3" height="3.3"/><rect x="178.7" y="280.9" width="3.3" height="3.3"/><rect x="179.7" y="281.1" width="3.3" height="3.3"/><rect x="180.7" y="279.4" width="3.3" height="3.3"/><rect x="181.7" y="277.5" width="3.3" height="3.3"/><rect x="182.7" y="274.6" width="3.3" height="3.3"/><rect x="183.7" y="268.3" width="3.3" height="3.3"/><rect x="183.8" y="267.5" width="3.3" height="3.3"/><rect x="184.7" y="270.4" width="3.3" height="3.3"/><rect x="185.7" y="273.6" width="3.3" height="3.3"/><rect x="186.0" y="275.0" width="3.3" height="3.3"/><rect x="186.7" y="275.4" width="3.3" height="3.3"/><rect x="187.7" y="276.3" width="3.3" height="3.3"/><rect x="188.7" y="277.1" width="3.3" height="3.3"/><rect x="189.7" y="277.9" width="3.3" height="3.3"/><rect x="189.8" y="278.1" width="3.3" height="3.3"/><rect x="190.5" y="272.0" width="3.3" height="3.3"/><rect x="190.7" y="271.4" width="3.3" height="3.3"/><rect x="191.3" y="267.5" width="3.3" height="3.3"/><rect x="191.7" y="264.4" width="3.3" height="3.3"/><rect x="192.0" y="260.4" width="3.3" height="3.3"/><rect x="192.7" y="256.9" width="3.3" height="3.3"/><rect x="193.5" y="251.8" width="3.3" height="3.3"/><rect x="193.7" y="251.5" width="3.3" height="3.3"/><rect x="194.7" y="247.7" width="3.3" height="3.3"/><rect x="195.2" y="245.8" width="3.3" height="3.3"/><rect x="195.7" y="243.8" width="3.3" height="3.3"/><rect x="196.7" y="239.8" width="3.3" height="3.3"/><rect x="196.7" y="239.8" width="3.3" height="3.3"/><rect x="197.7" y="234.8" width="3.3" height="3.3"/><rect x="198.2" y="232.2" width="3.3" height="3.3"/><rect x="198.7" y="230.2" width="3.3" height="3.3"/><rect x="199.7" y="226.2" width="3.3" height="3.3"/><rect x="199.7" y="226.2" width="3.3" height="3.3"/><rect x="200.7" y="222.8" width="3.3" height="3.3"/><rect x="201.7" y="219.5" width="3.3" height="3.3"/><rect x="201.9" y="218.5" width="3.3" height="3.3"/><rect x="202.7" y="217.1" width="3.3" height="3.3"/><rect x="203.7" y="215.1" width="3.3" height="3.3"/><rect x="204.7" y="213.1" width="3.3" height="3.3"/><rect x="205.7" y="211.1" width="3.3" height="3.3"/><rect x="206.7" y="209.3" width="3.3" height="3.3"/><rect x="207.7" y="208.3" width="3.3" height="3.3"/><rect x="208.7" y="207.3" width="3.3" height="3.3"/><rect x="209.7" y="207.7" width="3.3" height="3.3"/><rect x="210.7" y="208.7" width="3.3" height="3.3"/><rect x="211.7" y="215.0" width="3.3" height="3.3"/><rect x="212.7" y="218.8" width="3.3" height="3.3"/><rect x="213.7" y="219.8" width="3.3" height="3.3"/><rect x="214.7" y="220.8" width="3.3" height="3.3"/><rect x="215.7" y="219.9" width="3.3" height="3.3"/><rect x="216.7" y="218.9" width="3.3" height="3.3"/><rect x="217.7" y="217.8" width="3.3" height="3.3"/><rect x="218.7" y="216.5" width="3.3" height="3.3"/><rect x="219.7" y="215.4" width="3.3" height="3.3"/><rect x="220.7" y="214.9" width="3.3" height="3.3"/><rect x="221.7" y="214.4" width="3.3" height="3.3"/><rect x="222.7" y="214.2" width="3.3" height="3.3"/><rect x="223.7" y="214.5" width="3.3" height="3.3"/><rect x="224.7" y="215.0" width="3.3" height="3.3"/><rect x="225.7" y="216.9" width="3.3" height="3.3"/><rect x="226.7" y="219.1" width="3.3" height="3.3"/><rect x="227.7" y="221.7" width="3.3" height="3.3"/><rect x="228.7" y="223.7" width="3.3" height="3.3"/><rect x="229.7" y="225.7" width="3.3" height="3.3"/><rect x="230.7" y="227.2" width="3.3" height="3.3"/><rect x="231.7" y="228.5" width="3.3" height="3.3"/><rect x="232.7" y="229.8" width="3.3" height="3.3"/><rect x="233.7" y="231.2" width="3.3" height="3.3"/><rect x="234.7" y="232.6" width="3.3" height="3.3"/><rect x="235.7" y="234.5" width="3.3" height="3.3"/><rect x="236.7" y="237.9" width="3.3" height="3.3"/><rect x="237.2" y="239.8" width="3.3" height="3.3"/><rect x="237.7" y="241.8" width="3.3" height="3.3"/><rect x="238.7" y="245.8" width="3.3" height="3.3"/><rect x="238.7" y="245.8" width="3.3" height="3.3"/><rect x="239.7" y="249.8" width="3.3" height="3.3"/><rect x="240.2" y="251.8" width="3.3" height="3.3"/><rect x="240.7" y="254.3" width="3.3" height="3.3"/><rect x="241.7" y="259.4" width="3.3" height="3.3"/><rect x="241.7" y="259.4" width="3.3" height="3.3"/><rect x="242.4" y="270.5" width="3.3" height="3.3"/><rect x="242.7" y="271.5" width="3.3" height="3.3"/><rect x="243.7" y="276.5" width="3.3" height="3.3"/><rect x="243.9" y="278.1" width="3.3" height="3.3"/><rect x="244.7" y="279.8" width="3.3" height="3.3"/><rect x="245.7" y="281.7" width="3.3" height="3.3"/><rect x="246.7" y="281.4" width="3.3" height="3.3"/><rect x="247.7" y="281.1" width="3.3" height="3.3"/><rect x="248.7" y="280.1" width="3.3" height="3.3"/><rect x="249.7" y="279.1" width="3.3" height="3.3"/><rect x="250.7" y="277.1" width="3.3" height="3.3"/><rect x="251.7" y="274.8" width="3.3" height="3.3"/><rect x="252.7" y="273.2" width="3.3" height="3.3"/><rect x="253.7" y="272.5" width="3.3" height="3.3"/><rect x="254.7" y="271.6" width="3.3" height="3.3"/><rect x="255.7" y="268.6" width="3.3" height="3.3"/><rect x="256.7" y="266.2" width="3.3" height="3.3"/><rect x="257.7" y="264.2" width="3.3" height="3.3"/><rect x="258.7" y="262.2" width="3.3" height="3.3"/><rect x="259.7" y="260.0" width="3.3" height="3.3"/><rect x="260.6" y="258.0" width="3.3" height="3.3"/><rect x="260.7" y="257.7" width="3.3" height="3.3"/><rect x="261.7" y="255.7" width="3.3" height="3.3"/><rect x="262.7" y="253.7" width="3.3" height="3.3"/><rect x="263.6" y="251.8" width="3.3" height="3.3"/><rect x="263.7" y="251.7" width="3.3" height="3.3"/><rect x="264.7" y="250.3" width="3.3" height="3.3"/><rect x="265.7" y="248.8" width="3.3" height="3.3"/><rect x="266.7" y="247.3" width="3.3" height="3.3"/><rect x="266.7" y="247.3" width="3.3" height="3.3"/><rect x="267.7" y="251.2" width="3.3" height="3.3"/><rect x="268.0" y="252.3" width="3.3" height="3.3"/><rect x="268.7" y="260.5" width="3.3" height="3.3"/><rect x="268.9" y="262.9" width="3.3" height="3.3"/><rect x="269.7" y="244.3" width="3.3" height="3.3"/><rect x="269.7" y="244.3" width="3.3" height="3.3"/><rect x="270.7" y="241.3" width="3.3" height="3.3"/><rect x="271.7" y="238.8" width="3.3" height="3.3"/><rect x="272.7" y="236.8" width="3.3" height="3.3"/><rect x="273.5" y="235.2" width="3.3" height="3.3"/><rect x="273.7" y="234.8" width="3.3" height="3.3"/><rect x="274.7" y="232.8" width="3.3" height="3.3"/><rect x="275.7" y="230.8" width="3.3" height="3.3"/><rect x="276.5" y="229.2" width="3.3" height="3.3"/><rect x="276.7" y="228.8" width="3.3" height="3.3"/><rect x="277.7" y="226.8" width="3.3" height="3.3"/><rect x="278.7" y="224.8" width="3.3" height="3.3"/><rect x="279.7" y="222.8" width="3.3" height="3.3"/><rect x="280.7" y="221.3" width="3.3" height="3.3"/><rect x="281.7" y="219.8" width="3.3" height="3.3"/><rect x="282.7" y="218.3" width="3.3" height="3.3"/><rect x="283.7" y="217.1" width="3.3" height="3.3"/><rect x="284.7" y="215.9" width="3.3" height="3.3"/><rect x="285.7" y="214.8" width="3.3" height="3.3"/><rect x="286.7" y="214.0" width="3.3" height="3.3"/><rect x="287.7" y="213.2" width="3.3" height="3.3"/><rect x="288.7" y="212.5" width="3.3" height="3.3"/><rect x="289.7" y="211.8" width="3.3" height="3.3"/><rect x="290.7" y="211.2" width="3.3" height="3.3"/><rect x="290.9" y="211.0" width="3.3" height="3.3"/><rect x="291.6" y="220.2" width="3.3" height="3.3"/><rect x="291.7" y="219.8" width="3.3" height="3.3"/><rect x="292.7" y="216.8" width="3.3" height="3.3"/><rect x="293.7" y="214.3" width="3.3" height="3.3"/><rect x="294.7" y="212.6" width="3.3" height="3.3"/><rect x="295.7" y="213.6" width="3.3" height="3.3"/><rect x="296.2" y="214.0" width="3.3" height="3.3"/><rect x="296.7" y="229.2" width="3.3" height="3.3"/><rect x="296.9" y="235.2" width="3.3" height="3.3"/><rect x="297.7" y="224.7" width="3.3" height="3.3"/><rect x="298.4" y="215.5" width="3.3" height="3.3"/><rect x="298.7" y="215.2" width="3.3" height="3.3"/><rect x="299.7" y="214.2" width="3.3" height="3.3"/><rect x="300.7" y="216.5" width="3.3" height="3.3"/><rect x="301.4" y="218.5" width="3.3" height="3.3"/><rect x="301.7" y="219.7" width="3.3" height="3.3"/><rect x="302.7" y="223.5" width="3.3" height="3.3"/><rect x="303.0" y="224.7" width="3.3" height="3.3"/><rect x="303.7" y="228.2" width="3.3" height="3.3"/><rect x="304.5" y="232.2" width="3.3" height="3.3"/><rect x="304.7" y="232.7" width="3.3" height="3.3"/><rect x="305.7" y="234.7" width="3.3" height="3.3"/><rect x="306.7" y="236.8" width="3.3" height="3.3"/><rect x="307.7" y="238.9" width="3.3" height="3.3"/><rect x="308.4" y="240.3" width="3.3" height="3.3"/><rect x="308.7" y="242.9" width="3.3" height="3.3"/><rect x="309.4" y="248.8" width="3.3" height="3.3"/><rect x="309.7" y="250.0" width="3.3" height="3.3"/><rect x="310.7" y="253.7" width="3.3" height="3.3"/><rect x="311.0" y="254.8" width="3.3" height="3.3"/><rect x="311.7" y="262.4" width="3.3" height="3.3"/><rect x="311.7" y="262.4" width="3.3" height="3.3"/><rect x="312.7" y="269.8" width="3.3" height="3.3"/><rect x="313.2" y="273.5" width="3.3" height="3.3"/><rect x="313.7" y="276.0" width="3.3" height="3.3"/><rect x="314.7" y="281.1" width="3.3" height="3.3"/><rect x="314.7" y="281.1" width="3.3" height="3.3"/><rect x="315.7" y="280.1" width="3.3" height="3.3"/><rect x="316.2" y="279.6" width="3.3" height="3.3"/><rect x="316.7" y="277.5" width="3.3" height="3.3"/><rect x="317.7" y="272.5" width="3.3" height="3.3"/><rect x="317.8" y="272.0" width="3.3" height="3.3"/><rect x="318.5" y="264.4" width="3.3" height="3.3"/><rect x="318.7" y="264.8" width="3.3" height="3.3"/><rect x="319.7" y="266.8" width="3.3" height="3.3"/><rect x="320.7" y="270.2" width="3.3" height="3.3"/><rect x="321.7" y="273.9" width="3.3" height="3.3"/><rect x="322.7" y="275.9" width="3.3" height="3.3"/><rect x="323.7" y="277.9" width="3.3" height="3.3"/><rect x="324.7" y="279.2" width="3.3" height="3.3"/><rect x="325.7" y="280.5" width="3.3" height="3.3"/><rect x="326.7" y="281.2" width="3.3" height="3.3"/><rect x="327.7" y="281.4" width="3.3" height="3.3"/><rect x="328.7" y="281.7" width="3.3" height="3.3"/><rect x="329.7" y="281.6" width="3.3" height="3.3"/><rect x="330.7" y="281.3" width="3.3" height="3.3"/><rect x="331.7" y="280.4" width="3.3" height="3.3"/><rect x="332.7" y="278.3" width="3.3" height="3.3"/><rect x="333.7" y="275.7" width="3.3" height="3.3"/><rect x="334.4" y="270.5" width="3.3" height="3.3"/><rect x="334.7" y="268.2" width="3.3" height="3.3"/><rect x="335.2" y="264.4" width="3.3" height="3.3"/><rect x="335.7" y="260.1" width="3.3" height="3.3"/><rect x="335.9" y="258.4" width="3.3" height="3.3"/><rect x="336.7" y="253.3" width="3.3" height="3.3"/><rect x="337.4" y="248.8" width="3.3" height="3.3"/><rect x="337.7" y="247.5" width="3.3" height="3.3"/><rect x="338.7" y="242.9" width="3.3" height="3.3"/><rect x="339.7" y="238.2" width="3.3" height="3.3"/><rect x="339.7" y="238.2" width="3.3" height="3.3"/><rect x="340.7" y="233.2" width="3.3" height="3.3"/><rect x="341.2" y="230.7" width="3.3" height="3.3"/><rect x="341.7" y="228.7" width="3.3" height="3.3"/><rect x="342.7" y="224.7" width="3.3" height="3.3"/><rect x="342.7" y="224.7" width="3.3" height="3.3"/><rect x="343.7" y="221.3" width="3.3" height="3.3"/><rect x="344.7" y="218.0" width="3.3" height="3.3"/><rect x="345.0" y="217.0" width="3.3" height="3.3"/><rect x="345.7" y="215.2" width="3.3" height="3.3"/><rect x="346.7" y="212.6" width="3.3" height="3.3"/><rect x="347.7" y="210.6" width="3.3" height="3.3"/><rect x="348.7" y="209.6" width="3.3" height="3.3"/><rect x="348.8" y="209.5" width="3.3" height="3.3"/><rect x="349.7" y="215.0" width="3.3" height="3.3"/><rect x="350.2" y="218.5" width="3.3" height="3.3"/><rect x="350.7" y="225.5" width="3.3" height="3.3"/><rect x="351.0" y="230.7" width="3.3" height="3.3"/><rect x="351.7" y="225.4" width="3.3" height="3.3"/><rect x="351.8" y="224.7" width="3.3" height="3.3"/><rect x="352.7" y="221.0" width="3.3" height="3.3"/><rect x="353.2" y="218.5" width="3.3" height="3.3"/><rect x="353.7" y="217.8" width="3.3" height="3.3"/><rect x="354.7" y="215.8" width="3.3" height="3.3"/><rect x="355.7" y="213.9" width="3.3" height="3.3"/><rect x="356.7" y="212.9" width="3.3" height="3.3"/><rect x="357.7" y="211.9" width="3.3" height="3.3"/><rect x="358.7" y="211.0" width="3.3" height="3.3"/><rect x="359.7" y="210.5" width="3.3" height="3.3"/><rect x="360.7" y="210.0" width="3.3" height="3.3"/><rect x="361.7" y="209.5" width="3.3" height="3.3"/><rect x="362.7" y="209.5" width="3.3" height="3.3"/><rect x="363.7" y="209.5" width="3.3" height="3.3"/><rect x="364.7" y="209.7" width="3.3" height="3.3"/><rect x="365.7" y="211.0" width="3.3" height="3.3"/><rect x="366.7" y="212.3" width="3.3" height="3.3"/><rect x="367.7" y="214.2" width="3.3" height="3.3"/><rect x="368.7" y="216.2" width="3.3" height="3.3"/><rect x="369.7" y="218.2" width="3.3" height="3.3"/><rect x="369.9" y="218.5" width="3.3" height="3.3"/><rect x="370.7" y="214.5" width="3.3" height="3.3"/><rect x="371.4" y="211.0" width="3.3" height="3.3"/><rect x="371.7" y="210.2" width="3.3" height="3.3"/><rect x="372.7" y="207.3" width="3.3" height="3.3"/><rect x="373.7" y="207.2" width="3.3" height="3.3"/><rect x="374.5" y="208.0" width="3.3" height="3.3"/><rect x="374.7" y="209.0" width="3.3" height="3.3"/><rect x="375.7" y="214.0" width="3.3" height="3.3"/><rect x="376.0" y="215.5" width="3.3" height="3.3"/><rect x="376.7" y="218.2" width="3.3" height="3.3"/><rect x="377.2" y="220.2" width="3.3" height="3.3"/></g>
<path d="M401.9 236.3 L402.7 241.4 L403.6 256.8 L406.1 260.3 L407.3 248.3 L408.7 247.4 L411.3 249.1 L412.1 250 L413.9 250.8 L415.6 254.3 L417.3 257.7 L419 253.4 L420.7 253.4 L421.6 254.3 L423.3 257.7 L425.8 259.4 L428.4 260.3 L431 262.8 L432.7 276.6 L434.4 280.8 L436.1 283.4 L439.6 282.6 L443 281.7 L446.4 280 L448.1 275.7 L449.8 268.9 L451.6 273.1 L453.3 277.4 L455.8 279.1 L459.3 279.1 L462.7 279.1 L467 278.3 L469.6 274 L471.3 268.9 L473 262.9 L474.7 257.7 L476.4 252.6 L478.1 248.3" fill="none" stroke="#e8393a" stroke-width="1.1" stroke-linejoin="round" stroke-linecap="round"/>
<path d="M401.9 236.3h0M401.9 236.3h0M402.7 241.4h0M403.6 256.8h0M404.3 257.8h0M406.1 260.3h0M406.8 253.3h0M407.3 248.3h0M409.2 247.8h0M411.7 249.5h0M414.1 251.3h0M416.6 256.3h0M417.3 257.7h0M419.0 253.4h0M421.5 254.2h0M423.9 258.1h0M426.4 259.6h0M428.8 260.7h0M431.0 262.8h0M431.3 265.2h0M432.7 276.6h0M433.7 279.2h0M436.2 283.4h0M438.6 282.8h0M441.1 282.2h0M443.5 281.4h0M446.0 280.2h0M448.1 275.7h0M448.4 274.3h0M449.8 268.9h0M450.9 271.5h0M453.3 277.4h0M455.8 279.1h0M458.2 279.1h0M460.7 279.1h0M463.1 279.0h0M465.6 278.6h0M468.0 276.6h0M470.5 271.3h0M472.9 263.1h0M475.4 255.6h0M477.8 248.9h0M478.1 248.3h0" fill="none" stroke="#e23434" stroke-width="3.4" stroke-linecap="square"/>
<path d="M401.9 236.3h0M401.9 236.3h0M402.7 241.4h0M403.6 256.8h0M404.3 257.8h0M406.1 260.3h0M406.8 253.3h0M407.3 248.3h0M409.2 247.8h0M411.7 249.5h0M414.1 251.3h0M416.6 256.3h0M417.3 257.7h0M419.0 253.4h0M421.5 254.2h0M423.9 258.1h0M426.4 259.6h0M428.8 260.7h0M431.0 262.8h0M431.3 265.2h0M432.7 276.6h0M433.7 279.2h0M436.2 283.4h0M438.6 282.8h0M441.1 282.2h0M443.5 281.4h0M446.0 280.2h0M448.1 275.7h0M448.4 274.3h0M449.8 268.9h0M450.9 271.5h0M453.3 277.4h0M455.8 279.1h0M458.2 279.1h0M460.7 279.1h0M463.1 279.0h0M465.6 278.6h0M468.0 276.6h0M470.5 271.3h0M472.9 263.1h0M475.4 255.6h0M477.8 248.9h0M478.1 248.3h0" fill="none" stroke="#ec5050" stroke-width="2.8" stroke-linecap="square"/>
<path d="M401 273.1 L401.5 284.3 L402.2 315.1 L404 316 L406 316 L408 316 L410 316 L412 316 L414 316 L416 316 L418 316 L420 316 L422 316 L424 316 L426 316 L428 316 L430 316 L432 316 L434 316 L436 316 L438 316 L440 316 L442 316 L444 316 L446 316 L448 316 L449.8 316 L451.6 323.7 L453.3 329.5 L455.2 329.6 L457.1 329.6 L459 329.6 L460.9 329.6 L462.8 329.6 L464.7 329.6 L466.6 329.6 L468.5 329.6 L470.4 329.6 L472.1 309.1 L473.8 281.7 L475.5 275.7 L478.1 262.9" fill="none" stroke="#000" stroke-width="1.2" stroke-linejoin="round" stroke-linecap="round"/>
<path d="M401.0 273.1h0M401.0 273.1h0M401.5 284.3h0M402.2 315.1h0M403.4 315.7h0M405.9 316.0h0M408.3 316.0h0M410.8 316.0h0M413.2 316.0h0M415.7 316.0h0M418.1 316.0h0M420.6 316.0h0M423.0 316.0h0M425.5 316.0h0M427.9 316.0h0M430.4 316.0h0M432.8 316.0h0M435.3 316.0h0M437.7 316.0h0M440.2 316.0h0M442.6 316.0h0M445.1 316.0h0M447.5 316.0h0M449.8 316.0h0M450.0 316.9h0M451.6 323.7h0M452.4 326.6h0M454.9 329.6h0M457.3 329.6h0M459.8 329.6h0M462.2 329.6h0M464.7 329.6h0M467.1 329.6h0M469.6 329.6h0M470.4 329.6h0M472.0 309.7h0M472.1 309.1h0M473.8 281.7h0M474.5 279.2h0M475.5 275.7h0M476.9 268.6h0M478.1 262.9h0" fill="none" stroke="#000" stroke-width="4.2" stroke-linecap="round"/>
<path d="M401.0 273.1h0M401.0 273.1h0M401.5 284.3h0M402.2 315.1h0M403.4 315.7h0M405.9 316.0h0M408.3 316.0h0M410.8 316.0h0M413.2 316.0h0M415.7 316.0h0M418.1 316.0h0M420.6 316.0h0M423.0 316.0h0M425.5 316.0h0M427.9 316.0h0M430.4 316.0h0M432.8 316.0h0M435.3 316.0h0M437.7 316.0h0M440.2 316.0h0M442.6 316.0h0M445.1 316.0h0M447.5 316.0h0M449.8 316.0h0M450.0 316.9h0M451.6 323.7h0M452.4 326.6h0M454.9 329.6h0M457.3 329.6h0M459.8 329.6h0M462.2 329.6h0M464.7 329.6h0M467.1 329.6h0M469.6 329.6h0M470.4 329.6h0M472.0 309.7h0M472.1 309.1h0M473.8 281.7h0M474.5 279.2h0M475.5 275.7h0M476.9 268.6h0M478.1 262.9h0" fill="none" stroke="#222" stroke-width="3.7" stroke-linecap="round"/>
<path d="M25.8 339.5V190.6H379.2V339.5" fill="none" stroke="#0a0a0a" stroke-width="1.4"/>
<path d="M399.7 339.5V190.6H478.9V339.5" fill="none" stroke="#0a0a0a" stroke-width="1.4"/>
<line x1="23.6" y1="211.8" x2="25.8" y2="211.8" stroke="#0a0a0a" stroke-width="1.2"/>
<line x1="23.6" y1="254.4" x2="25.8" y2="254.4" stroke="#0a0a0a" stroke-width="1.2"/>
<line x1="23.6" y1="296.9" x2="25.8" y2="296.9" stroke="#0a0a0a" stroke-width="1.2"/>
<line x1="23.6" y1="339.5" x2="25.8" y2="339.5" stroke="#0a0a0a" stroke-width="1.2"/>
<line x1="379.2" y1="211.8" x2="381.4" y2="211.8" stroke="#0a0a0a" stroke-width="1.2"/>
<line x1="379.2" y1="254.4" x2="381.4" y2="254.4" stroke="#0a0a0a" stroke-width="1.2"/>
<line x1="379.2" y1="296.9" x2="381.4" y2="296.9" stroke="#0a0a0a" stroke-width="1.2"/>
<line x1="379.2" y1="339.5" x2="381.4" y2="339.5" stroke="#0a0a0a" stroke-width="1.2"/>
<line x1="397.5" y1="211.8" x2="399.7" y2="211.8" stroke="#0a0a0a" stroke-width="1.2"/>
<line x1="397.5" y1="254.4" x2="399.7" y2="254.4" stroke="#0a0a0a" stroke-width="1.2"/>
<line x1="397.5" y1="296.9" x2="399.7" y2="296.9" stroke="#0a0a0a" stroke-width="1.2"/>
<line x1="397.5" y1="339.5" x2="399.7" y2="339.5" stroke="#0a0a0a" stroke-width="1.2"/>
<line x1="478.9" y1="211.8" x2="481.1" y2="211.8" stroke="#0a0a0a" stroke-width="1.2"/>
<line x1="478.9" y1="254.4" x2="481.1" y2="254.4" stroke="#0a0a0a" stroke-width="1.2"/>
<line x1="478.9" y1="296.9" x2="481.1" y2="296.9" stroke="#0a0a0a" stroke-width="1.2"/>
<line x1="478.9" y1="339.5" x2="481.1" y2="339.5" stroke="#0a0a0a" stroke-width="1.2"/>
<text x="20.6" y="214.21" font-size="6.7" text-anchor="end" font-weight="bold" fill="#111" stroke="#111" stroke-width="0.2">55</text>
<text x="20.6" y="256.81" font-size="6.7" text-anchor="end" font-weight="bold" fill="#111" stroke="#111" stroke-width="0.2">35</text>
<text x="20.6" y="299.31" font-size="6.7" text-anchor="end" font-weight="bold" fill="#111" stroke="#111" stroke-width="0.2">15</text>
<text x="20.6" y="341.91" font-size="6.7" text-anchor="end" font-weight="bold" fill="#111" stroke="#111" stroke-width="0.2">-5</text>
<text x="392.9" y="214.21" font-size="6.7" text-anchor="end" font-weight="bold" fill="#111" stroke="#111" stroke-width="0.2">55</text>
<text x="392.9" y="256.81" font-size="6.7" text-anchor="end" font-weight="bold" fill="#111" stroke="#111" stroke-width="0.2">35</text>
<text x="392.9" y="299.31" font-size="6.7" text-anchor="end" font-weight="bold" fill="#111" stroke="#111" stroke-width="0.2">15</text>
<text x="392.9" y="341.91" font-size="6.7" text-anchor="end" font-weight="bold" fill="#111" stroke="#111" stroke-width="0.2">-5</text>
<text x="491.7" y="214.21" font-size="6.7" text-anchor="end" font-weight="bold" fill="#111" stroke="#111" stroke-width="0.2">55</text>
<text x="491.7" y="256.81" font-size="6.7" text-anchor="end" font-weight="bold" fill="#111" stroke="#111" stroke-width="0.2">35</text>
<text x="491.7" y="299.31" font-size="6.7" text-anchor="end" font-weight="bold" fill="#111" stroke="#111" stroke-width="0.2">15</text>
<text x="491.7" y="341.91" font-size="6.7" text-anchor="end" font-weight="bold" fill="#111" stroke="#111" stroke-width="0.2">-5</text>
<text transform="translate(35.7 333) rotate(-90)" dy="0.36em" font-size="7" text-anchor="end" font-weight="bold" fill="#111" textLength="16" lengthAdjust="spacingAndGlyphs" stroke="#111" stroke-width="0.3">12:00</text>
<text transform="translate(53.27 333) rotate(-90)" dy="0.36em" font-size="7" text-anchor="end" font-weight="bold" fill="#111" textLength="16" lengthAdjust="spacingAndGlyphs" stroke="#111" stroke-width="0.3">18:00</text>
<text transform="translate(70.83 333) rotate(-90)" dy="0.36em" font-size="7" text-anchor="end" font-weight="bold" fill="#111" textLength="16" lengthAdjust="spacingAndGlyphs" stroke="#111" stroke-width="0.3">00:00</text>
<text transform="translate(88.4 333) rotate(-90)" dy="0.36em" font-size="7" text-anchor="end" font-weight="bold" fill="#111" textLength="16" lengthAdjust="spacingAndGlyphs" stroke="#111" stroke-width="0.3">06:00</text>
<text transform="translate(105.96 333) rotate(-90)" dy="0.36em" font-size="7" text-anchor="end" font-weight="bold" fill="#111" textLength="16" lengthAdjust="spacingAndGlyphs" stroke="#111" stroke-width="0.3">12:00</text>
<text transform="translate(123.53 333) rotate(-90)" dy="0.36em" font-size="7" text-anchor="end" font-weight="bold" fill="#111" textLength="16" lengthAdjust="spacingAndGlyphs" stroke="#111" stroke-width="0.3">18:00</text>
<text transform="translate(141.09 333) rotate(-90)" dy="0.36em" font-size="7" text-anchor="end" font-weight="bold" fill="#111" textLength="16" lengthAdjust="spacingAndGlyphs" stroke="#111" stroke-width="0.3">00:00</text>
<text transform="translate(158.66 333) rotate(-90)" dy="0.36em" font-size="7" text-anchor="end" font-weight="bold" fill="#111" textLength="16" lengthAdjust="spacingAndGlyphs" stroke="#111" stroke-width="0.3">06:00</text>
<text transform="translate(176.22 333) rotate(-90)" dy="0.36em" font-size="7" text-anchor="end" font-weight="bold" fill="#111" textLength="16" lengthAdjust="spacingAndGlyphs" stroke="#111" stroke-width="0.3">12:00</text>
<text transform="translate(193.79 333) rotate(-90)" dy="0.36em" font-size="7" text-anchor="end" font-weight="bold" fill="#111" textLength="16" lengthAdjust="spacingAndGlyphs" stroke="#111" stroke-width="0.3">18:00</text>
<text transform="translate(211.35 333) rotate(-90)" dy="0.36em" font-size="7" text-anchor="end" font-weight="bold" fill="#111" textLength="16" lengthAdjust="spacingAndGlyphs" stroke="#111" stroke-width="0.3">00:00</text>
<text transform="translate(228.92 333) rotate(-90)" dy="0.36em" font-size="7" text-anchor="end" font-weight="bold" fill="#111" textLength="16" lengthAdjust="spacingAndGlyphs" stroke="#111" stroke-width="0.3">06:00</text>
<text transform="translate(246.48 333) rotate(-90)" dy="0.36em" font-size="7" text-anchor="end" font-weight="bold" fill="#111" textLength="16" lengthAdjust="spacingAndGlyphs" stroke="#111" stroke-width="0.3">12:00</text>
<text transform="translate(264.05 333) rotate(-90)" dy="0.36em" font-size="7" text-anchor="end" font-weight="bold" fill="#111" textLength="16" lengthAdjust="spacingAndGlyphs" stroke="#111" stroke-width="0.3">18:00</text>
<text transform="translate(281.61 333) rotate(-90)" dy="0.36em" font-size="7" text-anchor="end" font-weight="bold" fill="#111" textLength="16" lengthAdjust="spacingAndGlyphs" stroke="#111" stroke-width="0.3">00:00</text>
<text transform="translate(299.18 333) rotate(-90)" dy="0.36em" font-size="7" text-anchor="end" font-weight="bold" fill="#111" textLength="16" lengthAdjust="spacingAndGlyphs" stroke="#111" stroke-width="0.3">06:00</text>
<text transform="translate(316.74 333) rotate(-90)" dy="0.36em" font-size="7" text-anchor="end" font-weight="bold" fill="#111" textLength="16" lengthAdjust="spacingAndGlyphs" stroke="#111" stroke-width="0.3">12:00</text>
<text transform="translate(334.31 333) rotate(-90)" dy="0.36em" font-size="7" text-anchor="end" font-weight="bold" fill="#111" textLength="16" lengthAdjust="spacingAndGlyphs" stroke="#111" stroke-width="0.3">18:00</text>
<text transform="translate(351.87 333) rotate(-90)" dy="0.36em" font-size="7" text-anchor="end" font-weight="bold" fill="#111" textLength="16" lengthAdjust="spacingAndGlyphs" stroke="#111" stroke-width="0.3">00:00</text>
<text transform="translate(369.44 333) rotate(-90)" dy="0.36em" font-size="7" text-anchor="end" font-weight="bold" fill="#111" textLength="16" lengthAdjust="spacingAndGlyphs" stroke="#111" stroke-width="0.3">06:00</text>
<text transform="translate(402.1 333.3) rotate(-90)" dy="0.36em" font-size="7" text-anchor="end" font-weight="bold" fill="#111" textLength="16" lengthAdjust="spacingAndGlyphs" stroke="#111" stroke-width="0.3">09:00</text>
<text transform="translate(424.55 333.3) rotate(-90)" dy="0.36em" font-size="7" text-anchor="end" font-weight="bold" fill="#111" textLength="16" lengthAdjust="spacingAndGlyphs" stroke="#111" stroke-width="0.3">12:00</text>
<text transform="translate(447 333.3) rotate(-90)" dy="0.36em" font-size="7" text-anchor="end" font-weight="bold" fill="#111" textLength="16" lengthAdjust="spacingAndGlyphs" stroke="#111" stroke-width="0.3">15:00</text>
<text transform="translate(469.45 333.3) rotate(-90)" dy="0.36em" font-size="7" text-anchor="end" font-weight="bold" fill="#111" textLength="16" lengthAdjust="spacingAndGlyphs" stroke="#111" stroke-width="0.3">18:00</text>
<text transform="translate(8 265.2) rotate(-90)" dy="0.36em" font-size="6.8" text-anchor="middle" font-weight="bold" fill="#111" textLength="45" lengthAdjust="spacingAndGlyphs" stroke="#111" stroke-width="0.2">Pressure (m)</text>
<text x="202.5" y="362.5" font-size="7" text-anchor="middle" font-weight="bold" fill="#111" textLength="31" lengthAdjust="spacingAndGlyphs">Time/day</text>
<text x="13.6" y="359.6" font-size="14.8" text-anchor="start" font-weight="bold" fill="#000" textLength="18.4" lengthAdjust="spacingAndGlyphs">(b)</text>
<line x1="52.7" y1="196.7" x2="67.2" y2="196.7" stroke="#111" stroke-width="1.2"/>
<path d="M60.0 196.7h0" fill="none" stroke="#111" stroke-width="3.2" stroke-linecap="round"/>
<text x="69" y="198.9" font-size="7" text-anchor="start" font-weight="normal" fill="#111" textLength="49" lengthAdjust="spacingAndGlyphs">Med 2 Elev. 565</text>
<line x1="143.4" y1="196.6" x2="158" y2="196.6" stroke="#e8393a" stroke-width="1.2"/>
<path d="M150.8 196.6h0" fill="none" stroke="#e8393a" stroke-width="2.4" stroke-linecap="square"/>
<text x="159.8" y="198.8" font-size="7" text-anchor="start" font-weight="normal" fill="#111" textLength="50.8" lengthAdjust="spacingAndGlyphs">Low. Elev. 559 m</text>
<line x1="68.6" y1="375.2" x2="68.6" y2="511.5" stroke="#b0b0b0" stroke-width="0.7" stroke-dasharray="0.9 0.9"/>
<line x1="138.8" y1="375.2" x2="138.8" y2="511.5" stroke="#b0b0b0" stroke-width="0.7" stroke-dasharray="0.9 0.9"/>
<line x1="209.5" y1="375.2" x2="209.5" y2="511.5" stroke="#b0b0b0" stroke-width="0.7" stroke-dasharray="0.9 0.9"/>
<line x1="280.6" y1="375.2" x2="280.6" y2="511.5" stroke="#b0b0b0" stroke-width="0.7" stroke-dasharray="0.9 0.9"/>
<line x1="351.2" y1="375.2" x2="351.2" y2="511.5" stroke="#b0b0b0" stroke-width="0.7" stroke-dasharray="0.9 0.9"/>
<text x="28.6" y="508.2" font-size="5" text-anchor="start" font-weight="normal" fill="#000" textLength="22.7" lengthAdjust="spacingAndGlyphs" stroke="#000" stroke-width="0.15">Sat 2nd Jan</text>
<text x="69.8" y="508.2" font-size="5" text-anchor="start" font-weight="normal" fill="#000" textLength="23.3" lengthAdjust="spacingAndGlyphs" stroke="#000" stroke-width="0.15">Sun 3rd Jan</text>
<text x="139.9" y="508.2" font-size="5" text-anchor="start" font-weight="normal" fill="#000" textLength="24.2" lengthAdjust="spacingAndGlyphs" stroke="#000" stroke-width="0.15">Mon 4th Jan</text>
<text x="212.2" y="508.2" font-size="5" text-anchor="start" font-weight="normal" fill="#000" textLength="22" lengthAdjust="spacingAndGlyphs" stroke="#000" stroke-width="0.15">Tue 5th Jan</text>
<text x="282.2" y="508.2" font-size="5" text-anchor="start" font-weight="normal" fill="#000" textLength="23.5" lengthAdjust="spacingAndGlyphs" stroke="#000" stroke-width="0.15">Wed 6th Jan</text>
<text x="353.2" y="508.2" font-size="5" text-anchor="start" font-weight="normal" fill="#000" textLength="14.5" lengthAdjust="spacingAndGlyphs" stroke="#000" stroke-width="0.15">7th Jan</text>
<text x="415" y="507" font-size="5" text-anchor="start" font-weight="normal" fill="#000" textLength="23.8" lengthAdjust="spacingAndGlyphs" stroke="#000" stroke-width="0.15">Mon 4th Jan</text>
<path d="M203.5 479.7H217.8V488.1H262" fill="none" stroke="#555" stroke-width="0.7"/>
<path d="M265.5 488.1L261 486.3V489.9Z" fill="#111"/>
<text x="219.8" y="486.2" font-size="6" text-anchor="start" font-weight="normal" fill="#111" textLength="39.8" lengthAdjust="spacingAndGlyphs" stroke="#111" stroke-width="0.1">start of saturation</text>
<path d="M24.5 508 L25.3 503.5 L27.6 500.5 L30.6 498.2 L35.1 497.5 L38.1 499.7 L41.9 502.8 L45 501.2 L48.7 498.2 L53.3 493.7 L59.3 488.4 L63.9 483.9 L66.9 479.3 L68.4 473.3 L69.9 464.2 L72.9 458.1 L75.9 452.1 L79 446 L80.8 441.5 L82.2 436.5 L83.5 421.4 L85 413.9 L87.3 412.3 L89.6 410.8 L92.5 410.2 L94.5 413.6 L95.2 420.4 L94.5 428.6 L94.5 436.8 L95.9 424.5 L97.9 415 L100.7 416.3 L102 420.4 L102.7 431.3 L102.7 439.5 L104.1 443.6 L106.8 447.7 L109.5 445 L112.2 442.2 L115 440.9 L117.7 439.5 L120.4 436.8 L123.1 434.1 L125.2 430 L127.2 431.3 L127.2 442.2 L127.9 451.8 L130 442.2 L130.6 427.2 L132 424.5 L132.7 431.3 L133.4 442.2 L134.7 450.4 L135.4 440.9 L136.1 434.1 L136.8 421.8 L138.8 415 L140.9 410.9 L142.9 406.8 L143.6 413.6 L143.9 426.6 L144.9 405.4 L147 402.7 L149 400 L150.5 397.2 L153.5 397.2 L155.8 400.2 L157.3 406.3 L158.8 412.3 L160.3 418.4 L161.8 424.4 L163.3 429 L164.8 434 L166 440 L166.8 455.1 L168.3 449.1 L169.8 450.6 L172.1 455.1 L174.4 455.1 L176.6 461.2 L177.4 471.8 L178.1 476.3 L180.4 477 L182.7 476.3 L184.2 467.2 L185 471.8 L187.2 478.6 L189.5 478.6 L191 477.8 L191.8 470.2 L192.5 459.7 L193.3 449.1 L194 443 L194.8 439.6 L196.3 430.5 L197.8 419.9 L199.3 410.8 L200.8 404.8 L203.1 400.2 L205.4 397.2 L207.6 394.2 L209.9 392.7 L211.4 394.2 L212.2 400.2 L212.9 406.3 L214.4 407 L216.7 404.8 L219 401.8 L222 399.5 L224.3 399.5 L225.8 401.8 L227.3 406.3 L229.6 410.8 L231.8 413.9 L234.3 418.5 L236.8 426 L239.1 432 L241.3 438 L242.5 445 L243.6 455.1 L244.4 468.7 L245.1 471.8 L247.4 473.3 L249.7 472.5 L251.9 470.2 L253.4 464.2 L255 468.7 L255.7 461.2 L257.2 458.1 L259.5 453.6 L261.8 449.1 L264 444.5 L266.3 438 L267.5 445 L269.3 452.1 L270.1 430 L272.3 424.4 L275.4 418.4 L278.4 412.3 L281.4 406.3 L284.4 401.8 L287.5 398 L290.5 395 L292 394.2 L292.8 404.8 L294.3 397.2 L295.8 395.7 L297.3 400.2 L297.7 421.4 L298.8 404.8 L300.3 398.7 L301.8 402.5 L303.5 409.5 L304.8 416.8 L306.5 421.6 L308.1 426.5 L309.7 431.3 L311.3 437.7 L312 444 L312.9 456.1 L313.7 464.2 L315.3 472.3 L316.1 474.7 L316.9 469 L318.5 462.6 L320.2 456.1 L321.8 462.6 L323.4 467.4 L325.8 471.5 L328.2 473.1 L330.6 473.9 L332.3 472.3 L333.9 467.4 L335.5 461 L336.3 454.5 L337.1 446.5 L337.9 440 L339.5 432.9 L341.1 424.8 L342.7 416.8 L345.2 410.3 L346.8 402.3 L348.4 395.8 L349.2 394.2 L350.8 400.6 L351.6 408.7 L352.4 416.8 L353.2 405.5 L355.6 400.6 L358.1 397.4 L361.3 394.2 L364.5 393.4 L367.7 394.2 L369.4 399 L370.2 403.9 L371.8 395.8 L373.4 392.6 L375 391 L376.6 394.2 L377.4 399" fill="none" stroke="#f08a8a" stroke-width="1.4" stroke-linejoin="round" stroke-linecap="round"/>
<g fill="#e43a3a" stroke="#f7c4c4" stroke-width="0.6"><rect x="22.9" y="506.4" width="3.3" height="3.3"/><rect x="22.9" y="506.4" width="3.3" height="3.3"/><rect x="23.9" y="501.6" width="3.3" height="3.3"/><rect x="24.9" y="500.3" width="3.3" height="3.3"/><rect x="25.9" y="499.0" width="3.3" height="3.3"/><rect x="26.9" y="498.2" width="3.3" height="3.3"/><rect x="27.9" y="497.4" width="3.3" height="3.3"/><rect x="28.9" y="496.6" width="3.3" height="3.3"/><rect x="29.9" y="496.4" width="3.3" height="3.3"/><rect x="30.9" y="496.3" width="3.3" height="3.3"/><rect x="31.9" y="496.1" width="3.3" height="3.3"/><rect x="32.9" y="495.9" width="3.3" height="3.3"/><rect x="33.9" y="496.1" width="3.3" height="3.3"/><rect x="34.9" y="496.9" width="3.3" height="3.3"/><rect x="35.9" y="497.6" width="3.3" height="3.3"/><rect x="36.9" y="498.4" width="3.3" height="3.3"/><rect x="37.9" y="499.2" width="3.3" height="3.3"/><rect x="38.9" y="500.0" width="3.3" height="3.3"/><rect x="39.9" y="500.8" width="3.3" height="3.3"/><rect x="40.9" y="500.8" width="3.3" height="3.3"/><rect x="41.9" y="500.3" width="3.3" height="3.3"/><rect x="42.9" y="499.8" width="3.3" height="3.3"/><rect x="43.9" y="499.1" width="3.3" height="3.3"/><rect x="44.9" y="498.3" width="3.3" height="3.3"/><rect x="45.9" y="497.5" width="3.3" height="3.3"/><rect x="46.9" y="496.7" width="3.3" height="3.3"/><rect x="47.9" y="495.8" width="3.3" height="3.3"/><rect x="48.9" y="494.8" width="3.3" height="3.3"/><rect x="49.9" y="493.8" width="3.3" height="3.3"/><rect x="50.9" y="492.8" width="3.3" height="3.3"/><rect x="51.9" y="491.9" width="3.3" height="3.3"/><rect x="52.9" y="491.0" width="3.3" height="3.3"/><rect x="53.9" y="490.1" width="3.3" height="3.3"/><rect x="54.9" y="489.2" width="3.3" height="3.3"/><rect x="55.9" y="488.3" width="3.3" height="3.3"/><rect x="56.9" y="487.5" width="3.3" height="3.3"/><rect x="57.9" y="486.6" width="3.3" height="3.3"/><rect x="58.9" y="485.6" width="3.3" height="3.3"/><rect x="59.9" y="484.6" width="3.3" height="3.3"/><rect x="60.9" y="483.6" width="3.3" height="3.3"/><rect x="61.9" y="482.6" width="3.3" height="3.3"/><rect x="62.9" y="481.3" width="3.3" height="3.3"/><rect x="63.9" y="479.8" width="3.3" height="3.3"/><rect x="64.8" y="478.3" width="3.3" height="3.3"/><rect x="65.8" y="475.3" width="3.3" height="3.3"/><rect x="66.8" y="471.7" width="3.3" height="3.3"/><rect x="66.8" y="471.0" width="3.3" height="3.3"/><rect x="67.8" y="465.0" width="3.3" height="3.3"/><rect x="68.2" y="462.6" width="3.3" height="3.3"/><rect x="68.8" y="461.3" width="3.3" height="3.3"/><rect x="69.8" y="459.3" width="3.3" height="3.3"/><rect x="70.8" y="457.3" width="3.3" height="3.3"/><rect x="71.2" y="456.5" width="3.3" height="3.3"/><rect x="71.8" y="455.3" width="3.3" height="3.3"/><rect x="72.8" y="453.3" width="3.3" height="3.3"/><rect x="73.8" y="451.3" width="3.3" height="3.3"/><rect x="74.2" y="450.5" width="3.3" height="3.3"/><rect x="74.8" y="449.3" width="3.3" height="3.3"/><rect x="75.8" y="447.3" width="3.3" height="3.3"/><rect x="76.8" y="445.3" width="3.3" height="3.3"/><rect x="77.3" y="444.4" width="3.3" height="3.3"/><rect x="77.8" y="443.1" width="3.3" height="3.3"/><rect x="78.8" y="440.6" width="3.3" height="3.3"/><rect x="79.8" y="437.4" width="3.3" height="3.3"/><rect x="80.5" y="434.9" width="3.3" height="3.3"/><rect x="80.8" y="431.4" width="3.3" height="3.3"/><rect x="81.8" y="419.8" width="3.3" height="3.3"/><rect x="81.8" y="419.8" width="3.3" height="3.3"/><rect x="82.8" y="414.8" width="3.3" height="3.3"/><rect x="83.3" y="412.2" width="3.3" height="3.3"/><rect x="83.8" y="411.9" width="3.3" height="3.3"/><rect x="84.8" y="411.2" width="3.3" height="3.3"/><rect x="85.8" y="410.5" width="3.3" height="3.3"/><rect x="86.8" y="409.9" width="3.3" height="3.3"/><rect x="87.8" y="409.2" width="3.3" height="3.3"/><rect x="88.8" y="409.0" width="3.3" height="3.3"/><rect x="89.8" y="408.8" width="3.3" height="3.3"/><rect x="90.8" y="408.6" width="3.3" height="3.3"/><rect x="91.8" y="410.2" width="3.3" height="3.3"/><rect x="92.8" y="412.0" width="3.3" height="3.3"/><rect x="92.8" y="412.0" width="3.3" height="3.3"/><rect x="93.5" y="418.8" width="3.3" height="3.3"/><rect x="92.8" y="427.0" width="3.3" height="3.3"/><rect x="92.8" y="435.2" width="3.3" height="3.3"/><rect x="93.8" y="426.4" width="3.3" height="3.3"/><rect x="94.2" y="422.9" width="3.3" height="3.3"/><rect x="94.8" y="420.0" width="3.3" height="3.3"/><rect x="95.8" y="415.3" width="3.3" height="3.3"/><rect x="96.2" y="413.4" width="3.3" height="3.3"/><rect x="96.8" y="413.6" width="3.3" height="3.3"/><rect x="97.8" y="414.1" width="3.3" height="3.3"/><rect x="98.8" y="414.6" width="3.3" height="3.3"/><rect x="99.8" y="417.2" width="3.3" height="3.3"/><rect x="100.3" y="418.8" width="3.3" height="3.3"/><rect x="100.8" y="426.5" width="3.3" height="3.3"/><rect x="101.0" y="429.7" width="3.3" height="3.3"/><rect x="101.0" y="437.9" width="3.3" height="3.3"/><rect x="101.8" y="440.2" width="3.3" height="3.3"/><rect x="102.8" y="442.6" width="3.3" height="3.3"/><rect x="103.8" y="444.1" width="3.3" height="3.3"/><rect x="104.8" y="445.6" width="3.3" height="3.3"/><rect x="105.8" y="445.4" width="3.3" height="3.3"/><rect x="106.8" y="444.4" width="3.3" height="3.3"/><rect x="107.8" y="443.4" width="3.3" height="3.3"/><rect x="108.8" y="442.3" width="3.3" height="3.3"/><rect x="109.8" y="441.3" width="3.3" height="3.3"/><rect x="110.8" y="440.4" width="3.3" height="3.3"/><rect x="111.8" y="439.9" width="3.3" height="3.3"/><rect x="112.8" y="439.5" width="3.3" height="3.3"/><rect x="113.8" y="439.0" width="3.3" height="3.3"/><rect x="114.8" y="438.5" width="3.3" height="3.3"/><rect x="115.8" y="438.0" width="3.3" height="3.3"/><rect x="116.8" y="437.1" width="3.3" height="3.3"/><rect x="117.8" y="436.1" width="3.3" height="3.3"/><rect x="118.8" y="435.1" width="3.3" height="3.3"/><rect x="119.8" y="434.1" width="3.3" height="3.3"/><rect x="120.8" y="433.1" width="3.3" height="3.3"/><rect x="121.8" y="431.7" width="3.3" height="3.3"/><rect x="122.8" y="429.7" width="3.3" height="3.3"/><rect x="123.8" y="428.5" width="3.3" height="3.3"/><rect x="124.8" y="429.2" width="3.3" height="3.3"/><rect x="125.5" y="429.7" width="3.3" height="3.3"/><rect x="125.5" y="440.6" width="3.3" height="3.3"/><rect x="125.8" y="444.7" width="3.3" height="3.3"/><rect x="126.2" y="450.2" width="3.3" height="3.3"/><rect x="126.8" y="447.4" width="3.3" height="3.3"/><rect x="127.8" y="442.8" width="3.3" height="3.3"/><rect x="128.3" y="440.6" width="3.3" height="3.3"/><rect x="128.8" y="428.0" width="3.3" height="3.3"/><rect x="128.9" y="425.6" width="3.3" height="3.3"/><rect x="129.8" y="423.8" width="3.3" height="3.3"/><rect x="130.3" y="422.9" width="3.3" height="3.3"/><rect x="130.8" y="427.7" width="3.3" height="3.3"/><rect x="131.0" y="429.7" width="3.3" height="3.3"/><rect x="131.8" y="440.6" width="3.3" height="3.3"/><rect x="131.8" y="441.2" width="3.3" height="3.3"/><rect x="132.8" y="447.5" width="3.3" height="3.3"/><rect x="133.0" y="448.8" width="3.3" height="3.3"/><rect x="133.8" y="439.2" width="3.3" height="3.3"/><rect x="133.8" y="438.3" width="3.3" height="3.3"/><rect x="134.4" y="432.5" width="3.3" height="3.3"/><rect x="134.8" y="425.4" width="3.3" height="3.3"/><rect x="135.2" y="420.2" width="3.3" height="3.3"/><rect x="135.8" y="417.8" width="3.3" height="3.3"/><rect x="136.8" y="414.4" width="3.3" height="3.3"/><rect x="137.2" y="413.4" width="3.3" height="3.3"/><rect x="137.8" y="412.0" width="3.3" height="3.3"/><rect x="138.8" y="410.0" width="3.3" height="3.3"/><rect x="139.8" y="408.0" width="3.3" height="3.3"/><rect x="140.8" y="406.0" width="3.3" height="3.3"/><rect x="141.2" y="405.2" width="3.3" height="3.3"/><rect x="141.8" y="411.0" width="3.3" height="3.3"/><rect x="141.9" y="412.0" width="3.3" height="3.3"/><rect x="142.2" y="425.0" width="3.3" height="3.3"/><rect x="142.8" y="412.2" width="3.3" height="3.3"/><rect x="143.2" y="403.8" width="3.3" height="3.3"/><rect x="143.8" y="403.0" width="3.3" height="3.3"/><rect x="144.8" y="401.7" width="3.3" height="3.3"/><rect x="145.8" y="400.4" width="3.3" height="3.3"/><rect x="146.8" y="399.0" width="3.3" height="3.3"/><rect x="147.8" y="397.4" width="3.3" height="3.3"/><rect x="148.8" y="395.6" width="3.3" height="3.3"/><rect x="149.8" y="395.6" width="3.3" height="3.3"/><rect x="150.8" y="395.6" width="3.3" height="3.3"/><rect x="151.8" y="395.6" width="3.3" height="3.3"/><rect x="152.8" y="396.9" width="3.3" height="3.3"/><rect x="153.8" y="398.2" width="3.3" height="3.3"/><rect x="154.2" y="398.6" width="3.3" height="3.3"/><rect x="154.8" y="401.4" width="3.3" height="3.3"/><rect x="155.7" y="404.7" width="3.3" height="3.3"/><rect x="155.8" y="405.4" width="3.3" height="3.3"/><rect x="156.8" y="409.4" width="3.3" height="3.3"/><rect x="157.2" y="410.7" width="3.3" height="3.3"/><rect x="157.8" y="413.5" width="3.3" height="3.3"/><rect x="158.7" y="416.8" width="3.3" height="3.3"/><rect x="158.8" y="417.5" width="3.3" height="3.3"/><rect x="159.8" y="421.5" width="3.3" height="3.3"/><rect x="160.8" y="424.9" width="3.3" height="3.3"/><rect x="161.8" y="428.0" width="3.3" height="3.3"/><rect x="162.8" y="431.3" width="3.3" height="3.3"/><rect x="163.8" y="435.9" width="3.3" height="3.3"/><rect x="164.3" y="438.4" width="3.3" height="3.3"/><rect x="164.8" y="447.8" width="3.3" height="3.3"/><rect x="165.2" y="453.5" width="3.3" height="3.3"/><rect x="165.8" y="450.7" width="3.3" height="3.3"/><rect x="166.8" y="447.7" width="3.3" height="3.3"/><rect x="167.8" y="448.7" width="3.3" height="3.3"/><rect x="168.8" y="450.3" width="3.3" height="3.3"/><rect x="169.8" y="452.3" width="3.3" height="3.3"/><rect x="170.8" y="453.5" width="3.3" height="3.3"/><rect x="171.8" y="453.5" width="3.3" height="3.3"/><rect x="172.8" y="453.5" width="3.3" height="3.3"/><rect x="172.8" y="453.7" width="3.3" height="3.3"/><rect x="173.8" y="456.5" width="3.3" height="3.3"/><rect x="174.8" y="459.3" width="3.3" height="3.3"/><rect x="174.9" y="459.6" width="3.3" height="3.3"/><rect x="175.8" y="470.2" width="3.3" height="3.3"/><rect x="175.8" y="470.8" width="3.3" height="3.3"/><rect x="176.8" y="474.8" width="3.3" height="3.3"/><rect x="177.8" y="475.1" width="3.3" height="3.3"/><rect x="178.8" y="475.3" width="3.3" height="3.3"/><rect x="179.8" y="475.0" width="3.3" height="3.3"/><rect x="180.8" y="474.7" width="3.3" height="3.3"/><rect x="181.0" y="474.7" width="3.3" height="3.3"/><rect x="181.8" y="469.8" width="3.3" height="3.3"/><rect x="182.5" y="465.6" width="3.3" height="3.3"/><rect x="182.8" y="467.3" width="3.3" height="3.3"/><rect x="183.3" y="470.2" width="3.3" height="3.3"/><rect x="183.8" y="471.7" width="3.3" height="3.3"/><rect x="184.8" y="474.8" width="3.3" height="3.3"/><rect x="185.5" y="477.0" width="3.3" height="3.3"/><rect x="185.8" y="477.0" width="3.3" height="3.3"/><rect x="186.8" y="477.0" width="3.3" height="3.3"/><rect x="187.8" y="477.0" width="3.3" height="3.3"/><rect x="188.8" y="476.4" width="3.3" height="3.3"/><rect x="189.3" y="476.2" width="3.3" height="3.3"/><rect x="189.8" y="471.4" width="3.3" height="3.3"/><rect x="190.2" y="468.6" width="3.3" height="3.3"/><rect x="190.8" y="458.1" width="3.3" height="3.3"/><rect x="190.8" y="458.1" width="3.3" height="3.3"/><rect x="191.7" y="447.5" width="3.3" height="3.3"/><rect x="191.8" y="445.7" width="3.3" height="3.3"/><rect x="192.3" y="441.4" width="3.3" height="3.3"/><rect x="192.8" y="439.2" width="3.3" height="3.3"/><rect x="193.2" y="438.0" width="3.3" height="3.3"/><rect x="193.8" y="433.7" width="3.3" height="3.3"/><rect x="194.7" y="428.9" width="3.3" height="3.3"/><rect x="194.8" y="427.4" width="3.3" height="3.3"/><rect x="195.8" y="420.4" width="3.3" height="3.3"/><rect x="196.2" y="418.2" width="3.3" height="3.3"/><rect x="196.8" y="414.0" width="3.3" height="3.3"/><rect x="197.7" y="409.2" width="3.3" height="3.3"/><rect x="197.8" y="408.4" width="3.3" height="3.3"/><rect x="198.8" y="404.4" width="3.3" height="3.3"/><rect x="199.8" y="401.8" width="3.3" height="3.3"/><rect x="200.8" y="399.8" width="3.3" height="3.3"/><rect x="201.8" y="398.0" width="3.3" height="3.3"/><rect x="202.8" y="396.7" width="3.3" height="3.3"/><rect x="203.8" y="395.4" width="3.3" height="3.3"/><rect x="204.8" y="394.1" width="3.3" height="3.3"/><rect x="205.8" y="392.7" width="3.3" height="3.3"/><rect x="206.8" y="392.0" width="3.3" height="3.3"/><rect x="207.8" y="391.3" width="3.3" height="3.3"/><rect x="208.8" y="391.6" width="3.3" height="3.3"/><rect x="209.8" y="393.3" width="3.3" height="3.3"/><rect x="210.5" y="398.6" width="3.3" height="3.3"/><rect x="210.8" y="401.2" width="3.3" height="3.3"/><rect x="211.2" y="404.7" width="3.3" height="3.3"/><rect x="211.8" y="404.9" width="3.3" height="3.3"/><rect x="212.8" y="405.3" width="3.3" height="3.3"/><rect x="213.8" y="404.3" width="3.3" height="3.3"/><rect x="214.8" y="403.3" width="3.3" height="3.3"/><rect x="215.8" y="402.1" width="3.3" height="3.3"/><rect x="216.8" y="400.8" width="3.3" height="3.3"/><rect x="217.8" y="399.8" width="3.3" height="3.3"/><rect x="218.8" y="399.0" width="3.3" height="3.3"/><rect x="219.8" y="398.2" width="3.3" height="3.3"/><rect x="220.8" y="397.9" width="3.3" height="3.3"/><rect x="221.8" y="397.9" width="3.3" height="3.3"/><rect x="222.8" y="398.2" width="3.3" height="3.3"/><rect x="223.8" y="399.7" width="3.3" height="3.3"/><rect x="224.8" y="402.2" width="3.3" height="3.3"/><rect x="225.8" y="405.0" width="3.3" height="3.3"/><rect x="226.8" y="407.0" width="3.3" height="3.3"/><rect x="227.8" y="409.0" width="3.3" height="3.3"/><rect x="228.8" y="410.4" width="3.3" height="3.3"/><rect x="229.8" y="411.8" width="3.3" height="3.3"/><rect x="230.8" y="413.5" width="3.3" height="3.3"/><rect x="231.8" y="415.4" width="3.3" height="3.3"/><rect x="232.7" y="416.9" width="3.3" height="3.3"/><rect x="232.8" y="417.4" width="3.3" height="3.3"/><rect x="233.8" y="420.4" width="3.3" height="3.3"/><rect x="234.8" y="423.4" width="3.3" height="3.3"/><rect x="235.2" y="424.4" width="3.3" height="3.3"/><rect x="235.8" y="426.2" width="3.3" height="3.3"/><rect x="236.8" y="428.8" width="3.3" height="3.3"/><rect x="237.8" y="431.4" width="3.3" height="3.3"/><rect x="238.8" y="434.2" width="3.3" height="3.3"/><rect x="239.7" y="436.4" width="3.3" height="3.3"/><rect x="239.8" y="437.5" width="3.3" height="3.3"/><rect x="240.8" y="443.4" width="3.3" height="3.3"/><rect x="240.8" y="443.4" width="3.3" height="3.3"/><rect x="241.8" y="452.5" width="3.3" height="3.3"/><rect x="241.9" y="453.5" width="3.3" height="3.3"/><rect x="242.8" y="467.1" width="3.3" height="3.3"/><rect x="242.8" y="467.5" width="3.3" height="3.3"/><rect x="243.8" y="470.4" width="3.3" height="3.3"/><rect x="244.8" y="471.1" width="3.3" height="3.3"/><rect x="245.8" y="471.6" width="3.3" height="3.3"/><rect x="246.8" y="471.3" width="3.3" height="3.3"/><rect x="247.8" y="470.9" width="3.3" height="3.3"/><rect x="248.8" y="470.0" width="3.3" height="3.3"/><rect x="249.8" y="469.0" width="3.3" height="3.3"/><rect x="250.8" y="466.2" width="3.3" height="3.3"/><rect x="251.8" y="462.6" width="3.3" height="3.3"/><rect x="251.8" y="462.8" width="3.3" height="3.3"/><rect x="252.8" y="465.6" width="3.3" height="3.3"/><rect x="253.3" y="467.1" width="3.3" height="3.3"/><rect x="253.8" y="461.7" width="3.3" height="3.3"/><rect x="254.0" y="459.6" width="3.3" height="3.3"/><rect x="254.8" y="457.9" width="3.3" height="3.3"/><rect x="255.8" y="455.9" width="3.3" height="3.3"/><rect x="256.9" y="453.9" width="3.3" height="3.3"/><rect x="257.9" y="452.0" width="3.3" height="3.3"/><rect x="258.9" y="450.0" width="3.3" height="3.3"/><rect x="259.9" y="448.0" width="3.3" height="3.3"/><rect x="260.9" y="446.0" width="3.3" height="3.3"/><rect x="261.9" y="443.9" width="3.3" height="3.3"/><rect x="262.4" y="442.9" width="3.3" height="3.3"/><rect x="262.9" y="441.4" width="3.3" height="3.3"/><rect x="263.9" y="438.6" width="3.3" height="3.3"/><rect x="264.7" y="436.4" width="3.3" height="3.3"/><rect x="264.9" y="437.5" width="3.3" height="3.3"/><rect x="265.9" y="443.4" width="3.3" height="3.3"/><rect x="265.9" y="443.4" width="3.3" height="3.3"/><rect x="266.9" y="447.3" width="3.3" height="3.3"/><rect x="267.7" y="450.5" width="3.3" height="3.3"/><rect x="267.9" y="444.9" width="3.3" height="3.3"/><rect x="268.5" y="428.4" width="3.3" height="3.3"/><rect x="268.9" y="427.3" width="3.3" height="3.3"/><rect x="269.9" y="424.8" width="3.3" height="3.3"/><rect x="270.9" y="422.4" width="3.3" height="3.3"/><rect x="271.9" y="420.4" width="3.3" height="3.3"/><rect x="272.9" y="418.5" width="3.3" height="3.3"/><rect x="273.8" y="416.8" width="3.3" height="3.3"/><rect x="273.9" y="416.5" width="3.3" height="3.3"/><rect x="274.9" y="414.5" width="3.3" height="3.3"/><rect x="275.9" y="412.5" width="3.3" height="3.3"/><rect x="276.8" y="410.7" width="3.3" height="3.3"/><rect x="276.9" y="410.4" width="3.3" height="3.3"/><rect x="277.9" y="408.4" width="3.3" height="3.3"/><rect x="278.9" y="406.4" width="3.3" height="3.3"/><rect x="279.9" y="404.5" width="3.3" height="3.3"/><rect x="280.9" y="403.0" width="3.3" height="3.3"/><rect x="281.9" y="401.5" width="3.3" height="3.3"/><rect x="282.9" y="400.0" width="3.3" height="3.3"/><rect x="283.9" y="398.8" width="3.3" height="3.3"/><rect x="284.9" y="397.6" width="3.3" height="3.3"/><rect x="285.9" y="396.4" width="3.3" height="3.3"/><rect x="286.9" y="395.4" width="3.3" height="3.3"/><rect x="287.9" y="394.4" width="3.3" height="3.3"/><rect x="288.9" y="393.4" width="3.3" height="3.3"/><rect x="289.9" y="392.8" width="3.3" height="3.3"/><rect x="290.4" y="392.6" width="3.3" height="3.3"/><rect x="290.9" y="399.2" width="3.3" height="3.3"/><rect x="291.2" y="403.2" width="3.3" height="3.3"/><rect x="291.9" y="399.6" width="3.3" height="3.3"/><rect x="292.7" y="395.6" width="3.3" height="3.3"/><rect x="292.9" y="395.4" width="3.3" height="3.3"/><rect x="293.9" y="394.4" width="3.3" height="3.3"/><rect x="294.9" y="396.1" width="3.3" height="3.3"/><rect x="295.7" y="398.6" width="3.3" height="3.3"/><rect x="295.9" y="409.1" width="3.3" height="3.3"/><rect x="296.1" y="419.8" width="3.3" height="3.3"/><rect x="296.9" y="407.7" width="3.3" height="3.3"/><rect x="297.2" y="403.2" width="3.3" height="3.3"/><rect x="297.9" y="400.3" width="3.3" height="3.3"/><rect x="298.7" y="397.1" width="3.3" height="3.3"/><rect x="298.9" y="397.6" width="3.3" height="3.3"/><rect x="299.9" y="400.1" width="3.3" height="3.3"/><rect x="300.2" y="400.9" width="3.3" height="3.3"/><rect x="300.9" y="403.7" width="3.3" height="3.3"/><rect x="301.9" y="407.9" width="3.3" height="3.3"/><rect x="301.9" y="407.9" width="3.3" height="3.3"/><rect x="302.9" y="413.5" width="3.3" height="3.3"/><rect x="303.2" y="415.2" width="3.3" height="3.3"/><rect x="303.9" y="417.1" width="3.3" height="3.3"/><rect x="304.9" y="420.0" width="3.3" height="3.3"/><rect x="305.9" y="423.0" width="3.3" height="3.3"/><rect x="306.9" y="426.0" width="3.3" height="3.3"/><rect x="307.9" y="429.1" width="3.3" height="3.3"/><rect x="308.1" y="429.7" width="3.3" height="3.3"/><rect x="308.9" y="432.9" width="3.3" height="3.3"/><rect x="309.7" y="436.1" width="3.3" height="3.3"/><rect x="309.9" y="437.8" width="3.3" height="3.3"/><rect x="310.4" y="442.4" width="3.3" height="3.3"/><rect x="310.9" y="449.1" width="3.3" height="3.3"/><rect x="311.2" y="454.5" width="3.3" height="3.3"/><rect x="311.9" y="460.5" width="3.3" height="3.3"/><rect x="312.1" y="462.6" width="3.3" height="3.3"/><rect x="312.9" y="466.6" width="3.3" height="3.3"/><rect x="313.7" y="470.7" width="3.3" height="3.3"/><rect x="313.9" y="471.2" width="3.3" height="3.3"/><rect x="314.9" y="470.2" width="3.3" height="3.3"/><rect x="315.2" y="467.4" width="3.3" height="3.3"/><rect x="315.9" y="464.9" width="3.3" height="3.3"/><rect x="316.9" y="461.0" width="3.3" height="3.3"/><rect x="316.9" y="461.0" width="3.3" height="3.3"/><rect x="317.9" y="457.1" width="3.3" height="3.3"/><rect x="318.6" y="454.5" width="3.3" height="3.3"/><rect x="318.9" y="455.7" width="3.3" height="3.3"/><rect x="319.9" y="459.7" width="3.3" height="3.3"/><rect x="320.2" y="461.0" width="3.3" height="3.3"/><rect x="320.9" y="463.1" width="3.3" height="3.3"/><rect x="321.9" y="465.9" width="3.3" height="3.3"/><rect x="322.9" y="467.6" width="3.3" height="3.3"/><rect x="323.9" y="469.3" width="3.3" height="3.3"/><rect x="324.9" y="470.3" width="3.3" height="3.3"/><rect x="325.9" y="471.0" width="3.3" height="3.3"/><rect x="326.9" y="471.6" width="3.3" height="3.3"/><rect x="327.9" y="471.9" width="3.3" height="3.3"/><rect x="328.9" y="472.2" width="3.3" height="3.3"/><rect x="329.9" y="471.4" width="3.3" height="3.3"/><rect x="330.9" y="470.0" width="3.3" height="3.3"/><rect x="331.9" y="467.0" width="3.3" height="3.3"/><rect x="332.2" y="465.8" width="3.3" height="3.3"/><rect x="332.9" y="463.3" width="3.3" height="3.3"/><rect x="333.9" y="459.4" width="3.3" height="3.3"/><rect x="333.9" y="459.4" width="3.3" height="3.3"/><rect x="334.7" y="452.9" width="3.3" height="3.3"/><rect x="334.9" y="450.9" width="3.3" height="3.3"/><rect x="335.5" y="444.9" width="3.3" height="3.3"/><rect x="335.9" y="441.6" width="3.3" height="3.3"/><rect x="336.2" y="438.4" width="3.3" height="3.3"/><rect x="336.9" y="435.7" width="3.3" height="3.3"/><rect x="337.9" y="431.2" width="3.3" height="3.3"/><rect x="337.9" y="431.2" width="3.3" height="3.3"/><rect x="338.9" y="426.2" width="3.3" height="3.3"/><rect x="339.5" y="423.2" width="3.3" height="3.3"/><rect x="339.9" y="421.2" width="3.3" height="3.3"/><rect x="340.9" y="416.1" width="3.3" height="3.3"/><rect x="341.1" y="415.2" width="3.3" height="3.3"/><rect x="341.9" y="413.1" width="3.3" height="3.3"/><rect x="342.9" y="410.5" width="3.3" height="3.3"/><rect x="343.6" y="408.7" width="3.3" height="3.3"/><rect x="343.9" y="407.1" width="3.3" height="3.3"/><rect x="344.9" y="402.2" width="3.3" height="3.3"/><rect x="345.2" y="400.7" width="3.3" height="3.3"/><rect x="345.9" y="397.8" width="3.3" height="3.3"/><rect x="346.8" y="394.2" width="3.3" height="3.3"/><rect x="346.9" y="393.9" width="3.3" height="3.3"/><rect x="347.6" y="392.6" width="3.3" height="3.3"/><rect x="347.9" y="393.8" width="3.3" height="3.3"/><rect x="348.9" y="397.8" width="3.3" height="3.3"/><rect x="349.2" y="399.0" width="3.3" height="3.3"/><rect x="349.9" y="406.0" width="3.3" height="3.3"/><rect x="350.0" y="407.1" width="3.3" height="3.3"/><rect x="350.8" y="415.2" width="3.3" height="3.3"/><rect x="350.9" y="413.7" width="3.3" height="3.3"/><rect x="351.6" y="403.9" width="3.3" height="3.3"/><rect x="351.9" y="403.2" width="3.3" height="3.3"/><rect x="352.9" y="401.2" width="3.3" height="3.3"/><rect x="353.9" y="399.2" width="3.3" height="3.3"/><rect x="354.9" y="397.8" width="3.3" height="3.3"/><rect x="355.9" y="396.5" width="3.3" height="3.3"/><rect x="356.9" y="395.4" width="3.3" height="3.3"/><rect x="357.9" y="394.4" width="3.3" height="3.3"/><rect x="358.9" y="393.4" width="3.3" height="3.3"/><rect x="359.9" y="392.5" width="3.3" height="3.3"/><rect x="360.9" y="392.2" width="3.3" height="3.3"/><rect x="361.9" y="392.0" width="3.3" height="3.3"/><rect x="362.9" y="391.8" width="3.3" height="3.3"/><rect x="363.9" y="392.0" width="3.3" height="3.3"/><rect x="364.9" y="392.2" width="3.3" height="3.3"/><rect x="365.9" y="392.5" width="3.3" height="3.3"/><rect x="366.9" y="394.8" width="3.3" height="3.3"/><rect x="367.9" y="398.0" width="3.3" height="3.3"/><rect x="368.6" y="402.2" width="3.3" height="3.3"/><rect x="368.9" y="400.7" width="3.3" height="3.3"/><rect x="369.9" y="395.7" width="3.3" height="3.3"/><rect x="370.2" y="394.2" width="3.3" height="3.3"/><rect x="370.9" y="392.8" width="3.3" height="3.3"/><rect x="371.9" y="390.9" width="3.3" height="3.3"/><rect x="372.9" y="389.9" width="3.3" height="3.3"/><rect x="373.9" y="390.4" width="3.3" height="3.3"/><rect x="374.9" y="392.3" width="3.3" height="3.3"/><rect x="375.8" y="397.4" width="3.3" height="3.3"/></g>
<path d="M24.8 382.1 L25.3 388.1 L26.8 392.7 L30.6 395 L35.1 395.7 L38.1 394.2 L41.2 389.7 L43.4 385.9 L45.7 389.7 L50.2 394.2 L54.8 398.7 L59.3 403.3 L63.9 409.3 L66.9 413.9 L68.1 418.4 L68.7 424.4 L70.7 429 L72.9 432 L75.9 433.5 L79 435 L80.5 437.3 L82.5 440 L83.5 448 L84.3 455.1 L85.5 457.5 L87.7 460 L91.1 462 L93.2 463.4 L93.9 454.5 L94.5 447.7 L94.5 440.9 L95.2 453.1 L95.9 455.9 L98.6 459.3 L100.7 458.6 L102 457.2 L102.4 447.7 L102.7 435.4 L104.8 434.7 L108.2 435.4 L112.2 436.8 L116.3 437.5 L119.7 439.5 L121.8 443.6 L123.8 440.9 L125.9 431.3 L127.2 429.3 L127.9 435.4 L128.6 445 L130 451.8 L131.3 446.3 L132 435.4 L133.4 432.7 L134 439.5 L134.7 446.3 L136.1 445 L136.8 435.4 L137.5 440.9 L138.1 449 L139.5 454.5 L140.9 457.2 L142.2 459.9 L143.6 447.7 L144.3 454.5 L144.9 464 L147 468.1 L150 470.8 L152 471 L154.3 470.2 L156.5 465.7 L158 462.7 L159.6 458.1 L161.1 453.6 L162.6 449.1 L164.3 445 L166.4 436 L168.3 432 L170.6 435 L172.1 438 L173.6 435 L175.1 433.5 L176.6 427.5 L177.4 416.9 L178.1 413.9 L179.3 413.9 L179.7 500.5 L180.6 416 L181.2 415.4 L183.4 416.9 L185 422.9 L185.7 416.9 L188 415.4 L190.2 416.1 L191.8 418.4 L192.5 422.9 L193.3 430.5 L194.8 433.5 L196.3 438 L197.8 452.1 L198.6 456.6 L200.1 462.7 L202.3 467.2 L204.6 470.2 L206.9 473.3 L209.1 476.3 L211.4 477.8 L212.2 471.8 L213.7 466.5 L216 464.2 L218.2 466.5 L220.5 468.7 L222.8 470.2 L225 470.2 L226.5 467.2 L228 464.2 L229.6 459.7 L231.8 456.6 L234.1 453.6 L236.8 449.1 L239.1 444.5 L240.6 441.5 L242.1 426 L243.6 430.5 L244.4 419.9 L245.1 413.9 L248.1 413.1 L251.2 414.6 L252.7 422.9 L254.2 415.4 L255 416.9 L255.7 421.4 L257.2 426 L259.5 429 L261.8 432 L264 435 L266.3 438 L267.8 430.5 L268.6 427.5 L269.3 436.5 L270.1 442.6 L270.8 441.5 L273.1 446 L275.4 452.1 L278.4 456.6 L281.4 461.2 L284.4 465.7 L287.5 470.2 L290.5 473.3 L292.8 465.7 L293.5 474 L296.5 453.6 L296.9 471.8 L298.8 468.7 L300.3 468 L301.1 465.7 L303.3 461.2 L304.9 456.6 L305.6 454.5 L307.3 449.7 L308.9 444.8 L310.5 440.8 L311.5 441.5 L312.9 423.2 L313.7 416.8 L315.3 412.7 L316.9 415.2 L317.7 418.4 L318.5 424.8 L320.2 429.7 L321 421.6 L322.6 416.8 L325 414.4 L328.2 412.7 L331.5 413.5 L333.9 416.8 L335.5 421.6 L336.3 426.5 L337.9 432.9 L339.5 439.4 L340.3 444.2 L341.9 451.3 L342.7 456.1 L343.5 461 L345.2 465.8 L347.6 470.6 L350 473.9 L351.6 469 L352.4 456.1 L353.2 462.6 L354.8 467.4 L358.1 470.6 L361.3 473.9 L364.5 474.7 L367.7 472.3 L370.2 468.2 L371.8 470.6 L373.4 476.3 L375 477.1 L376.6 473.9 L377.4 464.2 L377.7 449.7" fill="none" stroke="#222" stroke-width="1.3" stroke-linejoin="round" stroke-linecap="round"/>
<g fill="#161616" stroke="#8a8a8a" stroke-width="0.45"><circle cx="24.8" cy="382.1" r="2"/><circle cx="24.8" cy="382.1" r="2"/><circle cx="25.8" cy="389.6" r="2"/><circle cx="26.8" cy="392.7" r="2"/><circle cx="27.8" cy="393.3" r="2"/><circle cx="28.8" cy="393.9" r="2"/><circle cx="29.8" cy="394.5" r="2"/><circle cx="30.8" cy="395.0" r="2"/><circle cx="31.8" cy="395.2" r="2"/><circle cx="32.8" cy="395.3" r="2"/><circle cx="33.8" cy="395.5" r="2"/><circle cx="34.8" cy="395.7" r="2"/><circle cx="35.8" cy="395.3" r="2"/><circle cx="36.8" cy="394.8" r="2"/><circle cx="37.8" cy="394.3" r="2"/><circle cx="38.8" cy="393.2" r="2"/><circle cx="39.8" cy="391.7" r="2"/><circle cx="40.8" cy="390.3" r="2"/><circle cx="41.8" cy="388.7" r="2"/><circle cx="42.8" cy="386.9" r="2"/><circle cx="43.4" cy="385.9" r="2"/><circle cx="43.8" cy="386.6" r="2"/><circle cx="44.8" cy="388.2" r="2"/><circle cx="45.8" cy="389.8" r="2"/><circle cx="46.8" cy="390.8" r="2"/><circle cx="47.8" cy="391.8" r="2"/><circle cx="48.8" cy="392.8" r="2"/><circle cx="49.8" cy="393.8" r="2"/><circle cx="50.8" cy="394.8" r="2"/><circle cx="51.8" cy="395.8" r="2"/><circle cx="52.8" cy="396.7" r="2"/><circle cx="53.8" cy="397.7" r="2"/><circle cx="54.8" cy="398.7" r="2"/><circle cx="55.8" cy="399.7" r="2"/><circle cx="56.8" cy="400.7" r="2"/><circle cx="57.8" cy="401.8" r="2"/><circle cx="58.8" cy="402.8" r="2"/><circle cx="59.8" cy="404.0" r="2"/><circle cx="60.8" cy="405.3" r="2"/><circle cx="61.8" cy="406.6" r="2"/><circle cx="62.8" cy="407.9" r="2"/><circle cx="63.8" cy="409.2" r="2"/><circle cx="64.8" cy="410.7" r="2"/><circle cx="65.8" cy="412.2" r="2"/><circle cx="66.8" cy="413.7" r="2"/><circle cx="67.8" cy="417.3" r="2"/><circle cx="68.8" cy="424.6" r="2"/><circle cx="69.8" cy="426.9" r="2"/><circle cx="70.8" cy="429.1" r="2"/><circle cx="71.8" cy="430.5" r="2"/><circle cx="72.8" cy="431.9" r="2"/><circle cx="73.8" cy="432.4" r="2"/><circle cx="74.8" cy="432.9" r="2"/><circle cx="75.8" cy="433.4" r="2"/><circle cx="76.8" cy="433.9" r="2"/><circle cx="77.8" cy="434.4" r="2"/><circle cx="78.8" cy="434.9" r="2"/><circle cx="79.8" cy="436.2" r="2"/><circle cx="80.8" cy="437.7" r="2"/><circle cx="81.8" cy="439.1" r="2"/><circle cx="82.5" cy="440.0" r="2"/><circle cx="82.8" cy="442.4" r="2"/><circle cx="83.5" cy="448.0" r="2"/><circle cx="83.8" cy="450.7" r="2"/><circle cx="84.3" cy="455.1" r="2"/><circle cx="84.8" cy="456.1" r="2"/><circle cx="85.8" cy="457.8" r="2"/><circle cx="86.8" cy="459.0" r="2"/><circle cx="87.8" cy="460.1" r="2"/><circle cx="88.8" cy="460.6" r="2"/><circle cx="89.8" cy="461.2" r="2"/><circle cx="90.8" cy="461.8" r="2"/><circle cx="91.8" cy="462.5" r="2"/><circle cx="92.8" cy="463.1" r="2"/><circle cx="93.2" cy="463.4" r="2"/><circle cx="93.8" cy="455.8" r="2"/><circle cx="93.9" cy="454.5" r="2"/><circle cx="94.5" cy="447.7" r="2"/><circle cx="94.5" cy="440.9" r="2"/><circle cx="94.8" cy="446.1" r="2"/><circle cx="95.2" cy="453.1" r="2"/><circle cx="95.8" cy="455.5" r="2"/><circle cx="96.8" cy="457.0" r="2"/><circle cx="97.8" cy="458.3" r="2"/><circle cx="98.8" cy="459.2" r="2"/><circle cx="99.8" cy="458.9" r="2"/><circle cx="100.8" cy="458.5" r="2"/><circle cx="101.8" cy="457.4" r="2"/><circle cx="102.0" cy="457.2" r="2"/><circle cx="102.4" cy="447.7" r="2"/><circle cx="102.7" cy="435.4" r="2"/><circle cx="102.8" cy="435.4" r="2"/><circle cx="103.8" cy="435.0" r="2"/><circle cx="104.8" cy="434.7" r="2"/><circle cx="105.8" cy="434.9" r="2"/><circle cx="106.8" cy="435.1" r="2"/><circle cx="107.8" cy="435.3" r="2"/><circle cx="108.8" cy="435.6" r="2"/><circle cx="109.8" cy="436.0" r="2"/><circle cx="110.8" cy="436.3" r="2"/><circle cx="111.8" cy="436.7" r="2"/><circle cx="112.8" cy="436.9" r="2"/><circle cx="113.8" cy="437.1" r="2"/><circle cx="114.8" cy="437.2" r="2"/><circle cx="115.8" cy="437.4" r="2"/><circle cx="116.8" cy="437.8" r="2"/><circle cx="117.8" cy="438.4" r="2"/><circle cx="118.8" cy="439.0" r="2"/><circle cx="119.8" cy="439.7" r="2"/><circle cx="120.8" cy="441.6" r="2"/><circle cx="121.8" cy="443.6" r="2"/><circle cx="122.8" cy="442.2" r="2"/><circle cx="123.8" cy="440.9" r="2"/><circle cx="123.8" cy="440.9" r="2"/><circle cx="124.8" cy="436.3" r="2"/><circle cx="125.8" cy="431.8" r="2"/><circle cx="125.9" cy="431.3" r="2"/><circle cx="126.8" cy="429.9" r="2"/><circle cx="127.2" cy="429.3" r="2"/><circle cx="127.8" cy="434.5" r="2"/><circle cx="127.9" cy="435.4" r="2"/><circle cx="128.6" cy="445.0" r="2"/><circle cx="128.8" cy="446.0" r="2"/><circle cx="129.8" cy="450.8" r="2"/><circle cx="130.0" cy="451.8" r="2"/><circle cx="130.8" cy="448.4" r="2"/><circle cx="131.3" cy="446.3" r="2"/><circle cx="131.8" cy="438.5" r="2"/><circle cx="132.0" cy="435.4" r="2"/><circle cx="132.8" cy="433.9" r="2"/><circle cx="133.4" cy="432.7" r="2"/><circle cx="133.8" cy="437.2" r="2"/><circle cx="134.0" cy="439.5" r="2"/><circle cx="134.7" cy="446.3" r="2"/><circle cx="134.8" cy="446.2" r="2"/><circle cx="135.8" cy="445.3" r="2"/><circle cx="136.1" cy="445.0" r="2"/><circle cx="136.8" cy="435.4" r="2"/><circle cx="136.8" cy="435.4" r="2"/><circle cx="137.5" cy="440.9" r="2"/><circle cx="137.8" cy="445.0" r="2"/><circle cx="138.1" cy="449.0" r="2"/><circle cx="138.8" cy="451.8" r="2"/><circle cx="139.8" cy="455.1" r="2"/><circle cx="140.8" cy="457.0" r="2"/><circle cx="141.8" cy="459.1" r="2"/><circle cx="142.2" cy="459.9" r="2"/><circle cx="142.8" cy="454.7" r="2"/><circle cx="143.6" cy="447.7" r="2"/><circle cx="143.8" cy="449.6" r="2"/><circle cx="144.3" cy="454.5" r="2"/><circle cx="144.8" cy="462.4" r="2"/><circle cx="144.9" cy="464.0" r="2"/><circle cx="145.8" cy="465.8" r="2"/><circle cx="146.8" cy="467.7" r="2"/><circle cx="147.8" cy="468.8" r="2"/><circle cx="148.8" cy="469.7" r="2"/><circle cx="149.8" cy="470.6" r="2"/><circle cx="150.8" cy="470.9" r="2"/><circle cx="151.8" cy="471.0" r="2"/><circle cx="152.8" cy="470.7" r="2"/><circle cx="153.8" cy="470.4" r="2"/><circle cx="154.8" cy="469.2" r="2"/><circle cx="155.8" cy="467.1" r="2"/><circle cx="156.8" cy="465.1" r="2"/><circle cx="157.8" cy="463.1" r="2"/><circle cx="158.8" cy="460.4" r="2"/><circle cx="159.8" cy="457.5" r="2"/><circle cx="160.8" cy="454.5" r="2"/><circle cx="161.8" cy="451.5" r="2"/><circle cx="162.8" cy="448.6" r="2"/><circle cx="163.8" cy="446.2" r="2"/><circle cx="164.3" cy="445.0" r="2"/><circle cx="164.8" cy="442.9" r="2"/><circle cx="165.8" cy="438.6" r="2"/><circle cx="166.4" cy="436.0" r="2"/><circle cx="166.8" cy="435.2" r="2"/><circle cx="167.8" cy="433.1" r="2"/><circle cx="168.8" cy="432.7" r="2"/><circle cx="169.8" cy="434.0" r="2"/><circle cx="170.8" cy="435.4" r="2"/><circle cx="171.8" cy="437.4" r="2"/><circle cx="172.8" cy="436.6" r="2"/><circle cx="173.8" cy="434.8" r="2"/><circle cx="174.8" cy="433.8" r="2"/><circle cx="175.8" cy="430.7" r="2"/><circle cx="176.6" cy="427.5" r="2"/><circle cx="176.8" cy="424.8" r="2"/><circle cx="177.4" cy="416.9" r="2"/><circle cx="177.8" cy="415.2" r="2"/><circle cx="178.8" cy="413.9" r="2"/><circle cx="179.3" cy="413.9" r="2"/><circle cx="179.7" cy="500.5" r="2"/><circle cx="179.8" cy="491.1" r="2"/><circle cx="180.6" cy="416.0" r="2"/><circle cx="180.8" cy="415.8" r="2"/><circle cx="181.8" cy="415.8" r="2"/><circle cx="182.8" cy="416.5" r="2"/><circle cx="183.8" cy="418.4" r="2"/><circle cx="184.8" cy="422.2" r="2"/><circle cx="185.0" cy="422.9" r="2"/><circle cx="185.8" cy="416.8" r="2"/><circle cx="186.8" cy="416.2" r="2"/><circle cx="187.8" cy="415.5" r="2"/><circle cx="188.8" cy="415.7" r="2"/><circle cx="189.8" cy="416.0" r="2"/><circle cx="190.8" cy="417.0" r="2"/><circle cx="191.8" cy="418.4" r="2"/><circle cx="192.5" cy="422.9" r="2"/><circle cx="192.8" cy="425.8" r="2"/><circle cx="193.3" cy="430.5" r="2"/><circle cx="193.8" cy="431.5" r="2"/><circle cx="194.8" cy="433.5" r="2"/><circle cx="195.8" cy="436.5" r="2"/><circle cx="196.3" cy="438.0" r="2"/><circle cx="196.8" cy="442.7" r="2"/><circle cx="197.8" cy="452.1" r="2"/><circle cx="197.8" cy="452.1" r="2"/><circle cx="198.6" cy="456.6" r="2"/><circle cx="198.8" cy="457.4" r="2"/><circle cx="199.8" cy="461.5" r="2"/><circle cx="200.1" cy="462.7" r="2"/><circle cx="200.8" cy="464.1" r="2"/><circle cx="201.8" cy="466.2" r="2"/><circle cx="202.8" cy="467.9" r="2"/><circle cx="203.8" cy="469.2" r="2"/><circle cx="204.8" cy="470.5" r="2"/><circle cx="205.8" cy="471.8" r="2"/><circle cx="206.8" cy="473.2" r="2"/><circle cx="207.8" cy="474.5" r="2"/><circle cx="208.8" cy="475.9" r="2"/><circle cx="209.8" cy="476.8" r="2"/><circle cx="210.8" cy="477.4" r="2"/><circle cx="211.8" cy="474.8" r="2"/><circle cx="212.8" cy="469.7" r="2"/><circle cx="213.8" cy="466.4" r="2"/><circle cx="214.8" cy="465.4" r="2"/><circle cx="215.8" cy="464.4" r="2"/><circle cx="216.8" cy="465.0" r="2"/><circle cx="217.8" cy="466.1" r="2"/><circle cx="218.8" cy="467.1" r="2"/><circle cx="219.8" cy="468.0" r="2"/><circle cx="220.8" cy="468.9" r="2"/><circle cx="221.8" cy="469.5" r="2"/><circle cx="222.8" cy="470.2" r="2"/><circle cx="223.8" cy="470.2" r="2"/><circle cx="224.8" cy="470.2" r="2"/><circle cx="225.8" cy="468.6" r="2"/><circle cx="226.8" cy="466.6" r="2"/><circle cx="227.8" cy="464.6" r="2"/><circle cx="228.8" cy="461.9" r="2"/><circle cx="229.8" cy="459.4" r="2"/><circle cx="230.8" cy="458.0" r="2"/><circle cx="231.8" cy="456.6" r="2"/><circle cx="232.8" cy="455.3" r="2"/><circle cx="233.8" cy="454.0" r="2"/><circle cx="234.8" cy="452.4" r="2"/><circle cx="235.8" cy="450.8" r="2"/><circle cx="236.8" cy="449.1" r="2"/><circle cx="237.8" cy="447.1" r="2"/><circle cx="238.8" cy="445.1" r="2"/><circle cx="239.8" cy="443.1" r="2"/><circle cx="240.6" cy="441.5" r="2"/><circle cx="240.8" cy="439.4" r="2"/><circle cx="241.8" cy="429.1" r="2"/><circle cx="242.1" cy="426.0" r="2"/><circle cx="242.8" cy="428.1" r="2"/><circle cx="243.6" cy="430.5" r="2"/><circle cx="243.8" cy="427.8" r="2"/><circle cx="244.4" cy="419.9" r="2"/><circle cx="244.8" cy="416.5" r="2"/><circle cx="245.8" cy="413.7" r="2"/><circle cx="246.8" cy="413.4" r="2"/><circle cx="247.8" cy="413.2" r="2"/><circle cx="248.8" cy="413.4" r="2"/><circle cx="249.8" cy="413.9" r="2"/><circle cx="250.8" cy="414.4" r="2"/><circle cx="251.2" cy="414.6" r="2"/><circle cx="251.8" cy="417.9" r="2"/><circle cx="252.7" cy="422.9" r="2"/><circle cx="252.8" cy="422.4" r="2"/><circle cx="253.8" cy="417.4" r="2"/><circle cx="254.2" cy="415.4" r="2"/><circle cx="254.8" cy="416.5" r="2"/><circle cx="255.8" cy="421.7" r="2"/><circle cx="256.8" cy="424.8" r="2"/><circle cx="257.8" cy="426.8" r="2"/><circle cx="258.8" cy="428.1" r="2"/><circle cx="259.8" cy="429.4" r="2"/><circle cx="260.8" cy="430.7" r="2"/><circle cx="261.8" cy="432.0" r="2"/><circle cx="262.8" cy="433.4" r="2"/><circle cx="263.8" cy="434.7" r="2"/><circle cx="264.8" cy="436.0" r="2"/><circle cx="265.8" cy="437.3" r="2"/><circle cx="266.3" cy="438.0" r="2"/><circle cx="266.8" cy="435.5" r="2"/><circle cx="267.8" cy="430.5" r="2"/><circle cx="267.8" cy="430.5" r="2"/><circle cx="268.6" cy="427.5" r="2"/><circle cx="268.8" cy="430.1" r="2"/><circle cx="269.3" cy="436.5" r="2"/><circle cx="269.8" cy="440.3" r="2"/><circle cx="270.1" cy="442.6" r="2"/><circle cx="270.8" cy="441.5" r="2"/><circle cx="271.8" cy="443.5" r="2"/><circle cx="272.8" cy="445.4" r="2"/><circle cx="273.1" cy="446.0" r="2"/><circle cx="273.8" cy="447.9" r="2"/><circle cx="274.8" cy="450.5" r="2"/><circle cx="275.4" cy="452.1" r="2"/><circle cx="275.8" cy="452.7" r="2"/><circle cx="276.8" cy="454.2" r="2"/><circle cx="277.8" cy="455.7" r="2"/><circle cx="278.8" cy="457.2" r="2"/><circle cx="279.8" cy="458.7" r="2"/><circle cx="280.8" cy="460.3" r="2"/><circle cx="281.8" cy="461.8" r="2"/><circle cx="282.8" cy="463.3" r="2"/><circle cx="283.8" cy="464.8" r="2"/><circle cx="284.8" cy="466.3" r="2"/><circle cx="285.8" cy="467.7" r="2"/><circle cx="286.8" cy="469.2" r="2"/><circle cx="287.8" cy="470.5" r="2"/><circle cx="288.8" cy="471.5" r="2"/><circle cx="289.8" cy="472.6" r="2"/><circle cx="290.5" cy="473.3" r="2"/><circle cx="290.8" cy="472.3" r="2"/><circle cx="291.8" cy="469.0" r="2"/><circle cx="292.8" cy="465.7" r="2"/><circle cx="292.8" cy="465.7" r="2"/><circle cx="293.5" cy="474.0" r="2"/><circle cx="293.8" cy="472.0" r="2"/><circle cx="294.8" cy="465.2" r="2"/><circle cx="295.8" cy="458.4" r="2"/><circle cx="296.5" cy="453.6" r="2"/><circle cx="296.8" cy="467.3" r="2"/><circle cx="296.9" cy="471.8" r="2"/><circle cx="297.8" cy="470.3" r="2"/><circle cx="298.8" cy="468.7" r="2"/><circle cx="299.8" cy="468.2" r="2"/><circle cx="300.8" cy="466.6" r="2"/><circle cx="301.8" cy="464.3" r="2"/><circle cx="302.8" cy="462.2" r="2"/><circle cx="303.8" cy="459.8" r="2"/><circle cx="304.8" cy="456.9" r="2"/><circle cx="305.8" cy="453.9" r="2"/><circle cx="306.8" cy="451.1" r="2"/><circle cx="307.8" cy="448.2" r="2"/><circle cx="308.8" cy="445.1" r="2"/><circle cx="309.8" cy="442.5" r="2"/><circle cx="310.8" cy="441.0" r="2"/><circle cx="311.5" cy="441.5" r="2"/><circle cx="311.8" cy="437.6" r="2"/><circle cx="312.8" cy="424.5" r="2"/><circle cx="312.9" cy="423.2" r="2"/><circle cx="313.7" cy="416.8" r="2"/><circle cx="313.8" cy="416.5" r="2"/><circle cx="314.8" cy="414.0" r="2"/><circle cx="315.8" cy="413.5" r="2"/><circle cx="316.8" cy="415.0" r="2"/><circle cx="317.7" cy="418.4" r="2"/><circle cx="317.8" cy="419.2" r="2"/><circle cx="318.5" cy="424.8" r="2"/><circle cx="318.8" cy="425.7" r="2"/><circle cx="319.8" cy="428.5" r="2"/><circle cx="320.2" cy="429.7" r="2"/><circle cx="320.8" cy="423.6" r="2"/><circle cx="321.0" cy="421.6" r="2"/><circle cx="321.8" cy="419.2" r="2"/><circle cx="322.8" cy="416.6" r="2"/><circle cx="323.8" cy="415.6" r="2"/><circle cx="324.8" cy="414.6" r="2"/><circle cx="325.8" cy="414.0" r="2"/><circle cx="326.8" cy="413.4" r="2"/><circle cx="327.8" cy="412.9" r="2"/><circle cx="328.8" cy="412.8" r="2"/><circle cx="329.8" cy="413.1" r="2"/><circle cx="330.8" cy="413.3" r="2"/><circle cx="331.8" cy="413.9" r="2"/><circle cx="332.8" cy="415.3" r="2"/><circle cx="333.8" cy="416.7" r="2"/><circle cx="334.8" cy="419.5" r="2"/><circle cx="335.8" cy="423.4" r="2"/><circle cx="336.3" cy="426.5" r="2"/><circle cx="336.8" cy="428.5" r="2"/><circle cx="337.8" cy="432.5" r="2"/><circle cx="337.9" cy="432.9" r="2"/><circle cx="338.8" cy="436.6" r="2"/><circle cx="339.5" cy="439.4" r="2"/><circle cx="339.8" cy="441.2" r="2"/><circle cx="340.3" cy="444.2" r="2"/><circle cx="340.8" cy="446.4" r="2"/><circle cx="341.8" cy="450.9" r="2"/><circle cx="341.9" cy="451.3" r="2"/><circle cx="342.8" cy="456.7" r="2"/><circle cx="343.8" cy="461.8" r="2"/><circle cx="344.8" cy="464.7" r="2"/><circle cx="345.8" cy="467.0" r="2"/><circle cx="346.8" cy="469.0" r="2"/><circle cx="347.8" cy="470.9" r="2"/><circle cx="348.8" cy="472.2" r="2"/><circle cx="349.8" cy="473.6" r="2"/><circle cx="350.0" cy="473.9" r="2"/><circle cx="350.8" cy="471.4" r="2"/><circle cx="351.6" cy="469.0" r="2"/><circle cx="351.8" cy="465.8" r="2"/><circle cx="352.4" cy="456.1" r="2"/><circle cx="352.8" cy="459.4" r="2"/><circle cx="353.2" cy="462.6" r="2"/><circle cx="353.8" cy="464.4" r="2"/><circle cx="354.8" cy="467.4" r="2"/><circle cx="355.8" cy="468.4" r="2"/><circle cx="356.8" cy="469.3" r="2"/><circle cx="357.8" cy="470.3" r="2"/><circle cx="358.8" cy="471.3" r="2"/><circle cx="359.8" cy="472.4" r="2"/><circle cx="360.8" cy="473.4" r="2"/><circle cx="361.8" cy="474.0" r="2"/><circle cx="362.8" cy="474.3" r="2"/><circle cx="363.8" cy="474.5" r="2"/><circle cx="364.8" cy="474.5" r="2"/><circle cx="365.8" cy="473.7" r="2"/><circle cx="366.8" cy="473.0" r="2"/><circle cx="367.8" cy="472.1" r="2"/><circle cx="368.8" cy="470.5" r="2"/><circle cx="369.8" cy="468.9" r="2"/><circle cx="370.8" cy="469.1" r="2"/><circle cx="371.8" cy="470.6" r="2"/><circle cx="372.8" cy="474.2" r="2"/><circle cx="373.8" cy="476.5" r="2"/><circle cx="374.8" cy="477.0" r="2"/><circle cx="375.8" cy="475.5" r="2"/><circle cx="376.6" cy="473.9" r="2"/><circle cx="376.8" cy="471.5" r="2"/><circle cx="377.4" cy="464.2" r="2"/><circle cx="377.7" cy="449.7" r="2"/></g>
<path d="M411.7 408.8 L417 408.4 L422.5 407.8 L428 406.1 L433.3 389 L438.8 384.3 L444.3 380.9 L449.6 497.6 L454.7 382.3 L460.2 382.9 L465.7 383.7 L471.2 383.9 L476.4 388.4" fill="none" stroke="#000" stroke-width="1.7" stroke-linejoin="round" stroke-linecap="round"/>
<path d="M411.7 408.8h0M417.0 408.4h0M422.5 407.8h0M428.0 406.1h0M433.3 389.0h0M438.8 384.3h0M444.3 380.9h0M449.6 497.6h0M454.7 382.3h0M460.2 382.9h0M465.7 383.7h0M471.2 383.9h0M476.4 388.4h0" fill="none" stroke="#000" stroke-width="3.9" stroke-linecap="round"/>
<path d="M412.3 441.2 L417.4 441.8 L422.5 442.2 L428 444.7 L433.3 460.5 L438.8 465.6 L444.3 468.1 L449.6 467.7 L455.1 467.1 L460.6 466.2 L465.9 465.6 L471.4 465.2 L476.4 460.5" fill="none" stroke="#e8393a" stroke-width="1.2" stroke-linejoin="round" stroke-linecap="round"/>
<path d="M412.3 441.2h0M417.4 441.8h0M422.5 442.2h0M428.0 444.7h0M433.3 460.5h0M438.8 465.6h0M444.3 468.1h0M449.6 467.7h0M455.1 467.1h0M460.6 466.2h0M465.9 465.6h0M471.4 465.2h0M476.4 460.5h0" fill="none" stroke="#e43030" stroke-width="3" stroke-linecap="square"/>
<path d="M412.3 441.2h0M417.4 441.8h0M422.5 442.2h0M428.0 444.7h0M433.3 460.5h0M438.8 465.6h0M444.3 468.1h0M449.6 467.7h0M455.1 467.1h0M460.6 466.2h0M465.9 465.6h0M471.4 465.2h0M476.4 460.5h0" fill="none" stroke="#f07070" stroke-width="2.3" stroke-linecap="square"/>
<rect x="24.2" y="375.2" width="354.5" height="136.3" fill="none" stroke="#0a0a0a" stroke-width="1.4"/>
<rect x="408.9" y="375.2" width="70.4" height="136.3" fill="none" stroke="#0a0a0a" stroke-width="1.4"/>
<line x1="22" y1="375.2" x2="24.2" y2="375.2" stroke="#0a0a0a" stroke-width="1.2"/>
<line x1="22" y1="409.2" x2="24.2" y2="409.2" stroke="#0a0a0a" stroke-width="1.2"/>
<line x1="22" y1="443.2" x2="24.2" y2="443.2" stroke="#0a0a0a" stroke-width="1.2"/>
<line x1="22" y1="477.2" x2="24.2" y2="477.2" stroke="#0a0a0a" stroke-width="1.2"/>
<line x1="22" y1="511.2" x2="24.2" y2="511.2" stroke="#0a0a0a" stroke-width="1.2"/>
<line x1="378.7" y1="375.2" x2="380.9" y2="375.2" stroke="#0a0a0a" stroke-width="1.2"/>
<line x1="378.7" y1="409.2" x2="380.9" y2="409.2" stroke="#0a0a0a" stroke-width="1.2"/>
<line x1="378.7" y1="443.2" x2="380.9" y2="443.2" stroke="#0a0a0a" stroke-width="1.2"/>
<line x1="378.7" y1="477.2" x2="380.9" y2="477.2" stroke="#0a0a0a" stroke-width="1.2"/>
<line x1="378.7" y1="511.2" x2="380.9" y2="511.2" stroke="#0a0a0a" stroke-width="1.2"/>
<line x1="406.7" y1="375.2" x2="408.9" y2="375.2" stroke="#0a0a0a" stroke-width="1.2"/>
<line x1="406.7" y1="420.5" x2="408.9" y2="420.5" stroke="#0a0a0a" stroke-width="1.2"/>
<line x1="406.7" y1="465.9" x2="408.9" y2="465.9" stroke="#0a0a0a" stroke-width="1.2"/>
<line x1="406.7" y1="511.2" x2="408.9" y2="511.2" stroke="#0a0a0a" stroke-width="1.2"/>
<line x1="479.3" y1="375.2" x2="481.5" y2="375.2" stroke="#0a0a0a" stroke-width="1.2"/>
<line x1="479.3" y1="420.5" x2="481.5" y2="420.5" stroke="#0a0a0a" stroke-width="1.2"/>
<line x1="479.3" y1="465.9" x2="481.5" y2="465.9" stroke="#0a0a0a" stroke-width="1.2"/>
<line x1="479.3" y1="511.2" x2="481.5" y2="511.2" stroke="#0a0a0a" stroke-width="1.2"/>
<text x="18.8" y="377.61" font-size="6.7" text-anchor="end" font-weight="bold" fill="#111" stroke="#111" stroke-width="0.2">60</text>
<text x="18.8" y="411.61" font-size="6.7" text-anchor="end" font-weight="bold" fill="#111" stroke="#111" stroke-width="0.2">45</text>
<text x="18.8" y="445.61" font-size="6.7" text-anchor="end" font-weight="bold" fill="#111" stroke="#111" stroke-width="0.2">30</text>
<text x="18.8" y="479.61" font-size="6.7" text-anchor="end" font-weight="bold" fill="#111" stroke="#111" stroke-width="0.2">15</text>
<text x="18.8" y="513.61" font-size="6.7" text-anchor="end" font-weight="bold" fill="#111" stroke="#111" stroke-width="0.2">0</text>
<text x="385.2" y="377.61" font-size="6.7" text-anchor="start" font-weight="bold" fill="#111" stroke="#111" stroke-width="0.2">60</text>
<text x="385.2" y="411.61" font-size="6.7" text-anchor="start" font-weight="bold" fill="#111" stroke="#111" stroke-width="0.2">45</text>
<text x="385.2" y="445.61" font-size="6.7" text-anchor="start" font-weight="bold" fill="#111" stroke="#111" stroke-width="0.2">30</text>
<text x="385.2" y="479.61" font-size="6.7" text-anchor="start" font-weight="bold" fill="#111" stroke="#111" stroke-width="0.2">15</text>
<text x="385.2" y="513.61" font-size="6.7" text-anchor="start" font-weight="bold" fill="#111" stroke="#111" stroke-width="0.2">0</text>
<text x="404" y="377.61" font-size="6.7" text-anchor="end" font-weight="bold" fill="#111" stroke="#111" stroke-width="0.2">45</text>
<text x="404" y="422.91" font-size="6.7" text-anchor="end" font-weight="bold" fill="#111" stroke="#111" stroke-width="0.2">30</text>
<text x="404" y="468.31" font-size="6.7" text-anchor="end" font-weight="bold" fill="#111" stroke="#111" stroke-width="0.2">15</text>
<text x="404" y="513.61" font-size="6.7" text-anchor="end" font-weight="bold" fill="#111" stroke="#111" stroke-width="0.2">0</text>
<text x="484.6" y="377.61" font-size="6.7" text-anchor="start" font-weight="bold" fill="#111" stroke="#111" stroke-width="0.2">45</text>
<text x="484.6" y="422.91" font-size="6.7" text-anchor="start" font-weight="bold" fill="#111" stroke="#111" stroke-width="0.2">30</text>
<text x="484.6" y="468.31" font-size="6.7" text-anchor="start" font-weight="bold" fill="#111" stroke="#111" stroke-width="0.2">15</text>
<text x="484.6" y="513.61" font-size="6.7" text-anchor="start" font-weight="bold" fill="#111" stroke="#111" stroke-width="0.2">0</text>
<text transform="translate(33.8 515.8) rotate(-90)" dy="0.36em" font-size="7" text-anchor="end" font-weight="bold" fill="#111" textLength="16" lengthAdjust="spacingAndGlyphs" stroke="#111" stroke-width="0.3">12:00</text>
<text transform="translate(51.43 515.8) rotate(-90)" dy="0.36em" font-size="7" text-anchor="end" font-weight="bold" fill="#111" textLength="16" lengthAdjust="spacingAndGlyphs" stroke="#111" stroke-width="0.3">18:00</text>
<text transform="translate(69.06 515.8) rotate(-90)" dy="0.36em" font-size="7" text-anchor="end" font-weight="bold" fill="#111" textLength="16" lengthAdjust="spacingAndGlyphs" stroke="#111" stroke-width="0.3">00:00</text>
<text transform="translate(86.69 515.8) rotate(-90)" dy="0.36em" font-size="7" text-anchor="end" font-weight="bold" fill="#111" textLength="16" lengthAdjust="spacingAndGlyphs" stroke="#111" stroke-width="0.3">06:00</text>
<text transform="translate(104.32 515.8) rotate(-90)" dy="0.36em" font-size="7" text-anchor="end" font-weight="bold" fill="#111" textLength="16" lengthAdjust="spacingAndGlyphs" stroke="#111" stroke-width="0.3">12:00</text>
<text transform="translate(121.95 515.8) rotate(-90)" dy="0.36em" font-size="7" text-anchor="end" font-weight="bold" fill="#111" textLength="16" lengthAdjust="spacingAndGlyphs" stroke="#111" stroke-width="0.3">18:00</text>
<text transform="translate(139.58 515.8) rotate(-90)" dy="0.36em" font-size="7" text-anchor="end" font-weight="bold" fill="#111" textLength="16" lengthAdjust="spacingAndGlyphs" stroke="#111" stroke-width="0.3">00:00</text>
<text transform="translate(157.21 515.8) rotate(-90)" dy="0.36em" font-size="7" text-anchor="end" font-weight="bold" fill="#111" textLength="16" lengthAdjust="spacingAndGlyphs" stroke="#111" stroke-width="0.3">06:00</text>
<text transform="translate(174.84 515.8) rotate(-90)" dy="0.36em" font-size="7" text-anchor="end" font-weight="bold" fill="#111" textLength="16" lengthAdjust="spacingAndGlyphs" stroke="#111" stroke-width="0.3">12:00</text>
<text transform="translate(192.47 515.8) rotate(-90)" dy="0.36em" font-size="7" text-anchor="end" font-weight="bold" fill="#111" textLength="16" lengthAdjust="spacingAndGlyphs" stroke="#111" stroke-width="0.3">18:00</text>
<text transform="translate(210.1 515.8) rotate(-90)" dy="0.36em" font-size="7" text-anchor="end" font-weight="bold" fill="#111" textLength="16" lengthAdjust="spacingAndGlyphs" stroke="#111" stroke-width="0.3">00:00</text>
<text transform="translate(227.73 515.8) rotate(-90)" dy="0.36em" font-size="7" text-anchor="end" font-weight="bold" fill="#111" textLength="16" lengthAdjust="spacingAndGlyphs" stroke="#111" stroke-width="0.3">06:00</text>
<text transform="translate(245.36 515.8) rotate(-90)" dy="0.36em" font-size="7" text-anchor="end" font-weight="bold" fill="#111" textLength="16" lengthAdjust="spacingAndGlyphs" stroke="#111" stroke-width="0.3">12:00</text>
<text transform="translate(262.99 515.8) rotate(-90)" dy="0.36em" font-size="7" text-anchor="end" font-weight="bold" fill="#111" textLength="16" lengthAdjust="spacingAndGlyphs" stroke="#111" stroke-width="0.3">18:00</text>
<text transform="translate(280.62 515.8) rotate(-90)" dy="0.36em" font-size="7" text-anchor="end" font-weight="bold" fill="#111" textLength="16" lengthAdjust="spacingAndGlyphs" stroke="#111" stroke-width="0.3">00:00</text>
<text transform="translate(298.25 515.8) rotate(-90)" dy="0.36em" font-size="7" text-anchor="end" font-weight="bold" fill="#111" textLength="16" lengthAdjust="spacingAndGlyphs" stroke="#111" stroke-width="0.3">06:00</text>
<text transform="translate(315.88 515.8) rotate(-90)" dy="0.36em" font-size="7" text-anchor="end" font-weight="bold" fill="#111" textLength="16" lengthAdjust="spacingAndGlyphs" stroke="#111" stroke-width="0.3">12:00</text>
<text transform="translate(333.51 515.8) rotate(-90)" dy="0.36em" font-size="7" text-anchor="end" font-weight="bold" fill="#111" textLength="16" lengthAdjust="spacingAndGlyphs" stroke="#111" stroke-width="0.3">18:00</text>
<text transform="translate(351.14 515.8) rotate(-90)" dy="0.36em" font-size="7" text-anchor="end" font-weight="bold" fill="#111" textLength="16" lengthAdjust="spacingAndGlyphs" stroke="#111" stroke-width="0.3">00:00</text>
<text transform="translate(368.77 515.8) rotate(-90)" dy="0.36em" font-size="7" text-anchor="end" font-weight="bold" fill="#111" textLength="16" lengthAdjust="spacingAndGlyphs" stroke="#111" stroke-width="0.3">06:00</text>
<text transform="translate(412.3 516.3) rotate(-90)" dy="0.36em" font-size="7" text-anchor="end" font-weight="bold" fill="#111" textLength="16.2" lengthAdjust="spacingAndGlyphs" stroke="#111" stroke-width="0.3">12:00</text>
<text transform="translate(433.85 516.3) rotate(-90)" dy="0.36em" font-size="7" text-anchor="end" font-weight="bold" fill="#111" textLength="16.2" lengthAdjust="spacingAndGlyphs" stroke="#111" stroke-width="0.3">13:00</text>
<text transform="translate(455.4 516.3) rotate(-90)" dy="0.36em" font-size="7" text-anchor="end" font-weight="bold" fill="#111" textLength="16.2" lengthAdjust="spacingAndGlyphs" stroke="#111" stroke-width="0.3">14:00</text>
<text transform="translate(476.95 516.3) rotate(-90)" dy="0.36em" font-size="7" text-anchor="end" font-weight="bold" fill="#111" textLength="16.2" lengthAdjust="spacingAndGlyphs" stroke="#111" stroke-width="0.3">15:00</text>
<text transform="translate(7.6 447.3) rotate(-90)" dy="0.36em" font-size="7" text-anchor="middle" font-weight="bold" fill="#111" stroke="#111" stroke-width="0.15">Flow (m<tspan dy="-2.2" font-size="4.4">3</tspan><tspan dy="2.2">/hr)</tspan></text>
<text x="354.7" y="383.7" font-size="7.2" text-anchor="middle" font-weight="bold" fill="#111" textLength="45.2" lengthAdjust="spacingAndGlyphs">Pressure (m)</text>
<text x="201.8" y="546" font-size="7.6" text-anchor="middle" font-weight="bold" fill="#111" textLength="31.5" lengthAdjust="spacingAndGlyphs">Day/time</text>
<text x="13.2" y="539.4" font-size="14.8" text-anchor="start" font-weight="bold" fill="#000" textLength="16.6" lengthAdjust="spacingAndGlyphs">(c)</text>
<line x1="151.6" y1="384.2" x2="167" y2="384.2" stroke="#111" stroke-width="1.5"/>
<path d="M159.3 384.2h0" fill="none" stroke="#111" stroke-width="3" stroke-linecap="round"/>
<text x="168.5" y="386.3" font-size="7" text-anchor="start" font-weight="normal" fill="#111" textLength="11.5" lengthAdjust="spacingAndGlyphs" font-style="italic">Flow</text>
<line x1="220" y1="383.8" x2="235.5" y2="383.8" stroke="#e8393a" stroke-width="1.2"/>
<path d="M227.8 383.8h0" fill="none" stroke="#e8393a" stroke-width="2.3" stroke-linecap="square"/>
<text x="236.6" y="385.9" font-size="7" text-anchor="start" font-weight="normal" fill="#111" textLength="44" lengthAdjust="spacingAndGlyphs">Average pressure</text>
</svg>
</body></html>
